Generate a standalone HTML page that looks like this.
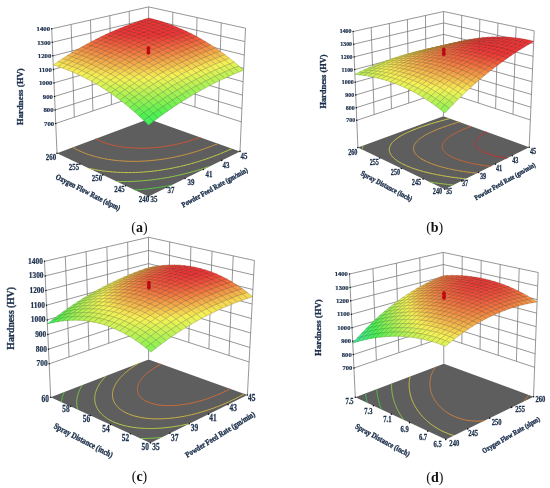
<!DOCTYPE html>
<html><head><meta charset="utf-8"><title>Hardness response surfaces</title><style>html,body{margin:0;padding:0;background:#fff;overflow:hidden;}svg{display:block;}</style></head>
<body><svg width="550" height="488" viewBox="0 0 550 488" font-family="'Liberation Serif', 'Times New Roman', serif" font-weight="bold" fill="#1b2f4b" stroke-width="0.45"><g><path d="M55.73,123.48L148.6,92.15L241.32,121.89M55.15,109.95L148.6,79.97L241.91,108.51M54.58,96.43L148.6,67.79L242.51,95.12M54,82.9L148.6,55.61L243.11,81.74M53.43,69.38L148.6,43.44L243.71,68.35M52.85,55.85L148.6,31.26L244.3,54.97M52.28,42.33L148.6,19.08L244.9,41.58M51.7,28.8L148.6,6.9L245.5,28.2M57,153.3L51.7,28.8M74.3,117.21L71.08,24.42M92.88,110.95L90.46,20.04M111.45,104.68L109.84,15.66M130.03,98.41L129.22,11.28M148.6,119L148.6,6.9M240,151.4L245.5,28.2M218.14,114.45L221.28,22.88M194.96,107.02L197.05,17.55M171.78,99.58L172.82,12.23" stroke="#747474" stroke-width="0.75" fill="none"/>
<polygon points="148.5,196.5 57,153.3 148.6,119 240,151.4" fill="#5e5e5e"/>
<g fill="none" stroke-width="1.0"><polyline points="134.71,189.99 135.91,189.92 137.14,189.83 138.73,189.72 140.2,189.6 141.29,189.51 142.66,189.39 144.2,189.24 145.74,189.09 146.94,188.96 148.1,188.84 149.51,188.67 150.99,188.49 152.47,188.31 153.93,188.12 155.33,187.92 156.58,187.75 157.85,187.56 159.13,187.36 160.43,187.16 161.78,186.94 163.17,186.71 164.56,186.47 165.93,186.23 167.3,185.98 168.65,185.73 170.01,185.47 171.46,185.18 171.46,185.18" stroke="#54cc45"/><polyline points="116.53,181.41 118.17,181.46 119.39,181.49 120.85,181.51 122.18,181.53 123.58,181.54 124.91,181.53 126.38,181.52 127.57,181.51 129.25,181.48 130.22,181.45 131.9,181.4 133.19,181.35 134.42,181.3 136.08,181.22 137.27,181.15 138.54,181.07 140.15,180.97 141.5,180.87 142.58,180.78 144.11,180.66 145.66,180.52 147.03,180.38 148.17,180.27 149.48,180.13 150.98,179.96 152.47,179.79 153.94,179.6 155.3,179.43 156.54,179.26 157.79,179.08 159.06,178.9 160.43,178.7 161.83,178.48 163.23,178.25 164.62,178.02 165.99,177.78 167.36,177.54 168.71,177.29 170.06,177.04 171.39,176.78 172.83,176.49 174.33,176.18 175.87,175.86 177.28,175.55 178.57,175.27 179.84,174.98 181.11,174.68 182.37,174.38 184.03,173.98 185.48,173.62 186.72,173.31 187.94,172.99 189.41,172.6 190.97,172.18 192.17,171.85 193.36,171.52 195.13,171.01 196.3,170.67 197.47,170.32 199.21,169.8 200.36,169.44 201.86,168.97 203.2,168.54 204.33,168.18 206.01,167.63 207.12,167.25 208.78,166.69 209.46,166.45" stroke="#8fcd47"/><polyline points="88.78,168.3 90.39,168.67 91.67,168.94 92.97,169.21 94.29,169.47 95.63,169.72 96.99,169.97 98.36,170.2 99.75,170.43 101.17,170.64 102.6,170.85 104.05,171.04 105.45,171.22 106.64,171.36 107.8,171.49 109.3,171.65 110.85,171.8 112.27,171.92 113.35,172.01 114.83,172.11 116.47,172.22 117.52,172.28 118.96,172.35 120.52,172.42 121.52,172.46 123.27,172.51 124.38,172.53 125.93,172.56 127.17,172.57 128.67,172.57 129.9,172.56 131.48,172.55 132.55,172.53 134.29,172.48 135.35,172.45 136.85,172.39 138.35,172.33 139.37,172.28 140.99,172.18 142.49,172.09 143.56,172.01 145.01,171.9 146.58,171.78 147.93,171.65 149.06,171.55 150.43,171.41 151.94,171.25 153.44,171.08 154.9,170.91 156.12,170.76 157.35,170.59 158.6,170.43 159.99,170.23 161.41,170.02 162.82,169.8 164.21,169.58 165.59,169.35 166.96,169.11 168.32,168.87 169.66,168.63 171,168.37 172.32,168.12 173.75,167.83 175.29,167.51 176.87,167.18 178.16,166.89 179.43,166.61 180.69,166.32 181.94,166.02 183.56,165.63 185.03,165.27 186.25,164.96 187.46,164.64 189.11,164.21 190.45,163.84 191.64,163.51 193.15,163.09 194.56,162.68 195.72,162.34 197.44,161.82 198.58,161.47 199.91,161.05 201.39,160.58 202.51,160.22 204.16,159.67 205.26,159.31 206.89,158.75 208.04,158.35 209.58,157.8 211.17,157.23 212.23,156.84 213.8,156.25 214.93,155.82 216.38,155.26 217.91,154.66 219.31,154.11 220.44,153.65 221.93,153.03 223.42,152.41 224.89,151.79 225.86,151.37 227.31,150.73 228.75,150.09 230.17,149.45 231.58,148.8 232.05,148.58" stroke="#c4ce49"/><polyline points="72.85,147.36 74.04,148.06 74.84,148.51 76.08,149.18 77.35,149.84 78.66,150.49 80,151.12 81.38,151.74 82.8,152.34 84.25,152.93 85.73,153.51 86.8,153.9 88.3,154.43 89.88,154.97 90.96,155.32 92.62,155.82 93.74,156.15 95.39,156.61 96.63,156.94 97.82,157.24 99.35,157.61 100.87,157.96 102.13,158.23 103.4,158.49 104.7,158.74 106.01,158.99 107.35,159.22 108.71,159.44 110.1,159.66 111.5,159.86 112.93,160.05 114.39,160.23 115.86,160.4 117.37,160.56 118.61,160.67 119.73,160.77 121.24,160.89 122.84,161 124.02,161.07 125.29,161.14 126.97,161.22 128.06,161.25 129.54,161.3 130.96,161.33 132.19,161.34 133.76,161.35 134.92,161.35 136.47,161.33 137.73,161.31 139.1,161.27 140.65,161.22 141.67,161.18 143.34,161.1 144.69,161.03 145.81,160.96 147.42,160.85 148.94,160.74 150.03,160.65 151.34,160.53 152.88,160.38 154.39,160.23 155.76,160.07 156.96,159.93 158.18,159.78 159.55,159.61 160.98,159.41 162.4,159.21 163.81,159 165.2,158.78 166.57,158.55 167.93,158.32 169.28,158.08 170.62,157.84 171.94,157.59 173.25,157.33 174.72,157.03 176.32,156.7 177.74,156.39 179,156.11 180.24,155.82 181.48,155.53 183.22,155.11 184.53,154.78 185.73,154.47 187.06,154.12 188.69,153.69 189.86,153.36 191.28,152.96 192.74,152.54 193.87,152.2 195.56,151.69 196.68,151.35 198.34,150.82 199.43,150.47 201.06,149.93 202.14,149.56 203.74,149.01 204.81,148.64 206.36,148.08 207.92,147.51 208.94,147.13 210.47,146.55 211.98,145.96 213.48,145.37 214.47,144.97 215.94,144.37 217.39,143.76 217.87,143.56" stroke="#cf9840"/><polyline points="95.73,138.8 96.95,139.43 98.16,140.03 99.08,140.46 100.42,141.05 101.8,141.63 103.23,142.19 104.21,142.55 105.72,143.07 107.28,143.58 108.35,143.91 109.99,144.38 111.12,144.68 112.85,145.12 114.03,145.4 115.24,145.66 116.6,145.95 118.25,146.26 119.68,146.51 121,146.73 122.36,146.93 123.75,147.13 125.16,147.3 126.52,147.46 127.73,147.58 128.9,147.69 130.36,147.81 131.93,147.92 133.32,148.01 134.36,148.06 136,148.13 137.39,148.17 138.57,148.19 140.26,148.21 141.24,148.21 143.02,148.2 144.01,148.18 145.66,148.14 146.91,148.09 148.22,148.04 149.88,147.95 150.98,147.88 152.31,147.79 153.89,147.66 155.34,147.54 156.47,147.43 157.72,147.3 159.21,147.13 160.67,146.96 162.12,146.77 163.54,146.58 164.94,146.37 166.33,146.16 167.69,145.94 169.04,145.71 170.37,145.47 171.68,145.23 172.98,144.98 174.27,144.72 175.54,144.46 177.22,144.09 178.65,143.77 179.87,143.49 181.07,143.2 182.82,142.76 184.04,142.45 185.2,142.14 186.92,141.66 188.06,141.34 189.59,140.9 190.85,140.52 192.3,140.08 193.57,139.67 195.18,139.15 196.23,138.8 197.8,138.26 199.14,137.79 200.37,137.35 200.37,137.35" stroke="#cc5634"/></g>
<g fill="#111"><circle cx="55.73" cy="123.48" r="0.75"/><circle cx="55.15" cy="109.95" r="0.75"/><circle cx="54.58" cy="96.43" r="0.75"/><circle cx="54" cy="82.9" r="0.75"/><circle cx="53.43" cy="69.38" r="0.75"/><circle cx="52.85" cy="55.85" r="0.75"/><circle cx="52.28" cy="42.33" r="0.75"/><circle cx="51.7" cy="28.8" r="0.75"/><circle cx="125.62" cy="185.7" r="0.8"/><circle cx="102.75" cy="174.9" r="0.8"/><circle cx="79.88" cy="164.1" r="0.8"/><circle cx="57" cy="153.3" r="0.8"/><circle cx="166.8" cy="187.48" r="0.8"/><circle cx="185.1" cy="178.46" r="0.8"/><circle cx="203.4" cy="169.44" r="0.8"/><circle cx="221.7" cy="160.42" r="0.8"/><circle cx="240" cy="151.4" r="0.8"/><circle cx="148.5" cy="196.5" r="0.8"/></g>
<g font-size="6.75" text-anchor="end" stroke="#1b2f4b" stroke-width="0.22"><text x="54.13" y="125.71">700</text><text x="53.55" y="112.18">800</text><text x="52.98" y="98.66">900</text><text x="52.4" y="85.13">1000</text><text x="51.83" y="71.6">1100</text><text x="51.25" y="58.08">1200</text><text x="50.68" y="44.55">1300</text><text x="50.1" y="31.03">1400</text></g>
<g font-size="6.9" text-anchor="middle" stroke="#1b2f4b" stroke-width="0.2"><text transform="translate(144,199) scale(1,1.28)" y="2.28">240</text><text transform="translate(119.5,189) scale(1,1.28)" y="2.28">245</text><text transform="translate(97,178) scale(1,1.28)" y="2.28">250</text><text transform="translate(74,167) scale(1,1.28)" y="2.28">255</text><text transform="translate(51,157) scale(1,1.28)" y="2.28">260</text><text transform="translate(154,199) scale(1,1.28)" y="2.28">35</text><text transform="translate(171,190.5) scale(1,1.28)" y="2.28">37</text><text transform="translate(191,182.3) scale(1,1.28)" y="2.28">39</text><text transform="translate(209,174) scale(1,1.28)" y="2.28">41</text><text transform="translate(226,165) scale(1,1.28)" y="2.28">43</text><text transform="translate(244,156) scale(1,1.28)" y="2.28">45</text></g>
<g stroke-width="0.38" stroke-linejoin="round"><path d="M148.6,20.8L143.78,19.56L148.6,18.02L153.42,19.24Z" fill="#ee3434" stroke="#942020"/><path d="M143.78,22.43L138.97,21.18L143.78,19.56L148.6,20.8Z" fill="#ee3434" stroke="#942020"/><path d="M153.42,22.17L148.6,20.8L153.42,19.24L158.23,20.6Z" fill="#ee3434" stroke="#942020"/><path d="M158.23,23.67L153.42,22.17L158.23,20.6L163.05,22.09Z" fill="#ee3434" stroke="#942020"/><path d="M148.6,23.82L143.78,22.43L148.6,20.8L153.42,22.17Z" fill="#ee3434" stroke="#942020"/><path d="M138.97,24.15L134.15,22.89L138.97,21.18L143.78,22.43Z" fill="#ee3434" stroke="#942020"/><path d="M153.41,25.34L148.6,23.82L153.42,22.17L158.23,23.67Z" fill="#ee3434" stroke="#942020"/><path d="M134.16,25.94L129.34,24.67L134.15,22.89L138.97,24.15Z" fill="#ee3434" stroke="#942020"/><path d="M163.04,25.32L158.23,23.67L163.05,22.09L167.86,23.72Z" fill="#ee3434" stroke="#942020"/><path d="M143.78,25.54L138.97,24.15L143.78,22.43L148.6,23.82Z" fill="#ee3434" stroke="#942020"/><path d="M167.85,27.1L163.04,25.32L167.86,23.72L172.67,25.49Z" fill="#ee3434" stroke="#942020"/><path d="M158.23,27L153.41,25.34L158.23,23.67L163.04,25.32Z" fill="#ee3434" stroke="#942020"/><path d="M148.6,27.08L143.78,25.54L148.6,23.82L153.41,25.34Z" fill="#ee3434" stroke="#942020"/><path d="M138.97,27.35L134.16,25.94L138.97,24.15L143.78,25.54Z" fill="#ee3434" stroke="#942020"/><path d="M129.35,27.81L124.54,26.53L129.34,24.67L134.16,25.94Z" fill="#ee3434" stroke="#942020"/><path d="M172.65,29.03L167.85,27.1L172.67,25.49L177.47,27.4Z" fill="#ee3434" stroke="#942020"/><path d="M153.41,28.75L148.6,27.08L153.41,25.34L158.23,27Z" fill="#ee3434" stroke="#942020"/><path d="M143.79,28.9L138.97,27.35L143.78,25.54L148.6,27.08Z" fill="#ee3434" stroke="#942020"/><path d="M124.55,29.77L119.74,28.47L124.54,26.53L129.35,27.81Z" fill="#ee3434" stroke="#942020"/><path d="M163.03,28.8L158.23,27L163.04,25.32L167.85,27.1Z" fill="#ee3434" stroke="#942020"/><path d="M134.16,29.24L129.35,27.81L134.16,25.94L138.97,27.35Z" fill="#ee3434" stroke="#942020"/><path d="M167.84,30.74L163.03,28.8L167.85,27.1L172.65,29.03Z" fill="#ee3434" stroke="#942020"/><path d="M148.6,30.59L143.79,28.9L148.6,27.08L153.41,28.75Z" fill="#ee3434" stroke="#942020"/><path d="M138.98,30.8L134.16,29.24L138.97,27.35L143.79,28.9Z" fill="#ee3434" stroke="#942020"/><path d="M119.75,31.81L114.94,30.5L119.74,28.47L124.55,29.77Z" fill="#ee3434" stroke="#942020"/><path d="M177.45,31.1L172.65,29.03L177.47,27.4L182.26,29.46Z" fill="#ee3434" stroke="#942020"/><path d="M158.22,30.57L153.41,28.75L158.23,27L163.03,28.8Z" fill="#ee3434" stroke="#942020"/><path d="M129.36,31.21L124.55,29.77L129.35,27.81L134.16,29.24Z" fill="#ee3434" stroke="#942020"/><path d="M182.24,33.32L177.45,31.1L182.26,29.46L187.05,31.66Z" fill="#ee3434" stroke="#942020"/><path d="M172.64,32.83L167.84,30.74L172.65,29.03L177.45,31.1Z" fill="#ee3434" stroke="#942020"/><path d="M163.03,32.53L158.22,30.57L163.03,28.8L167.84,30.74Z" fill="#ee3434" stroke="#942020"/><path d="M153.41,32.42L148.6,30.59L153.41,28.75L158.22,30.57Z" fill="#ee3434" stroke="#942020"/><path d="M143.79,32.51L138.98,30.8L143.79,28.9L148.6,30.59Z" fill="#ee3434" stroke="#942020"/><path d="M134.17,32.79L129.36,31.21L134.16,29.24L138.98,30.8Z" fill="#ee3434" stroke="#942020"/><path d="M124.56,33.27L119.75,31.81L124.55,29.77L129.36,31.21Z" fill="#ee3434" stroke="#942020"/><path d="M114.95,33.94L110.15,32.61L114.94,30.5L119.75,31.81Z" fill="#ee3534" stroke="#942120"/><path d="M177.43,35.06L172.64,32.83L177.45,31.1L182.24,33.32Z" fill="#ee3434" stroke="#942020"/><path d="M158.22,34.4L153.41,32.42L158.22,30.57L163.03,32.53Z" fill="#ee3434" stroke="#942020"/><path d="M129.37,34.86L124.56,33.27L129.36,31.21L134.17,32.79Z" fill="#ee3434" stroke="#942020"/><path d="M110.17,36.15L105.36,34.81L110.15,32.61L114.95,33.94Z" fill="#ee3f36" stroke="#942721"/><path d="M187.03,35.69L182.24,33.32L187.05,31.66L191.83,34.01Z" fill="#ee3b35" stroke="#942521"/><path d="M167.83,34.63L163.03,32.53L167.84,30.74L172.64,32.83Z" fill="#ee3434" stroke="#942020"/><path d="M148.6,34.36L143.79,32.51L148.6,30.59L153.41,32.42Z" fill="#ee3434" stroke="#942020"/><path d="M138.98,34.51L134.17,32.79L138.98,30.8L143.79,32.51Z" fill="#ee3434" stroke="#942020"/><path d="M119.76,35.41L114.95,33.94L119.75,31.81L124.56,33.27Z" fill="#ee3534" stroke="#942120"/><path d="M191.8,38.2L187.03,35.69L191.83,34.01L196.61,36.5Z" fill="#ef4938" stroke="#942d23"/><path d="M182.22,37.45L177.43,35.06L182.24,33.32L187.03,35.69Z" fill="#ee3e36" stroke="#942721"/><path d="M172.62,36.89L167.83,34.63L172.64,32.83L177.43,35.06Z" fill="#ee3634" stroke="#942220"/><path d="M163.02,36.52L158.22,34.4L163.03,32.53L167.83,34.63Z" fill="#ee3434" stroke="#942020"/><path d="M153.41,36.35L148.6,34.36L153.41,32.42L158.22,34.4Z" fill="#ee3434" stroke="#942020"/><path d="M143.79,36.38L138.98,34.51L143.79,32.51L148.6,34.36Z" fill="#ee3434" stroke="#942020"/><path d="M134.18,36.6L129.37,34.86L134.17,32.79L138.98,34.51Z" fill="#ee3434" stroke="#942020"/><path d="M124.57,37.02L119.76,35.41L124.56,33.27L129.37,34.86Z" fill="#ee3735" stroke="#942221"/><path d="M114.97,37.63L110.17,36.15L114.95,33.94L119.76,35.41Z" fill="#ee4036" stroke="#942722"/><path d="M105.38,38.45L100.58,37.09L105.36,34.81L110.17,36.15Z" fill="#ef4b38" stroke="#942e23"/><path d="M196.57,40.87L191.8,38.2L196.61,36.5L201.37,39.16Z" fill="#f0583b" stroke="#953724"/><path d="M177.41,39.29L172.62,36.89L177.43,35.06L182.22,37.45Z" fill="#ef4237" stroke="#942922"/><path d="M167.81,38.79L163.02,36.52L167.83,34.63L172.62,36.89Z" fill="#ee3b35" stroke="#942521"/><path d="M148.6,38.39L143.79,36.38L148.6,34.36L153.41,36.35Z" fill="#ee3634" stroke="#942120"/><path d="M129.38,38.77L124.57,37.02L129.37,34.86L134.18,36.6Z" fill="#ee3b35" stroke="#942421"/><path d="M119.78,39.26L114.97,37.63L119.76,35.41L124.57,37.02Z" fill="#ef4136" stroke="#942922"/><path d="M187,39.98L182.22,37.45L187.03,35.69L191.8,38.2Z" fill="#ef4c38" stroke="#942f23"/><path d="M158.21,38.49L153.41,36.35L158.22,34.4L163.02,36.52Z" fill="#ee3735" stroke="#942221"/><path d="M138.99,38.48L134.18,36.6L138.98,34.51L143.79,36.38Z" fill="#ee3735" stroke="#942221"/><path d="M110.19,39.95L105.38,38.45L110.17,36.15L114.97,37.63Z" fill="#ef4b38" stroke="#942e23"/><path d="M100.61,40.84L95.81,39.46L100.58,37.09L105.38,38.45Z" fill="#ef573a" stroke="#943624"/><path d="M191.77,42.67L187,39.98L191.8,38.2L196.57,40.87Z" fill="#f05b3b" stroke="#953925"/><path d="M172.6,41.21L167.81,38.79L172.62,36.89L177.41,39.29Z" fill="#ef4737" stroke="#942c22"/><path d="M163.01,40.78L158.21,38.49L163.02,36.52L167.81,38.79Z" fill="#ef4136" stroke="#942822"/><path d="M143.8,40.5L138.99,38.48L143.79,36.38L148.6,38.39Z" fill="#ee3e36" stroke="#942621"/><path d="M124.59,41.03L119.78,39.26L124.57,37.02L129.38,38.77Z" fill="#ef4537" stroke="#942b22"/><path d="M114.99,41.59L110.19,39.95L114.97,37.63L119.78,39.26Z" fill="#ef4c38" stroke="#942f23"/><path d="M95.84,43.31L91.04,41.92L95.81,39.46L100.61,40.84Z" fill="#f0643d" stroke="#953e26"/><path d="M201.32,43.7L196.57,40.87L201.37,39.16L206.12,41.96Z" fill="#f0693e" stroke="#954126"/><path d="M182.19,41.84L177.41,39.29L182.22,37.45L187,39.98Z" fill="#ef5039" stroke="#943223"/><path d="M153.4,40.54L148.6,38.39L153.41,36.35L158.21,38.49Z" fill="#ee3e36" stroke="#942721"/><path d="M134.19,40.67L129.38,38.77L134.18,36.6L138.99,38.48Z" fill="#ee4036" stroke="#942822"/><path d="M105.41,42.35L100.61,40.84L105.38,38.45L110.19,39.95Z" fill="#ef573a" stroke="#943624"/><path d="M206.07,46.68L201.32,43.7L206.12,41.96L210.86,44.92Z" fill="#f17c41" stroke="#954d28"/><path d="M196.53,45.51L191.77,42.67L196.57,40.87L201.32,43.7Z" fill="#f06c3e" stroke="#954326"/><path d="M186.96,44.55L182.19,41.84L187,39.98L191.77,42.67Z" fill="#f05f3c" stroke="#953b25"/><path d="M177.39,43.78L172.6,41.21L177.41,39.29L182.19,41.84Z" fill="#ef553a" stroke="#943424"/><path d="M167.8,43.22L163.01,40.78L167.81,38.79L172.6,41.21Z" fill="#ef4d38" stroke="#943023"/><path d="M158.2,42.85L153.4,40.54L158.21,38.49L163.01,40.78Z" fill="#ef4838" stroke="#942d22"/><path d="M148.6,42.68L143.8,40.5L148.6,38.39L153.4,40.54Z" fill="#ef4637" stroke="#942b22"/><path d="M139,42.71L134.19,40.67L138.99,38.48L143.8,40.5Z" fill="#ef4637" stroke="#942c22"/><path d="M129.4,42.94L124.59,41.03L129.38,38.77L134.19,40.67Z" fill="#ef4a38" stroke="#942e23"/><path d="M119.8,43.37L114.99,41.59L119.78,39.26L124.59,41.03Z" fill="#ef5039" stroke="#943123"/><path d="M110.21,44.01L105.41,42.35L110.19,39.95L114.99,41.59Z" fill="#f0583a" stroke="#953724"/><path d="M100.64,44.84L95.84,43.31L100.61,40.84L105.41,42.35Z" fill="#f0643d" stroke="#953e26"/><path d="M91.08,45.88L86.28,44.48L91.04,41.92L95.84,43.31Z" fill="#f1723f" stroke="#954727"/><path d="M210.8,49.81L206.07,46.68L210.86,44.92L215.59,48.04Z" fill="#f29044" stroke="#96592a"/><path d="M201.27,48.51L196.53,45.51L201.32,43.7L206.07,46.68Z" fill="#f17e41" stroke="#954e28"/><path d="M191.73,47.41L186.96,44.55L191.77,42.67L196.53,45.51Z" fill="#f16f3f" stroke="#954527"/><path d="M182.16,46.51L177.39,43.78L182.19,41.84L186.96,44.55Z" fill="#f0633c" stroke="#953e26"/><path d="M172.58,45.81L167.8,43.22L172.6,41.21L177.39,43.78Z" fill="#f05a3b" stroke="#953824"/><path d="M163,45.3L158.2,42.85L163.01,40.78L167.8,43.22Z" fill="#ef543a" stroke="#943424"/><path d="M153.4,45L148.6,42.68L153.4,40.54L158.2,42.85Z" fill="#ef5039" stroke="#943123"/><path d="M143.8,44.9L139,42.71L143.8,40.5L148.6,42.68Z" fill="#ef4e39" stroke="#943123"/><path d="M134.2,45L129.4,42.94L134.19,40.67L139,42.71Z" fill="#ef5039" stroke="#943223"/><path d="M124.61,45.3L119.8,43.37L124.59,41.03L129.4,42.94Z" fill="#ef543a" stroke="#943424"/><path d="M115.02,45.81L110.21,44.01L114.99,41.59L119.8,43.37Z" fill="#f05b3b" stroke="#953925"/><path d="M105.44,46.52L100.64,44.84L105.41,42.35L110.21,44.01Z" fill="#f0653d" stroke="#953f26"/><path d="M95.87,47.43L91.08,45.88L95.84,43.31L100.64,44.84Z" fill="#f1713f" stroke="#954627"/><path d="M86.32,48.54L81.53,47.12L86.28,44.48L91.08,45.88Z" fill="#f18142" stroke="#965029"/><path d="M215.52,53.11L210.8,49.81L215.59,48.04L220.3,51.31Z" fill="#f3a548" stroke="#97662d"/><path d="M206.01,51.67L201.27,48.51L206.07,46.68L210.8,49.81Z" fill="#f29245" stroke="#965b2b"/><path d="M196.48,50.43L191.73,47.41L196.53,45.51L201.27,48.51Z" fill="#f18242" stroke="#965029"/><path d="M186.93,49.39L182.16,46.51L186.96,44.55L191.73,47.41Z" fill="#f1743f" stroke="#954827"/><path d="M177.36,48.55L172.58,45.81L177.39,43.78L182.16,46.51Z" fill="#f0693d" stroke="#954126"/><path d="M167.78,47.91L163,45.3L167.8,43.22L172.58,45.81Z" fill="#f0613c" stroke="#953c25"/><path d="M158.2,47.48L153.4,45L158.2,42.85L163,45.3Z" fill="#f05b3b" stroke="#953825"/><path d="M148.6,47.24L143.8,44.9L148.6,42.68L153.4,45Z" fill="#f0583a" stroke="#953724"/><path d="M139.01,47.21L134.2,45L139,42.71L143.8,44.9Z" fill="#f0583a" stroke="#943724"/><path d="M129.41,47.38L124.61,45.3L129.4,42.94L134.2,45Z" fill="#f05a3b" stroke="#953825"/><path d="M119.82,47.76L115.02,45.81L119.8,43.37L124.61,45.3Z" fill="#f0603c" stroke="#953b25"/><path d="M110.24,48.33L105.44,46.52L110.21,44.01L115.02,45.81Z" fill="#f0683d" stroke="#954026"/><path d="M100.67,49.12L95.87,47.43L100.64,44.84L105.44,46.52Z" fill="#f1723f" stroke="#954727"/><path d="M91.11,50.1L86.32,48.54L91.08,45.88L95.87,47.43Z" fill="#f18042" stroke="#964f29"/><path d="M81.58,51.29L76.79,49.86L81.53,47.12L86.32,48.54Z" fill="#f29044" stroke="#96592a"/><path d="M220.22,56.57L215.52,53.11L220.3,51.31L225,54.75Z" fill="#f4bc4c" stroke="#97752f"/><path d="M210.73,54.99L206.01,51.67L210.8,49.81L215.52,53.11Z" fill="#f3a749" stroke="#97682d"/><path d="M201.22,53.61L196.48,50.43L201.27,48.51L206.01,51.67Z" fill="#f29545" stroke="#965c2b"/><path d="M191.68,52.43L186.93,49.39L191.73,47.41L196.48,50.43Z" fill="#f18643" stroke="#965329"/><path d="M172.56,50.68L167.78,47.91L172.58,45.81L177.36,48.55Z" fill="#f06f3f" stroke="#954527"/><path d="M162.98,50.11L158.2,47.48L163,45.3L167.78,47.91Z" fill="#f0683d" stroke="#954026"/><path d="M153.4,49.74L148.6,47.24L153.4,45L158.2,47.48Z" fill="#f0633c" stroke="#953d25"/><path d="M143.81,49.57L139.01,47.21L143.8,44.9L148.6,47.24Z" fill="#f0613c" stroke="#953c25"/><path d="M134.22,49.61L129.41,47.38L134.2,45L139.01,47.21Z" fill="#f0623c" stroke="#953d25"/><path d="M124.63,49.85L119.82,47.76L124.61,45.3L129.41,47.38Z" fill="#f0663d" stroke="#953f26"/><path d="M105.47,50.95L100.67,49.12L105.44,46.52L110.24,48.33Z" fill="#f17540" stroke="#954927"/><path d="M95.91,51.81L91.11,50.1L95.87,47.43L100.67,49.12Z" fill="#f18142" stroke="#965029"/><path d="M86.37,52.87L81.58,51.29L86.32,48.54L91.11,50.1Z" fill="#f28f44" stroke="#96592a"/><path d="M76.84,54.14L72.06,52.69L76.79,49.86L81.58,51.29Z" fill="#f3a047" stroke="#96632c"/><path d="M182.13,51.45L177.36,48.55L182.16,46.51L186.93,49.39Z" fill="#f17940" stroke="#954b28"/><path d="M115.04,50.3L110.24,48.33L115.02,45.81L119.82,47.76Z" fill="#f06c3e" stroke="#954326"/><path d="M215.44,58.47L210.73,54.99L215.52,53.11L220.22,56.57Z" fill="#f4be4d" stroke="#977630"/><path d="M196.43,55.63L191.68,52.43L196.48,50.43L201.22,53.61Z" fill="#f29946" stroke="#965f2b"/><path d="M186.89,54.52L182.13,51.45L186.93,49.39L191.68,52.43Z" fill="#f28b44" stroke="#96562a"/><path d="M167.77,52.89L162.98,50.11L167.78,47.91L172.56,50.68Z" fill="#f17640" stroke="#954928"/><path d="M148.6,52.08L143.81,49.57L148.6,47.24L153.4,49.74Z" fill="#f06c3e" stroke="#954326"/><path d="M139.02,51.99L134.22,49.61L139.01,47.21L143.81,49.57Z" fill="#f06b3e" stroke="#954326"/><path d="M119.85,52.41L115.04,50.3L119.82,47.76L124.63,49.85Z" fill="#f1723f" stroke="#954727"/><path d="M100.71,53.66L95.91,51.81L100.67,49.12L105.47,50.95Z" fill="#f18342" stroke="#965129"/><path d="M91.16,54.59L86.37,52.87L91.11,50.1L95.91,51.81Z" fill="#f29044" stroke="#96592a"/><path d="M72.12,57.08L67.34,55.62L72.06,52.69L76.84,54.14Z" fill="#f3b24a" stroke="#976e2e"/><path d="M224.91,60.2L220.22,56.57L225,54.75L229.68,58.35Z" fill="#f5d551" stroke="#988432"/><path d="M205.95,56.95L201.22,53.61L206.01,51.67L210.73,54.99Z" fill="#f3aa49" stroke="#976a2d"/><path d="M177.33,53.6L172.56,50.68L177.36,48.55L182.13,51.45Z" fill="#f17f41" stroke="#964f29"/><path d="M158.19,52.39L153.4,49.74L158.2,47.48L162.98,50.11Z" fill="#f1703f" stroke="#954527"/><path d="M129.43,52.1L124.63,49.85L129.41,47.38L134.22,49.61Z" fill="#f06d3e" stroke="#954427"/><path d="M110.27,52.93L105.47,50.95L110.24,48.33L115.04,50.3Z" fill="#f17940" stroke="#954b28"/><path d="M81.63,55.73L76.84,54.14L81.58,51.29L86.37,52.87Z" fill="#f39f47" stroke="#96632c"/><path d="M229.58,63.99L224.91,60.2L229.68,58.35L234.35,62.12Z" fill="#f6ef55" stroke="#989435"/><path d="M220.14,62.12L215.44,58.47L220.22,56.57L224.91,60.2Z" fill="#f5d651" stroke="#988532"/><path d="M210.66,60.45L205.95,56.95L210.73,54.99L215.44,58.47Z" fill="#f4c14d" stroke="#977830"/><path d="M201.16,58.99L196.43,55.63L201.22,53.61L205.95,56.95Z" fill="#f3ae4a" stroke="#976c2e"/><path d="M191.64,57.74L186.89,54.52L191.68,52.43L196.43,55.63Z" fill="#f29e47" stroke="#96622c"/><path d="M182.09,56.68L177.33,53.6L182.13,51.45L186.89,54.52Z" fill="#f29145" stroke="#965a2b"/><path d="M172.54,55.83L167.77,52.89L172.56,50.68L177.33,53.6Z" fill="#f18643" stroke="#965329"/><path d="M162.97,55.19L158.19,52.39L162.98,50.11L167.77,52.89Z" fill="#f17e41" stroke="#954e28"/><path d="M153.39,54.75L148.6,52.08L153.4,49.74L158.19,52.39Z" fill="#f17940" stroke="#954b28"/><path d="M143.81,54.52L139.02,51.99L143.81,49.57L148.6,52.08Z" fill="#f17640" stroke="#954928"/><path d="M134.23,54.49L129.43,52.1L134.22,49.61L139.02,51.99Z" fill="#f17640" stroke="#954928"/><path d="M124.65,54.68L119.85,52.41L124.63,49.85L129.43,52.1Z" fill="#f17940" stroke="#954b28"/><path d="M115.07,55.06L110.27,52.93L115.04,50.3L119.85,52.41Z" fill="#f17f41" stroke="#964f29"/><path d="M105.51,55.66L100.71,53.66L105.47,50.95L110.27,52.93Z" fill="#f28743" stroke="#965429"/><path d="M95.95,56.46L91.16,54.59L95.91,51.81L100.71,53.66Z" fill="#f29245" stroke="#965b2b"/><path d="M86.42,57.47L81.63,55.73L86.37,52.87L91.16,54.59Z" fill="#f3a047" stroke="#96632c"/><path d="M76.9,58.69L72.12,57.08L76.84,54.14L81.63,55.73Z" fill="#f3b04a" stroke="#976d2e"/><path d="M67.4,60.12L62.63,58.64L67.34,55.62L72.12,57.08Z" fill="#f4c44e" stroke="#977930"/><path d="M234.24,67.94L229.58,63.99L234.35,62.12L239,66.06Z" fill="#e0f255" stroke="#8b9635"/><path d="M224.81,65.93L220.14,62.12L224.91,60.2L229.58,63.99Z" fill="#f6f056" stroke="#989535"/><path d="M215.36,64.12L210.66,60.45L215.44,58.47L220.14,62.12Z" fill="#f5d952" stroke="#988733"/><path d="M205.88,62.52L201.16,58.99L205.95,56.95L210.66,60.45Z" fill="#f4c44e" stroke="#977a30"/><path d="M196.37,61.12L191.64,57.74L196.43,55.63L201.16,58.99Z" fill="#f3b34b" stroke="#976f2e"/><path d="M186.85,59.93L182.09,56.68L186.89,54.52L191.64,57.74Z" fill="#f3a448" stroke="#96652d"/><path d="M177.3,58.94L172.54,55.83L177.33,53.6L182.09,56.68Z" fill="#f29746" stroke="#965e2b"/><path d="M167.75,58.15L162.97,55.19L167.77,52.89L172.54,55.83Z" fill="#f28e44" stroke="#96582a"/><path d="M158.18,57.58L153.39,54.75L158.19,52.39L162.97,55.19Z" fill="#f18743" stroke="#965329"/><path d="M148.6,57.21L143.81,54.52L148.6,52.08L153.39,54.75Z" fill="#f18242" stroke="#965129"/><path d="M139.03,57.05L134.23,54.49L139.02,51.99L143.81,54.52Z" fill="#f18142" stroke="#965029"/><path d="M129.45,57.09L124.65,54.68L129.43,52.1L134.23,54.49Z" fill="#f18242" stroke="#965129"/><path d="M119.87,57.35L115.07,55.06L119.85,52.41L124.65,54.68Z" fill="#f18643" stroke="#965329"/><path d="M110.31,57.81L105.51,55.66L110.27,52.93L115.07,55.06Z" fill="#f28d44" stroke="#96572a"/><path d="M100.75,58.48L95.95,56.46L100.71,53.66L105.51,55.66Z" fill="#f29646" stroke="#965d2b"/><path d="M91.21,59.36L86.42,57.47L91.16,54.59L95.95,56.46Z" fill="#f3a248" stroke="#96642c"/><path d="M81.68,60.45L76.9,58.69L81.63,55.73L86.42,57.47Z" fill="#f3b14a" stroke="#976e2e"/><path d="M72.18,61.75L67.4,60.12L72.12,57.08L76.9,58.69Z" fill="#f4c24d" stroke="#977830"/><path d="M62.69,63.26L57.93,61.76L62.63,58.64L67.4,60.12Z" fill="#f5d651" stroke="#988532"/><path d="M238.87,72.07L234.24,67.94L239,66.06L243.63,70.16Z" fill="#c7f154" stroke="#7b9634"/><path d="M229.48,69.91L224.81,65.93L229.58,63.99L234.24,67.94Z" fill="#dff255" stroke="#8a9635"/><path d="M220.04,67.96L215.36,64.12L220.14,62.12L224.81,65.93Z" fill="#f5f256" stroke="#989635"/><path d="M210.58,66.21L205.88,62.52L210.66,60.45L215.36,64.12Z" fill="#f5dc52" stroke="#988933"/><path d="M201.09,64.67L196.37,61.12L201.16,58.99L205.88,62.52Z" fill="#f4c94f" stroke="#977d31"/><path d="M191.59,63.33L186.85,59.93L191.64,57.74L196.37,61.12Z" fill="#f4b84c" stroke="#97722f"/><path d="M182.06,62.2L177.3,58.94L182.09,56.68L186.85,59.93Z" fill="#f3aa49" stroke="#97692d"/><path d="M172.51,61.28L167.75,58.15L172.54,55.83L177.3,58.94Z" fill="#f29f47" stroke="#96622c"/><path d="M162.96,60.56L158.18,57.58L162.97,55.19L167.75,58.15Z" fill="#f29646" stroke="#965d2b"/><path d="M153.39,60.05L148.6,57.21L153.39,54.75L158.18,57.58Z" fill="#f29044" stroke="#96592a"/><path d="M143.82,59.75L139.03,57.05L143.81,54.52L148.6,57.21Z" fill="#f28d44" stroke="#96572a"/><path d="M134.25,59.66L129.45,57.09L134.23,54.49L139.03,57.05Z" fill="#f28c44" stroke="#96572a"/><path d="M124.67,59.78L119.87,57.35L124.65,54.68L129.45,57.09Z" fill="#f28f44" stroke="#96582a"/><path d="M115.11,60.11L110.31,57.81L115.07,55.06L119.87,57.35Z" fill="#f29445" stroke="#965b2b"/><path d="M105.55,60.65L100.75,58.48L105.51,55.66L110.31,57.81Z" fill="#f29b46" stroke="#96602c"/><path d="M96,61.39L91.21,59.36L95.95,56.46L100.75,58.48Z" fill="#f3a648" stroke="#97672d"/><path d="M86.47,62.35L81.68,60.45L86.42,57.47L91.21,59.36Z" fill="#f3b34b" stroke="#976f2e"/><path d="M76.96,63.52L72.18,61.75L76.9,58.69L81.68,60.45Z" fill="#f4c24d" stroke="#977930"/><path d="M67.47,64.9L62.69,63.26L67.4,60.12L72.18,61.75Z" fill="#f5d551" stroke="#988432"/><path d="M58,66.5L53.24,64.98L57.93,61.76L62.69,63.26Z" fill="#f6ea55" stroke="#989134"/><path d="M177.27,64.56L172.51,61.28L177.3,58.94L182.06,62.2Z" fill="#f3b14a" stroke="#976e2e"/><path d="M129.47,62.37L124.67,59.78L129.45,57.09L134.25,59.66Z" fill="#f29946" stroke="#965f2b"/><path d="M234.12,74.06L229.48,69.91L234.24,67.94L238.87,72.07Z" fill="#c6f154" stroke="#7b9634"/><path d="M224.71,71.96L220.04,67.96L224.81,65.93L229.48,69.91Z" fill="#ddf255" stroke="#899635"/><path d="M215.27,70.07L210.58,66.21L215.36,64.12L220.04,67.96Z" fill="#f3f256" stroke="#969635"/><path d="M205.8,68.38L201.09,64.67L205.88,62.52L210.58,66.21Z" fill="#f5e153" stroke="#988b33"/><path d="M186.8,65.63L182.06,62.2L186.85,59.93L191.59,63.33Z" fill="#f4be4d" stroke="#977630"/><path d="M167.72,63.71L162.96,60.56L167.75,58.15L172.51,61.28Z" fill="#f3a749" stroke="#97682d"/><path d="M158.17,63.06L153.39,60.05L158.18,57.58L162.96,60.56Z" fill="#f39f47" stroke="#96632c"/><path d="M119.91,62.56L115.11,60.11L119.87,57.35L124.67,59.78Z" fill="#f29c47" stroke="#96612c"/><path d="M110.35,62.97L105.55,60.65L110.31,57.81L115.11,60.11Z" fill="#f3a248" stroke="#96642c"/><path d="M100.8,63.58L96,61.39L100.75,58.48L105.55,60.65Z" fill="#f3ab49" stroke="#976a2d"/><path d="M81.74,65.44L76.96,63.52L81.68,60.45L86.47,62.35Z" fill="#f4c44e" stroke="#977a30"/><path d="M72.24,66.69L67.47,64.9L72.18,61.75L76.96,63.52Z" fill="#f5d551" stroke="#988432"/><path d="M62.77,68.16L58,66.5L62.69,63.26L67.47,64.9Z" fill="#f6e854" stroke="#989034"/><path d="M196.31,66.9L191.59,63.33L196.37,61.12L201.09,64.67Z" fill="#f4ce50" stroke="#988031"/><path d="M148.61,62.62L143.82,59.75L148.6,57.21L153.39,60.05Z" fill="#f29a46" stroke="#96602c"/><path d="M139.04,62.39L134.25,59.66L139.03,57.05L143.82,59.75Z" fill="#f29846" stroke="#965e2b"/><path d="M91.26,64.41L86.47,62.35L91.21,59.36L96,61.39Z" fill="#f3b64b" stroke="#97712f"/><path d="M219.94,74.1L215.27,70.07L220.04,67.96L224.71,71.96Z" fill="#dbf255" stroke="#889635"/><path d="M191.53,69.22L186.8,65.63L191.59,63.33L196.31,66.9Z" fill="#f5d451" stroke="#988432"/><path d="M172.48,67.01L167.72,63.71L172.51,61.28L177.27,64.56Z" fill="#f4b94c" stroke="#97732f"/><path d="M162.94,66.22L158.17,63.06L162.96,60.56L167.72,63.71Z" fill="#f3b04a" stroke="#976d2e"/><path d="M124.7,65.17L119.91,62.56L124.67,59.78L129.47,62.37Z" fill="#f3a648" stroke="#97672d"/><path d="M115.14,65.44L110.35,62.97L115.11,60.11L119.91,62.56Z" fill="#f3aa49" stroke="#976a2d"/><path d="M96.05,66.61L91.26,64.41L96,61.39L100.8,63.58Z" fill="#f4bb4c" stroke="#97742f"/><path d="M67.54,69.96L62.77,68.16L67.47,64.9L72.24,66.69Z" fill="#f6e854" stroke="#989034"/><path d="M229.36,76.14L224.71,71.96L229.48,69.91L234.12,74.06Z" fill="#c4f154" stroke="#799634"/><path d="M210.5,72.26L205.8,68.38L210.58,66.21L215.27,70.07Z" fill="#eff256" stroke="#949635"/><path d="M201.03,70.64L196.31,66.9L201.09,64.67L205.8,68.38Z" fill="#f5e654" stroke="#988e34"/><path d="M182.02,68.01L177.27,64.56L182.06,62.2L186.8,65.63Z" fill="#f4c54e" stroke="#977a30"/><path d="M153.38,65.64L148.61,62.62L153.39,60.05L158.17,63.06Z" fill="#f3a949" stroke="#97692d"/><path d="M143.82,65.28L139.04,62.39L143.82,59.75L148.61,62.62Z" fill="#f3a648" stroke="#97672d"/><path d="M134.26,65.12L129.47,62.37L134.25,59.66L139.04,62.39Z" fill="#f3a448" stroke="#96662d"/><path d="M105.59,65.92L100.8,63.58L105.55,60.65L110.35,62.97Z" fill="#f3b14a" stroke="#976e2e"/><path d="M86.53,67.51L81.74,65.44L86.47,62.35L91.26,64.41Z" fill="#f4c74e" stroke="#977c31"/><path d="M77.02,68.63L72.24,66.69L76.96,63.52L81.74,65.44Z" fill="#f5d651" stroke="#988532"/><path d="M224.6,78.3L219.94,74.1L224.71,71.96L229.36,76.14Z" fill="#c1f154" stroke="#789634"/><path d="M205.73,74.54L201.03,70.64L205.8,68.38L210.5,72.26Z" fill="#ebf256" stroke="#919635"/><path d="M196.25,72.98L191.53,69.22L196.31,66.9L201.03,70.64Z" fill="#f6ec55" stroke="#989235"/><path d="M186.75,71.63L182.02,68.01L186.8,65.63L191.53,69.22Z" fill="#f5db52" stroke="#988833"/><path d="M177.23,70.48L172.48,67.01L177.27,64.56L182.02,68.01Z" fill="#f4cd4f" stroke="#987f31"/><path d="M167.7,69.55L162.94,66.22L167.72,63.71L172.48,67.01Z" fill="#f4c24d" stroke="#977930"/><path d="M158.16,68.83L153.38,65.64L158.17,63.06L162.94,66.22Z" fill="#f4ba4c" stroke="#97732f"/><path d="M148.61,68.32L143.82,65.28L148.61,62.62L153.38,65.64Z" fill="#f3b44b" stroke="#97702e"/><path d="M139.05,68.03L134.26,65.12L139.04,62.39L143.82,65.28Z" fill="#f3b24a" stroke="#976e2e"/><path d="M129.49,67.94L124.7,65.17L129.47,62.37L134.26,65.12Z" fill="#f3b14a" stroke="#976e2e"/><path d="M119.94,68.07L115.14,65.44L119.91,62.56L124.7,65.17Z" fill="#f3b44b" stroke="#97702e"/><path d="M110.39,68.41L105.59,65.92L110.35,62.97L115.14,65.44Z" fill="#f4b94c" stroke="#97732f"/><path d="M100.85,68.97L96.05,66.61L100.8,63.58L105.59,65.92Z" fill="#f4c14d" stroke="#977830"/><path d="M81.81,70.72L77.02,68.63L81.74,65.44L86.53,67.51Z" fill="#f5d952" stroke="#988733"/><path d="M72.32,71.92L67.54,69.96L72.24,66.69L77.02,68.63Z" fill="#f6e954" stroke="#989134"/><path d="M215.18,76.32L210.5,72.26L215.27,70.07L219.94,74.1Z" fill="#d7f255" stroke="#859635"/><path d="M91.32,69.74L86.53,67.51L91.26,64.41L96.05,66.61Z" fill="#f4cc4f" stroke="#987e31"/><path d="M219.84,80.54L215.18,76.32L219.94,74.1L224.6,78.3Z" fill="#bef154" stroke="#769634"/><path d="M210.41,78.62L205.73,74.54L210.5,72.26L215.18,76.32Z" fill="#d3f255" stroke="#839635"/><path d="M200.95,76.91L196.25,72.98L201.03,70.64L205.73,74.54Z" fill="#e6f255" stroke="#8e9635"/><path d="M191.47,75.41L186.75,71.63L191.53,69.22L196.25,72.98Z" fill="#f6f256" stroke="#989635"/><path d="M181.97,74.12L177.23,70.48L182.02,68.01L186.75,71.63Z" fill="#f5e353" stroke="#988d34"/><path d="M172.45,73.05L167.7,69.55L172.48,67.01L177.23,70.48Z" fill="#f5d651" stroke="#988532"/><path d="M162.92,72.18L158.16,68.83L162.94,66.22L167.7,69.55Z" fill="#f4cc4f" stroke="#987f31"/><path d="M153.38,71.53L148.61,68.32L153.38,65.64L158.16,68.83Z" fill="#f4c54e" stroke="#977a30"/><path d="M143.83,71.09L139.05,68.03L143.82,65.28L148.61,68.32Z" fill="#f4c04d" stroke="#977730"/><path d="M134.28,70.87L129.49,67.94L134.26,65.12L139.05,68.03Z" fill="#f4be4d" stroke="#977630"/><path d="M124.73,70.86L119.94,68.07L124.7,65.17L129.49,67.94Z" fill="#f4bf4d" stroke="#977730"/><path d="M115.18,71.06L110.39,68.41L115.14,65.44L119.94,68.07Z" fill="#f4c34e" stroke="#977930"/><path d="M105.64,71.48L100.85,68.97L105.59,65.92L110.39,68.41Z" fill="#f4c94f" stroke="#977d31"/><path d="M96.11,72.12L91.32,69.74L96.05,66.61L100.85,68.97Z" fill="#f5d250" stroke="#988232"/><path d="M86.6,72.96L81.81,70.72L86.53,67.51L91.32,69.74Z" fill="#f5de52" stroke="#988a33"/><path d="M77.1,74.03L72.32,71.92L77.02,68.63L81.81,70.72Z" fill="#f6ec55" stroke="#989235"/><path d="M215.08,82.87L210.41,78.62L215.18,76.32L219.84,80.54Z" fill="#baf154" stroke="#739634"/><path d="M205.64,81.01L200.95,76.91L205.73,74.54L210.41,78.62Z" fill="#cef255" stroke="#809634"/><path d="M196.18,79.36L191.47,75.41L196.25,72.98L200.95,76.91Z" fill="#e0f255" stroke="#8b9635"/><path d="M186.7,77.93L181.97,74.12L186.75,71.63L191.47,75.41Z" fill="#eff256" stroke="#949635"/><path d="M177.19,76.71L172.45,73.05L177.23,70.48L181.97,74.12Z" fill="#f6eb55" stroke="#989235"/><path d="M167.68,75.7L162.92,72.18L167.7,69.55L172.45,73.05Z" fill="#f5e053" stroke="#988b33"/><path d="M158.15,74.91L153.38,71.53L158.16,68.83L162.92,72.18Z" fill="#f5d751" stroke="#988532"/><path d="M148.61,74.33L143.83,71.09L148.61,68.32L153.38,71.53Z" fill="#f5d050" stroke="#988132"/><path d="M139.06,73.96L134.28,70.87L139.05,68.03L143.83,71.09Z" fill="#f4cd4f" stroke="#987f31"/><path d="M129.52,73.81L124.73,70.86L129.49,67.94L134.28,70.87Z" fill="#f4cc4f" stroke="#987f31"/><path d="M119.97,73.87L115.18,71.06L119.94,68.07L124.73,70.86Z" fill="#f4ce50" stroke="#988031"/><path d="M110.43,74.15L105.64,71.48L110.39,68.41L115.18,71.06Z" fill="#f5d350" stroke="#988332"/><path d="M100.9,74.65L96.11,72.12L100.85,68.97L105.64,71.48Z" fill="#f5da52" stroke="#988733"/><path d="M91.38,75.36L86.6,72.96L91.32,69.74L96.11,72.12Z" fill="#f5e453" stroke="#988d34"/><path d="M81.88,76.29L77.1,74.03L81.81,70.72L86.6,72.96Z" fill="#f6f156" stroke="#989535"/><path d="M210.32,85.28L205.64,81.01L210.41,78.62L215.08,82.87Z" fill="#b5f154" stroke="#709634"/><path d="M200.87,83.49L196.18,79.36L200.95,76.91L205.64,81.01Z" fill="#c8f154" stroke="#7c9634"/><path d="M191.41,81.91L186.7,77.93L191.47,75.41L196.18,79.36Z" fill="#d9f255" stroke="#879635"/><path d="M181.92,80.54L177.19,76.71L181.97,74.12L186.7,77.93Z" fill="#e8f256" stroke="#909635"/><path d="M153.37,77.72L148.61,74.33L153.38,71.53L158.15,74.91Z" fill="#f5e253" stroke="#988c34"/><path d="M143.84,77.21L139.06,73.96L143.83,71.09L148.61,74.33Z" fill="#f5dd52" stroke="#988933"/><path d="M134.3,76.92L129.52,73.81L134.28,70.87L139.06,73.96Z" fill="#f5da52" stroke="#988733"/><path d="M105.69,77.34L100.9,74.65L105.64,71.48L110.43,74.15Z" fill="#f5e353" stroke="#988d34"/><path d="M96.17,77.92L91.38,75.36L96.11,72.12L100.9,74.65Z" fill="#f6eb55" stroke="#989235"/><path d="M86.67,78.71L81.88,76.29L86.6,72.96L91.38,75.36Z" fill="#f2f256" stroke="#969635"/><path d="M172.42,79.38L167.68,75.7L172.45,73.05L177.19,76.71Z" fill="#f3f256" stroke="#979635"/><path d="M162.9,78.45L158.15,74.91L162.92,72.18L167.68,75.7Z" fill="#f6ea55" stroke="#989134"/><path d="M124.76,76.84L119.97,73.87L124.73,70.86L129.52,73.81Z" fill="#f5db52" stroke="#988833"/><path d="M115.22,76.98L110.43,74.15L115.18,71.06L119.97,73.87Z" fill="#f5dd52" stroke="#988933"/><path d="M196.11,86.06L191.41,81.91L196.18,79.36L200.87,83.49Z" fill="#c2f154" stroke="#789634"/><path d="M148.61,80.63L143.84,77.21L148.61,74.33L153.37,77.72Z" fill="#f6ee55" stroke="#989435"/><path d="M139.08,80.2L134.3,76.92L139.06,73.96L143.84,77.21Z" fill="#f6ea55" stroke="#989134"/><path d="M91.45,81.28L86.67,78.71L91.38,75.36L96.17,77.92Z" fill="#ecf256" stroke="#929635"/><path d="M205.55,87.79L200.87,83.49L205.64,81.01L210.32,85.28Z" fill="#b0f154" stroke="#6d9634"/><path d="M186.64,84.54L181.92,80.54L186.7,77.93L191.41,81.91Z" fill="#d2f255" stroke="#829635"/><path d="M177.15,83.24L172.42,79.38L177.19,76.71L181.92,80.54Z" fill="#dff255" stroke="#8a9635"/><path d="M167.65,82.15L162.9,78.45L167.68,75.7L172.42,79.38Z" fill="#eaf256" stroke="#919635"/><path d="M158.13,81.28L153.37,77.72L158.15,74.91L162.9,78.45Z" fill="#f3f256" stroke="#979635"/><path d="M129.54,79.98L124.76,76.84L129.52,73.81L134.3,76.92Z" fill="#f6e954" stroke="#989034"/><path d="M120.01,79.98L115.22,76.98L119.97,73.87L124.76,76.84Z" fill="#f6ea55" stroke="#989134"/><path d="M110.48,80.19L105.69,77.34L110.43,74.15L115.22,76.98Z" fill="#f6ee55" stroke="#989335"/><path d="M100.96,80.63L96.17,77.92L100.9,74.65L105.69,77.34Z" fill="#f4f256" stroke="#979635"/><path d="M200.79,90.38L196.11,86.06L200.87,83.49L205.55,87.79Z" fill="#aaf153" stroke="#699534"/><path d="M181.87,87.26L177.15,83.24L181.92,80.54L186.64,84.54Z" fill="#caf154" stroke="#7d9634"/><path d="M172.38,86.03L167.65,82.15L172.42,79.38L177.15,83.24Z" fill="#d6f255" stroke="#859635"/><path d="M162.88,85.02L158.13,81.28L162.9,78.45L167.65,82.15Z" fill="#e1f255" stroke="#8b9635"/><path d="M153.37,84.22L148.61,80.63L153.37,77.72L158.13,81.28Z" fill="#e8f256" stroke="#909635"/><path d="M143.85,83.64L139.08,80.2L143.84,77.21L148.61,80.63Z" fill="#edf256" stroke="#939635"/><path d="M134.32,83.27L129.54,79.98L134.3,76.92L139.08,80.2Z" fill="#f0f256" stroke="#959635"/><path d="M124.79,83.13L120.01,79.98L124.76,76.84L129.54,79.98Z" fill="#f1f256" stroke="#959635"/><path d="M105.75,83.5L100.96,80.63L105.69,77.34L110.48,80.19Z" fill="#eaf256" stroke="#919635"/><path d="M96.24,84.02L91.45,81.28L96.17,77.92L100.96,80.63Z" fill="#e4f255" stroke="#8d9635"/><path d="M191.34,88.71L186.64,84.54L191.41,81.91L196.11,86.06Z" fill="#bbf154" stroke="#749634"/><path d="M115.27,83.21L110.48,80.19L115.22,76.98L120.01,79.98Z" fill="#eff256" stroke="#949635"/><path d="M196.03,93.06L191.34,88.71L196.11,86.06L200.79,90.38Z" fill="#a3f153" stroke="#659534"/><path d="M186.58,91.46L181.87,87.26L186.64,84.54L191.34,88.71Z" fill="#b3f154" stroke="#6f9634"/><path d="M177.11,90.08L172.38,86.03L177.15,83.24L181.87,87.26Z" fill="#c1f154" stroke="#789634"/><path d="M167.62,88.92L162.88,85.02L167.65,82.15L172.38,86.03Z" fill="#cdf255" stroke="#7f9634"/><path d="M158.12,87.97L153.37,84.22L158.13,81.28L162.88,85.02Z" fill="#d6f255" stroke="#859635"/><path d="M148.61,87.25L143.85,83.64L148.61,80.63L153.37,84.22Z" fill="#ddf255" stroke="#899635"/><path d="M139.09,86.74L134.32,83.27L139.08,80.2L143.85,83.64Z" fill="#e1f255" stroke="#8c9635"/><path d="M129.57,86.45L124.79,83.13L129.54,79.98L134.32,83.27Z" fill="#e3f255" stroke="#8d9635"/><path d="M120.05,86.38L115.27,83.21L120.01,79.98L124.79,83.13Z" fill="#e3f255" stroke="#8c9635"/><path d="M110.53,86.54L105.75,83.5L110.48,80.19L115.27,83.21Z" fill="#e0f255" stroke="#8b9635"/><path d="M101.02,86.91L96.24,84.02L100.96,80.63L105.75,83.5Z" fill="#daf255" stroke="#879635"/><path d="M191.27,95.84L186.58,91.46L191.34,88.71L196.03,93.06Z" fill="#9bf153" stroke="#609533"/><path d="M181.82,94.31L177.11,90.08L181.87,87.26L186.58,91.46Z" fill="#aaf153" stroke="#6a9634"/><path d="M172.35,92.99L167.62,88.92L172.38,86.03L177.11,90.08Z" fill="#b8f154" stroke="#729634"/><path d="M162.86,91.9L158.12,87.97L162.88,85.02L167.62,88.92Z" fill="#c2f154" stroke="#789634"/><path d="M153.36,91.03L148.61,87.25L153.37,84.22L158.12,87.97Z" fill="#cbf255" stroke="#7e9634"/><path d="M143.85,90.37L139.09,86.74L143.85,83.64L148.61,87.25Z" fill="#d0f255" stroke="#819635"/><path d="M134.34,89.94L129.57,86.45L134.32,83.27L139.09,86.74Z" fill="#d4f255" stroke="#839635"/><path d="M124.83,89.73L120.05,86.38L124.79,83.13L129.57,86.45Z" fill="#d5f255" stroke="#849635"/><path d="M115.31,89.74L110.53,86.54L115.27,83.21L120.05,86.38Z" fill="#d4f255" stroke="#839635"/><path d="M105.81,89.97L101.02,86.91L105.75,83.5L110.53,86.54Z" fill="#d0f255" stroke="#819635"/><path d="M167.59,96L162.86,91.9L167.62,88.92L172.35,92.99Z" fill="#adf153" stroke="#6b9634"/><path d="M158.1,94.98L153.36,91.03L158.12,87.97L162.86,91.9Z" fill="#b7f154" stroke="#729634"/><path d="M129.6,93.24L124.83,89.73L129.57,86.45L134.34,89.94Z" fill="#c6f154" stroke="#7b9634"/><path d="M120.09,93.1L115.31,89.74L120.05,86.38L124.83,89.73Z" fill="#c6f154" stroke="#7b9634"/><path d="M186.52,98.71L181.82,94.31L186.58,91.46L191.27,95.84Z" fill="#92f153" stroke="#5b9533"/><path d="M177.06,97.24L172.35,92.99L177.11,90.08L181.82,94.31Z" fill="#a1f153" stroke="#649534"/><path d="M148.61,94.17L143.85,90.37L148.61,87.25L153.36,91.03Z" fill="#bff154" stroke="#769634"/><path d="M139.1,93.6L134.34,89.94L139.09,86.74L143.85,90.37Z" fill="#c4f154" stroke="#799634"/><path d="M110.59,93.19L105.81,89.97L110.53,86.54L115.31,89.74Z" fill="#c4f154" stroke="#7a9634"/><path d="M181.76,101.67L177.06,97.24L181.82,94.31L186.52,98.71Z" fill="#89f152" stroke="#559533"/><path d="M172.31,100.27L167.59,96L172.35,92.99L177.06,97.24Z" fill="#97f153" stroke="#5e9533"/><path d="M162.84,99.1L158.1,94.98L162.86,91.9L167.59,96Z" fill="#a2f153" stroke="#659534"/><path d="M153.35,98.15L148.61,94.17L153.36,91.03L158.1,94.98Z" fill="#abf153" stroke="#6a9634"/><path d="M143.86,97.42L139.1,93.6L143.85,90.37L148.61,94.17Z" fill="#b2f154" stroke="#6e9634"/><path d="M134.36,96.92L129.6,93.24L134.34,89.94L139.1,93.6Z" fill="#b6f154" stroke="#719634"/><path d="M124.86,96.64L120.09,93.1L124.83,89.73L129.6,93.24Z" fill="#b7f154" stroke="#729634"/><path d="M115.36,96.58L110.59,93.19L115.31,89.74L120.09,93.1Z" fill="#b7f154" stroke="#719634"/><path d="M177.01,104.73L172.31,100.27L177.06,97.24L181.76,101.67Z" fill="#7ff152" stroke="#4f9533"/><path d="M158.09,102.3L153.35,98.15L158.1,94.98L162.84,99.1Z" fill="#97f153" stroke="#5d9533"/><path d="M148.61,101.42L143.86,97.42L148.61,94.17L153.35,98.15Z" fill="#9ff153" stroke="#629533"/><path d="M120.14,100.14L115.36,96.58L120.09,93.1L124.86,96.64Z" fill="#a8f153" stroke="#689534"/><path d="M139.12,100.77L134.36,96.92L139.1,93.6L143.86,97.42Z" fill="#a4f153" stroke="#669534"/><path d="M167.56,103.4L162.84,99.1L167.59,96L172.31,100.27Z" fill="#8cf152" stroke="#579533"/><path d="M129.63,100.34L124.86,96.64L129.6,93.24L134.36,96.92Z" fill="#a7f153" stroke="#689534"/><path d="M172.27,107.88L167.56,103.4L172.31,100.27L177.01,104.73Z" fill="#75f152" stroke="#489533"/><path d="M153.34,105.6L148.61,101.42L153.35,98.15L158.09,102.3Z" fill="#8af152" stroke="#569533"/><path d="M143.87,104.8L139.12,100.77L143.86,97.42L148.61,101.42Z" fill="#91f153" stroke="#5a9533"/><path d="M134.39,104.22L129.63,100.34L134.36,96.92L139.12,100.77Z" fill="#96f153" stroke="#5d9533"/><path d="M124.9,103.87L120.14,100.14L124.86,96.64L129.63,100.34Z" fill="#98f153" stroke="#5e9533"/><path d="M162.81,106.63L158.09,102.3L162.84,99.1L167.56,103.4Z" fill="#81f152" stroke="#509533"/><path d="M167.52,111.13L162.81,106.63L167.56,103.4L172.27,107.88Z" fill="#69f051" stroke="#419532"/><path d="M158.07,109.95L153.34,105.6L158.09,102.3L162.81,106.63Z" fill="#74f152" stroke="#489533"/><path d="M148.61,109L143.87,104.8L148.61,101.42L153.34,105.6Z" fill="#7df152" stroke="#4d9533"/><path d="M139.14,108.27L134.39,104.22L139.12,100.77L143.87,104.8Z" fill="#83f152" stroke="#519533"/><path d="M129.66,107.77L124.9,103.87L129.63,100.34L134.39,104.22Z" fill="#87f152" stroke="#549533"/><path d="M162.78,114.48L158.07,109.95L162.81,106.63L167.52,111.13Z" fill="#5df051" stroke="#3a9532"/><path d="M153.34,113.38L148.61,109L153.34,105.6L158.07,109.95Z" fill="#67f051" stroke="#409532"/><path d="M143.88,112.5L139.14,108.27L143.87,104.8L148.61,109Z" fill="#6ff051" stroke="#459532"/><path d="M134.41,111.85L129.66,107.77L134.39,104.22L139.14,108.27Z" fill="#74f152" stroke="#489533"/><path d="M158.05,117.94L153.34,113.38L158.07,109.95L162.78,114.48Z" fill="#50f050" stroke="#329532"/><path d="M148.61,116.9L143.88,112.5L148.61,109L153.34,113.38Z" fill="#5af051" stroke="#379532"/><path d="M139.15,116.1L134.41,111.85L139.14,108.27L143.88,112.5Z" fill="#60f051" stroke="#3c9532"/><path d="M153.33,121.49L148.61,116.9L153.34,113.38L158.05,117.94Z" fill="#48f053" stroke="#2c9534"/><path d="M143.88,120.53L139.15,116.1L143.88,112.5L148.61,116.9Z" fill="#4bf050" stroke="#2e9532"/><path d="M148.61,125.14L143.88,120.53L148.61,116.9L153.33,121.49Z" fill="#47ef5c" stroke="#2c9439"/></g>
<g fill="#bb0a12"><ellipse cx="148.4" cy="48.4" rx="1.9" ry="2.2"/><ellipse cx="148.4" cy="52.6" rx="1.9" ry="2.2"/><rect x="146.9" y="49.0" width="3" height="3"/></g>
<g text-anchor="middle" stroke="#1b2f4b" stroke-width="0.3"><text font-size="8.8" transform="translate(20.1,96.7) rotate(-90)" y="2.64">Hardness (HV)</text><text font-size="6.6" transform="translate(88.0,192.5) rotate(27.0) scale(1,1.2)" y="1.98">Oxygen Flow Rate (slpm)</text><text font-size="6.2" transform="translate(214.7,187.5) rotate(-29.0) scale(1,1.2)" y="1.86">Powder Feed Rate (gm/min)</text><text x="139.4" y="232.4" font-size="14" fill="#111" stroke="none"><tspan font-weight="normal">(</tspan>a<tspan font-weight="normal">)</tspan></text></g></g>
<g><path d="M356.77,120.34L443.45,91.62L530.37,119.95M356.25,107.65L443.47,80.17L530.92,107.21M355.72,94.96L443.49,68.73L531.47,94.48M355.2,82.27L443.51,57.28L532.01,81.74M354.67,69.58L443.53,45.84L532.56,69.01M354.15,56.88L443.56,34.39L533.11,56.27M353.62,44.19L443.58,22.95L533.65,43.54M353.1,31.5L443.6,11.5L534.2,30.8M357.9,147.6L353.1,31.5M374.11,114.6L371.2,27.5M391.44,108.85L389.3,23.5M408.78,103.11L407.4,19.5M426.11,97.37L425.5,15.5M443.4,116.2L443.6,11.5M529.2,147.3L534.2,30.8M512.99,114.28L516.08,26.94M495.6,108.62L497.96,23.08M478.22,102.95L479.84,19.22M460.83,97.29L461.72,15.36" stroke="#747474" stroke-width="0.75" fill="none"/>
<polygon points="444.8,189.3 357.9,147.6 443.4,116.2 529.2,147.3" fill="#5e5e5e"/>
<g fill="none" stroke-width="1.0"><polyline points="429.55,181.98 430.82,182.19 432.07,182.38 433.31,182.57 434.54,182.76 435.76,182.93 436.97,183.1 438.22,183.28 439.56,183.46 440.92,183.63 442.28,183.81 443.64,183.97 445.02,184.14 446.32,184.29 447.45,184.42 448.58,184.54 449.87,184.68 451.27,184.82 452.67,184.96 453.38,185.03" stroke="#99cd47"/><polyline points="363.52,145.54 363.28,145.99 363.07,146.45 362.83,147.06 362.62,147.68 362.5,148.11 362.38,148.66 362.29,149.3 362.25,149.69 362.25,149.69" stroke="#99cd47"/><polyline points="449.77,118.51 448.25,118.9 447.24,119.17 445.73,119.57 444.53,119.89 443.24,120.24 441.76,120.65 440.78,120.92 439.31,121.33 437.97,121.71 436.89,122.02 435.44,122.44 434.08,122.84 433.06,123.14 431.65,123.57 430.24,124 429.31,124.29 427.93,124.73 426.55,125.17 425.19,125.62 423.84,126.07 422.5,126.52 421.61,126.83 420.29,127.29 418.99,127.76 417.7,128.23 416.42,128.71 415.15,129.2 413.91,129.69 413.08,130.02 411.86,130.52 410.66,131.03 409.47,131.54 408.3,132.07 407.51,132.43 406.39,132.96 405.27,133.51 404.47,133.91 403.45,134.44 402.38,135.01 401.69,135.4 400.67,135.99 400,136.39 399.08,136.97 398.38,137.42 397.76,137.84 396.85,138.48 396.26,138.92 395.69,139.36 395.04,139.89 394.32,140.51 393.81,140.99 393.31,141.47 392.84,141.96 392.39,142.46 391.95,142.98 391.55,143.5 391.16,144.04 390.81,144.59 390.48,145.16 390.23,145.67 390.03,146.11 389.82,146.65 389.62,147.28 389.5,147.78 389.4,148.26 389.32,148.94 389.3,149.32 389.31,150.03 389.34,150.41 389.45,151.11 389.55,151.6 389.7,152.13 389.94,152.78 390.18,153.36 390.42,153.84 390.71,154.35 391.09,154.95 391.5,155.54 391.95,156.11 392.43,156.67 392.97,157.25 393.7,157.97 394.35,158.56 394.96,159.07 395.69,159.65 396.59,160.32 397.28,160.8 398.35,161.51 399.4,162.15 400.24,162.65 401.43,163.31 402.67,163.96 403.93,164.59 405.24,165.2 406.58,165.8 407.95,166.38 409.36,166.95 410.57,167.43 411.76,167.87 413.25,168.41 414.25,168.76 415.78,169.27 416.87,169.62 418.39,170.09 419.45,170.42 421.07,170.89 422.16,171.19 423.48,171.56 424.93,171.94 426.06,172.23 427.2,172.51 428.91,172.93 430.07,173.2 431.24,173.47 432.42,173.73 433.81,174.03 435.35,174.35 436.61,174.6 437.82,174.84 439.05,175.07 440.28,175.3 441.52,175.53 442.77,175.75 444.03,175.96 445.29,176.17 446.59,176.38 447.9,176.59 449.19,176.78 450.47,176.97 451.73,177.15 453.05,177.33 454.36,177.51 455.69,177.68 457.02,177.85 458.36,178.01 459.71,178.17 461.06,178.33 462.42,178.47 463.71,178.61 464.85,178.73 465.85,178.83" stroke="#d1cb49"/><polyline points="459.26,121.95 457.8,122.38 456.35,122.82 455.4,123.12 453.97,123.56 452.55,124.01 451.35,124.4 450.22,124.77 448.83,125.23 447.46,125.69 446.1,126.16 445.04,126.53 443.86,126.95 442.53,127.43 441.22,127.91 439.93,128.4 438.65,128.9 437.38,129.4 436.13,129.91 434.9,130.43 433.9,130.86 432.88,131.31 431.7,131.84 430.54,132.39 429.39,132.94 428.64,133.32 427.54,133.89 426.57,134.4 425.74,134.86 424.7,135.45 424.02,135.86 423.02,136.48 422.38,136.89 421.71,137.34 420.82,137.97 420.22,138.41 419.64,138.86 418.83,139.53 418.26,140.02 417.75,140.5 417.25,140.99 416.78,141.49 416.32,142 415.9,142.52 415.5,143.05 415.13,143.6 414.79,144.16 414.48,144.74 414.23,145.28 414.07,145.71 413.89,146.26 413.73,146.91 413.65,147.33 413.59,147.92 413.57,148.46 413.6,149.01 413.66,149.52 413.79,150.18 413.9,150.59 414.1,151.19 414.37,151.82 414.67,152.39 414.96,152.89 415.31,153.41 415.72,153.96 416.21,154.55 416.79,155.18 417.41,155.79 417.98,156.3 418.58,156.81 419.48,157.5 420.2,158.01 421.02,158.57 421.96,159.16 423.09,159.82 423.87,160.25 425.07,160.88 426.32,161.49 427.6,162.08 428.93,162.66 430.29,163.22 431.69,163.76 432.64,164.11 434.09,164.63 435.58,165.14 436.58,165.46 438.12,165.94 439.16,166.25 440.74,166.71 441.81,167 443.03,167.33 444.53,167.72 445.64,167.99 446.9,168.3 448.46,168.66 449.61,168.91 450.77,169.16 452.03,169.43 453.62,169.75 454.9,169.99 456.1,170.22 457.31,170.44 458.53,170.65 459.76,170.86 461,171.07 462.36,171.29 463.71,171.49 465.05,171.69 466.36,171.88 467.66,172.06 468.94,172.23 470.2,172.39 471.45,172.54 472.68,172.69 473.9,172.83 475.18,172.97 476.51,173.12 477.18,173.18" stroke="#cf9940"/><polyline points="471.18,126.27 469.84,126.77 468.51,127.27 467.19,127.78 465.9,128.29 464.61,128.82 463.35,129.34 462.11,129.88 460.88,130.42 459.67,130.97 458.49,131.52 457.71,131.9 456.56,132.47 455.44,133.05 454.7,133.45 453.62,134.05 452.58,134.65 451.88,135.07 450.92,135.68 450.23,136.13 449.59,136.57 448.67,137.24 448.08,137.69 447.5,138.15 446.76,138.79 446.15,139.34 445.65,139.84 445.18,140.34 444.73,140.86 444.3,141.39 443.91,141.93 443.55,142.49 443.23,143.06 442.99,143.55 442.81,143.98 442.61,144.57 442.45,145.21 442.39,145.6 442.33,146.23 442.33,146.72 442.38,147.33 442.44,147.76 442.61,148.42 442.79,148.94 442.98,149.38 443.28,149.97 443.64,150.55 444.04,151.11 444.49,151.66 444.97,152.19 445.5,152.71 446.11,153.25 446.95,153.94 447.59,154.4 448.45,154.99 449.3,155.52 450.41,156.16 451.18,156.57 452.37,157.17 453.61,157.75 454.9,158.31 456.23,158.84 457.6,159.36 459,159.86 459.97,160.19 461.44,160.66 462.54,160.99 463.97,161.41 465.19,161.74 466.59,162.11 467.66,162.38 469.29,162.77 470.4,163.03 471.51,163.27 473.21,163.63 474.36,163.86 475.52,164.08 476.69,164.3 478.11,164.55 479.64,164.81 480.86,165.01 482.08,165.2 483.31,165.39 484.55,165.56 485.8,165.74 487.05,165.9 488.32,166.06 489.6,166.22 490.88,166.37 490.88,166.37" stroke="#cd6436"/><polyline points="486.65,131.88 485.91,132.28 484.83,132.91 483.9,133.47 483.11,133.97 482.31,134.51 481.49,135.08 480.88,135.54 480.07,136.17 479.43,136.72 478.89,137.2 478.38,137.7 477.89,138.21 477.44,138.73 477.01,139.26 476.63,139.81 476.28,140.38 475.98,140.96 475.73,141.57 475.58,142.02 475.46,142.52 475.36,143.19 475.35,143.55 475.39,144.26 475.45,144.64 475.6,145.24 475.84,145.86 476.05,146.31 476.33,146.77 476.69,147.3 477.13,147.83 477.63,148.37 478.33,149 479,149.55 479.62,150 480.58,150.62 481.32,151.06 482.43,151.66 483.2,152.05 484.42,152.6 485.68,153.13 487,153.63 488.37,154.11 489.3,154.42 490.75,154.86 492.23,155.28 493.24,155.55 494.79,155.94 495.84,156.19 497.23,156.5 498.54,156.78 499.65,157 501.04,157.27 502.48,157.52 503.63,157.72 504.8,157.91 505.98,158.09 507.18,158.26" stroke="#ca2e2d"/></g>
<g fill="#111"><circle cx="356.77" cy="120.34" r="0.75"/><circle cx="356.25" cy="107.65" r="0.75"/><circle cx="355.72" cy="94.96" r="0.75"/><circle cx="355.2" cy="82.27" r="0.75"/><circle cx="354.67" cy="69.58" r="0.75"/><circle cx="354.15" cy="56.88" r="0.75"/><circle cx="353.62" cy="44.19" r="0.75"/><circle cx="353.1" cy="31.5" r="0.75"/><circle cx="423.08" cy="178.88" r="0.8"/><circle cx="401.35" cy="168.45" r="0.8"/><circle cx="379.62" cy="158.02" r="0.8"/><circle cx="357.9" cy="147.6" r="0.8"/><circle cx="461.68" cy="180.9" r="0.8"/><circle cx="478.56" cy="172.5" r="0.8"/><circle cx="495.44" cy="164.1" r="0.8"/><circle cx="512.32" cy="155.7" r="0.8"/><circle cx="529.2" cy="147.3" r="0.8"/><circle cx="444.8" cy="189.3" r="0.8"/></g>
<g font-size="5.9" text-anchor="end" stroke="#1b2f4b" stroke-width="0.22"><text x="355.17" y="122.29">700</text><text x="354.65" y="109.6">800</text><text x="354.12" y="96.91">900</text><text x="353.6" y="84.22">1000</text><text x="353.07" y="71.52">1100</text><text x="352.55" y="58.83">1200</text><text x="352.02" y="46.14">1300</text><text x="351.5" y="33.45">1400</text></g>
<g font-size="6.2" text-anchor="middle" stroke="#1b2f4b" stroke-width="0.2"><text transform="translate(437.5,191.5) scale(1,1.28)" y="2.05">240</text><text transform="translate(416.5,182.5) scale(1,1.28)" y="2.05">245</text><text transform="translate(395.5,172.5) scale(1,1.28)" y="2.05">250</text><text transform="translate(374.3,162.5) scale(1,1.28)" y="2.05">255</text><text transform="translate(352.8,152.5) scale(1,1.28)" y="2.05">260</text><text transform="translate(449,191.5) scale(1,1.28)" y="2.05">35</text><text transform="translate(465,183.5) scale(1,1.28)" y="2.05">37</text><text transform="translate(483,176.5) scale(1,1.28)" y="2.05">39</text><text transform="translate(499,168.5) scale(1,1.28)" y="2.05">41</text><text transform="translate(515.3,160.5) scale(1,1.28)" y="2.05">43</text><text transform="translate(533,151.5) scale(1,1.28)" y="2.05">45</text></g>
<g stroke-width="0.38" stroke-linejoin="round"><path d="M443.55,45.85L439.09,47.24L443.53,46.59L447.99,45.12Z" fill="#e0f255" stroke="#8b9635"/><path d="M439.1,46.65L434.65,47.96L439.09,47.24L443.55,45.85Z" fill="#e5f255" stroke="#8e9635"/><path d="M448.02,44.57L443.55,45.85L447.99,45.12L452.47,43.75Z" fill="#f6ed55" stroke="#989335"/><path d="M452.5,43.41L448.02,44.57L452.47,43.75L456.95,42.51Z" fill="#f5d150" stroke="#988232"/><path d="M443.57,45.46L439.1,46.65L443.55,45.85L448.02,44.57Z" fill="#f6e854" stroke="#989034"/><path d="M434.66,47.53L430.2,48.75L434.65,47.96L439.1,46.65Z" fill="#e9f256" stroke="#909635"/><path d="M448.05,44.38L443.57,45.46L448.02,44.57L452.5,43.41Z" fill="#f4ce50" stroke="#988031"/><path d="M430.21,48.48L425.76,49.62L430.2,48.75L434.66,47.53Z" fill="#ecf256" stroke="#939635"/><path d="M456.99,42.37L452.5,43.41L456.95,42.51L461.44,41.38Z" fill="#f4b84c" stroke="#97722f"/><path d="M439.12,46.42L434.66,47.53L439.1,46.65L443.57,45.46Z" fill="#f5e554" stroke="#988e34"/><path d="M461.48,41.45L456.99,42.37L461.44,41.38L465.94,40.37Z" fill="#f3a047" stroke="#96632c"/><path d="M452.53,43.43L448.05,44.38L452.5,43.41L456.99,42.37Z" fill="#f3b54b" stroke="#97702f"/><path d="M443.6,45.44L439.12,46.42L443.57,45.46L448.05,44.38Z" fill="#f4cb4f" stroke="#987e31"/><path d="M434.67,47.46L430.21,48.48L434.66,47.53L439.12,46.42Z" fill="#f5e253" stroke="#988c34"/><path d="M425.76,49.51L421.31,50.56L425.76,49.62L430.21,48.48Z" fill="#eff256" stroke="#949635"/><path d="M465.99,40.65L461.48,41.45L465.94,40.37L470.44,39.48Z" fill="#f28a43" stroke="#96552a"/><path d="M448.08,44.57L443.6,45.44L448.05,44.38L452.53,43.43Z" fill="#f3b34b" stroke="#976f2e"/><path d="M439.14,46.57L434.67,47.46L439.12,46.42L443.6,45.44Z" fill="#f4c94f" stroke="#977d31"/><path d="M421.31,50.61L416.86,51.57L421.31,50.56L425.76,49.51Z" fill="#f1f256" stroke="#959635"/><path d="M457.03,42.6L452.53,43.43L456.99,42.37L461.48,41.45Z" fill="#f29e47" stroke="#96622c"/><path d="M430.22,48.58L425.76,49.51L430.21,48.48L434.67,47.46Z" fill="#f5e053" stroke="#988b33"/><path d="M461.53,41.9L457.03,42.6L461.48,41.45L465.99,40.65Z" fill="#f28843" stroke="#96552a"/><path d="M443.63,45.8L439.14,46.57L443.6,45.44L448.08,44.57Z" fill="#f3b24b" stroke="#976e2e"/><path d="M434.69,47.77L430.22,48.58L434.67,47.46L439.14,46.57Z" fill="#f4c84e" stroke="#977c31"/><path d="M416.86,51.79L412.41,52.67L416.86,51.57L421.31,50.61Z" fill="#f2f256" stroke="#969635"/><path d="M470.5,39.98L465.99,40.65L470.44,39.48L474.96,38.72Z" fill="#f17540" stroke="#954827"/><path d="M452.57,43.84L448.08,44.57L452.53,43.43L457.03,42.6Z" fill="#f29d47" stroke="#96612c"/><path d="M425.77,49.77L421.31,50.61L425.76,49.51L430.22,48.58Z" fill="#f5df53" stroke="#988a33"/><path d="M475.01,39.45L470.5,39.98L474.96,38.72L479.47,38.09Z" fill="#f0623c" stroke="#953d25"/><path d="M466.04,41.33L461.53,41.9L465.99,40.65L470.5,39.98Z" fill="#f17540" stroke="#954827"/><path d="M457.07,43.23L452.57,43.84L457.03,42.6L461.53,41.9Z" fill="#f28843" stroke="#96542a"/><path d="M448.12,45.15L443.63,45.8L448.08,44.57L452.57,43.84Z" fill="#f29d47" stroke="#96612c"/><path d="M439.17,47.1L434.69,47.77L439.14,46.57L443.63,45.8Z" fill="#f3b24b" stroke="#976e2e"/><path d="M430.24,49.06L425.77,49.77L430.22,48.58L434.69,47.77Z" fill="#f4c84e" stroke="#977c31"/><path d="M421.32,51.05L416.86,51.79L421.31,50.61L425.77,49.77Z" fill="#f5df53" stroke="#988a33"/><path d="M412.41,53.06L407.97,53.84L412.41,52.67L416.86,51.79Z" fill="#f2f256" stroke="#969635"/><path d="M470.55,40.88L466.04,41.33L470.5,39.98L475.01,39.45Z" fill="#f0623c" stroke="#953d25"/><path d="M452.61,44.64L448.12,45.15L452.57,43.84L457.07,43.23Z" fill="#f28943" stroke="#96552a"/><path d="M425.79,50.43L421.32,51.05L425.77,49.77L430.24,49.06Z" fill="#f4c94f" stroke="#977c31"/><path d="M407.97,54.4L403.52,55.09L407.97,53.84L412.41,53.06Z" fill="#f1f256" stroke="#959635"/><path d="M479.53,39.04L475.01,39.45L479.47,38.09L484,37.59Z" fill="#ef5039" stroke="#943223"/><path d="M461.58,42.75L457.07,43.23L461.53,41.9L466.04,41.33Z" fill="#f17540" stroke="#954927"/><path d="M443.66,46.55L439.17,47.1L443.63,45.8L448.12,45.15Z" fill="#f29d47" stroke="#96612c"/><path d="M434.72,48.48L430.24,49.06L434.69,47.77L439.17,47.1Z" fill="#f3b24b" stroke="#976f2e"/><path d="M416.87,52.4L412.41,53.06L416.86,51.79L421.32,51.05Z" fill="#f5e053" stroke="#988b33"/><path d="M484.06,38.77L479.53,39.04L484,37.59L488.52,37.22Z" fill="#ef4036" stroke="#942822"/><path d="M475.07,40.57L470.55,40.88L475.01,39.45L479.53,39.04Z" fill="#ef5239" stroke="#943324"/><path d="M466.09,42.4L461.58,42.75L466.04,41.33L470.55,40.88Z" fill="#f0643d" stroke="#953e26"/><path d="M457.12,44.25L452.61,44.64L457.07,43.23L461.58,42.75Z" fill="#f17740" stroke="#954928"/><path d="M448.16,46.13L443.66,46.55L448.12,45.15L452.61,44.64Z" fill="#f28a43" stroke="#96562a"/><path d="M439.2,48.02L434.72,48.48L439.17,47.1L443.66,46.55Z" fill="#f29f47" stroke="#96622c"/><path d="M430.26,49.94L425.79,50.43L430.24,49.06L434.72,48.48Z" fill="#f3b44b" stroke="#97702e"/><path d="M421.34,51.88L416.87,52.4L421.32,51.05L425.79,50.43Z" fill="#f4ca4f" stroke="#977d31"/><path d="M412.42,53.84L407.97,54.4L412.41,53.06L416.87,52.4Z" fill="#f5e153" stroke="#988c33"/><path d="M403.52,55.82L399.08,56.42L403.52,55.09L407.97,54.4Z" fill="#eff256" stroke="#949635"/><path d="M488.58,38.63L484.06,38.77L488.52,37.22L493.05,36.98Z" fill="#ee3434" stroke="#942020"/><path d="M470.61,42.19L466.09,42.4L470.55,40.88L475.07,40.57Z" fill="#ef543a" stroke="#943424"/><path d="M461.63,44.01L457.12,44.25L461.58,42.75L466.09,42.4Z" fill="#f0663d" stroke="#953f26"/><path d="M443.7,47.7L439.2,48.02L443.66,46.55L448.16,46.13Z" fill="#f28d44" stroke="#96572a"/><path d="M425.81,51.48L421.34,51.88L425.79,50.43L430.26,49.94Z" fill="#f3b64b" stroke="#97712f"/><path d="M416.89,53.41L412.42,53.84L416.87,52.4L421.34,51.88Z" fill="#f4cd4f" stroke="#987f31"/><path d="M479.59,40.4L475.07,40.57L479.53,39.04L484.06,38.77Z" fill="#ef4337" stroke="#942922"/><path d="M452.66,45.84L448.16,46.13L452.61,44.64L457.12,44.25Z" fill="#f17940" stroke="#954b28"/><path d="M434.75,49.58L430.26,49.94L434.72,48.48L439.2,48.02Z" fill="#f3a148" stroke="#96642c"/><path d="M407.98,55.36L403.52,55.82L407.97,54.4L412.42,53.84Z" fill="#f5e453" stroke="#988d34"/><path d="M399.08,57.33L394.64,57.83L399.08,56.42L403.52,55.82Z" fill="#edf256" stroke="#939635"/><path d="M484.11,40.37L479.59,40.4L484.06,38.77L488.58,38.63Z" fill="#ee3534" stroke="#942120"/><path d="M466.14,43.89L461.63,44.01L466.09,42.4L470.61,42.19Z" fill="#ef573a" stroke="#943624"/><path d="M457.17,45.69L452.66,45.84L457.12,44.25L461.63,44.01Z" fill="#f0693d" stroke="#954126"/><path d="M439.24,49.36L434.75,49.58L439.2,48.02L443.7,47.7Z" fill="#f29044" stroke="#96592a"/><path d="M421.36,53.11L416.89,53.41L421.34,51.88L425.81,51.48Z" fill="#f4ba4c" stroke="#97732f"/><path d="M412.44,55.03L407.98,55.36L412.42,53.84L416.89,53.41Z" fill="#f5d050" stroke="#988132"/><path d="M394.64,58.92L390.2,59.32L394.64,57.83L399.08,57.33Z" fill="#eaf256" stroke="#919635"/><path d="M493.11,38.64L488.58,38.63L493.05,36.98L497.58,36.89Z" fill="#ee3434" stroke="#942020"/><path d="M475.12,42.12L470.61,42.19L475.07,40.57L479.59,40.4Z" fill="#ef4637" stroke="#942b22"/><path d="M448.2,47.51L443.7,47.7L448.16,46.13L452.66,45.84Z" fill="#f17c41" stroke="#954d28"/><path d="M430.3,51.22L425.81,51.48L430.26,49.94L434.75,49.58Z" fill="#f3a448" stroke="#96662d"/><path d="M403.54,56.96L399.08,57.33L403.52,55.82L407.98,55.36Z" fill="#f6e754" stroke="#988f34"/><path d="M497.64,38.78L493.11,38.64L497.58,36.89L502.11,36.93Z" fill="#ee3434" stroke="#942020"/><path d="M488.64,40.47L484.11,40.37L488.58,38.63L493.11,38.64Z" fill="#ee3434" stroke="#942020"/><path d="M479.65,42.18L475.12,42.12L479.59,40.4L484.11,40.37Z" fill="#ee3935" stroke="#942321"/><path d="M470.66,43.92L466.14,43.89L470.61,42.19L475.12,42.12Z" fill="#ef4a38" stroke="#942e23"/><path d="M461.68,45.68L457.17,45.69L461.63,44.01L466.14,43.89Z" fill="#f05b3b" stroke="#953825"/><path d="M452.71,47.46L448.2,47.51L452.66,45.84L457.17,45.69Z" fill="#f06d3e" stroke="#954427"/><path d="M443.74,49.27L439.24,49.36L443.7,47.7L448.2,47.51Z" fill="#f18042" stroke="#964f29"/><path d="M434.79,51.1L430.3,51.22L434.75,49.58L439.24,49.36Z" fill="#f29445" stroke="#965c2b"/><path d="M425.85,52.95L421.36,53.11L425.81,51.48L430.3,51.22Z" fill="#f3a849" stroke="#97682d"/><path d="M416.92,54.83L412.44,55.03L416.89,53.41L421.36,53.11Z" fill="#f4be4d" stroke="#977630"/><path d="M408,56.73L403.54,56.96L407.98,55.36L412.44,55.03Z" fill="#f5d451" stroke="#988332"/><path d="M399.1,58.65L394.64,58.92L399.08,57.33L403.54,56.96Z" fill="#f6eb55" stroke="#989235"/><path d="M390.21,60.6L385.77,60.9L390.2,59.32L394.64,58.92Z" fill="#e6f255" stroke="#8f9635"/><path d="M502.16,39.07L497.64,38.78L502.11,36.93L506.64,37.12Z" fill="#ee3434" stroke="#942020"/><path d="M493.16,40.72L488.64,40.47L493.11,38.64L497.64,38.78Z" fill="#ee3434" stroke="#942020"/><path d="M484.17,42.39L479.65,42.18L484.11,40.37L488.64,40.47Z" fill="#ee3434" stroke="#942020"/><path d="M475.18,44.09L470.66,43.92L475.12,42.12L479.65,42.18Z" fill="#ee3e36" stroke="#942621"/><path d="M466.19,45.81L461.68,45.68L466.14,43.89L470.66,43.92Z" fill="#ef4e39" stroke="#943123"/><path d="M457.22,47.55L452.71,47.46L457.17,45.69L461.68,45.68Z" fill="#f0603c" stroke="#953b25"/><path d="M448.25,49.32L443.74,49.27L448.2,47.51L452.71,47.46Z" fill="#f1723f" stroke="#954727"/><path d="M439.29,51.11L434.79,51.1L439.24,49.36L443.74,49.27Z" fill="#f18542" stroke="#965229"/><path d="M430.34,52.93L425.85,52.95L430.3,51.22L434.79,51.1Z" fill="#f29946" stroke="#965f2b"/><path d="M421.4,54.77L416.92,54.83L421.36,53.11L425.85,52.95Z" fill="#f3ad4a" stroke="#976b2e"/><path d="M412.47,56.63L408,56.73L412.44,55.03L416.92,54.83Z" fill="#f4c34e" stroke="#977930"/><path d="M403.56,58.52L399.1,58.65L403.54,56.96L408,56.73Z" fill="#f5d952" stroke="#988733"/><path d="M394.66,60.43L390.21,60.6L394.64,58.92L399.1,58.65Z" fill="#f6f056" stroke="#989535"/><path d="M385.78,62.36L381.34,62.57L385.77,60.9L390.21,60.6Z" fill="#e1f255" stroke="#8c9635"/><path d="M506.69,39.5L502.16,39.07L506.64,37.12L511.17,37.44Z" fill="#ee3434" stroke="#942020"/><path d="M497.69,41.11L493.16,40.72L497.64,38.78L502.16,39.07Z" fill="#ee3434" stroke="#942020"/><path d="M488.69,42.74L484.17,42.39L488.64,40.47L493.16,40.72Z" fill="#ee3434" stroke="#942020"/><path d="M479.7,44.4L475.18,44.09L479.65,42.18L484.17,42.39Z" fill="#ee3434" stroke="#942020"/><path d="M470.71,46.08L466.19,45.81L470.66,43.92L475.18,44.09Z" fill="#ef4337" stroke="#942a22"/><path d="M461.73,47.79L457.22,47.55L461.68,45.68L466.19,45.81Z" fill="#ef543a" stroke="#943424"/><path d="M452.76,49.51L448.25,49.32L452.71,47.46L457.22,47.55Z" fill="#f0653d" stroke="#953f26"/><path d="M443.79,51.27L439.29,51.11L443.74,49.27L448.25,49.32Z" fill="#f17840" stroke="#954a28"/><path d="M434.84,53.05L430.34,52.93L434.79,51.1L439.29,51.11Z" fill="#f28b44" stroke="#96562a"/><path d="M425.89,54.85L421.4,54.77L425.85,52.95L430.34,52.93Z" fill="#f29f47" stroke="#96622c"/><path d="M416.96,56.67L412.47,56.63L416.92,54.83L421.4,54.77Z" fill="#f3b34b" stroke="#976f2e"/><path d="M408.03,58.52L403.56,58.52L408,56.73L412.47,56.63Z" fill="#f4c94f" stroke="#977c31"/><path d="M399.13,60.4L394.66,60.43L399.1,58.65L403.56,58.52Z" fill="#f5df53" stroke="#988a33"/><path d="M390.23,62.29L385.78,62.36L390.21,60.6L394.66,60.43Z" fill="#f2f256" stroke="#969635"/><path d="M381.35,64.21L376.91,64.32L381.34,62.57L385.78,62.36Z" fill="#dbf255" stroke="#889635"/><path d="M511.21,40.09L506.69,39.5L511.17,37.44L515.69,37.92Z" fill="#ee3434" stroke="#942020"/><path d="M502.21,41.65L497.69,41.11L502.16,39.07L506.69,39.5Z" fill="#ee3434" stroke="#942020"/><path d="M493.21,43.24L488.69,42.74L493.16,40.72L497.69,41.11Z" fill="#ee3434" stroke="#942020"/><path d="M484.22,44.86L479.7,44.4L484.17,42.39L488.69,42.74Z" fill="#ee3434" stroke="#942020"/><path d="M466.25,48.16L461.73,47.79L466.19,45.81L470.71,46.08Z" fill="#ef4a38" stroke="#942e23"/><path d="M457.27,49.85L452.76,49.51L457.22,47.55L461.73,47.79Z" fill="#f05b3b" stroke="#953825"/><path d="M448.3,51.56L443.79,51.27L448.25,49.32L452.76,49.51Z" fill="#f06c3e" stroke="#954326"/><path d="M439.34,53.3L434.84,53.05L439.29,51.11L443.79,51.27Z" fill="#f17e41" stroke="#954e28"/><path d="M430.39,55.07L425.89,54.85L430.34,52.93L434.84,53.05Z" fill="#f29145" stroke="#965a2b"/><path d="M421.45,56.85L416.96,56.67L421.4,54.77L425.89,54.85Z" fill="#f3a548" stroke="#97662d"/><path d="M403.6,60.5L399.13,60.4L403.56,58.52L408.03,58.52Z" fill="#f5cf50" stroke="#988131"/><path d="M394.7,62.36L390.23,62.29L394.66,60.43L399.13,60.4Z" fill="#f5e654" stroke="#988e34"/><path d="M385.81,64.25L381.35,64.21L385.78,62.36L390.23,62.29Z" fill="#ecf256" stroke="#929635"/><path d="M376.93,66.16L372.49,66.16L376.91,64.32L381.35,64.21Z" fill="#d5f255" stroke="#849635"/><path d="M475.23,46.5L470.71,46.08L475.18,44.09L479.7,44.4Z" fill="#ee3a35" stroke="#942421"/><path d="M412.52,58.66L408.03,58.52L412.47,56.63L416.96,56.67Z" fill="#f4ba4c" stroke="#97732f"/><path d="M506.73,42.34L502.21,41.65L506.69,39.5L511.21,40.09Z" fill="#ee3434" stroke="#942020"/><path d="M488.74,45.46L484.22,44.86L488.69,42.74L493.21,43.24Z" fill="#ee3434" stroke="#942020"/><path d="M479.75,47.06L475.23,46.5L479.7,44.4L484.22,44.86Z" fill="#ee3434" stroke="#942020"/><path d="M461.79,50.33L457.27,49.85L461.73,47.79L466.25,48.16Z" fill="#ef5139" stroke="#943223"/><path d="M443.85,53.71L439.34,53.3L443.79,51.27L448.3,51.56Z" fill="#f1733f" stroke="#954827"/><path d="M434.89,55.43L430.39,55.07L434.84,53.05L439.34,53.3Z" fill="#f18643" stroke="#965329"/><path d="M417.01,58.95L412.52,58.66L416.96,56.67L421.45,56.85Z" fill="#f3ad4a" stroke="#976b2e"/><path d="M399.17,62.57L394.7,62.36L399.13,60.4L403.6,60.5Z" fill="#f5d751" stroke="#988532"/><path d="M390.27,64.42L385.81,64.25L390.23,62.29L394.7,62.36Z" fill="#f6ed55" stroke="#989335"/><path d="M372.52,68.19L368.08,68.09L372.49,66.16L376.93,66.16Z" fill="#cef255" stroke="#809634"/><path d="M515.73,40.82L511.21,40.09L515.69,37.92L520.21,38.55Z" fill="#ee3434" stroke="#942020"/><path d="M497.74,43.89L493.21,43.24L497.69,41.11L502.21,41.65Z" fill="#ee3434" stroke="#942020"/><path d="M470.77,48.69L466.25,48.16L470.71,46.08L475.23,46.5Z" fill="#ef4236" stroke="#942922"/><path d="M452.81,52.01L448.3,51.56L452.76,49.51L457.27,49.85Z" fill="#f0623c" stroke="#953d25"/><path d="M425.94,57.18L421.45,56.85L425.89,54.85L430.39,55.07Z" fill="#f29946" stroke="#965f2b"/><path d="M408.08,60.75L403.6,60.5L408.03,58.52L412.52,58.66Z" fill="#f4c14d" stroke="#977830"/><path d="M381.39,66.29L376.93,66.16L381.35,64.21L385.81,64.25Z" fill="#e4f255" stroke="#8e9635"/><path d="M520.25,41.71L515.73,40.82L520.21,38.55L524.73,39.33Z" fill="#ee3434" stroke="#942020"/><path d="M511.25,43.19L506.73,42.34L511.21,40.09L515.73,40.82Z" fill="#ee3434" stroke="#942020"/><path d="M502.25,44.69L497.74,43.89L502.21,41.65L506.73,42.34Z" fill="#ee3434" stroke="#942020"/><path d="M493.26,46.22L488.74,45.46L493.21,43.24L497.74,43.89Z" fill="#ee3434" stroke="#942020"/><path d="M484.27,47.78L479.75,47.06L484.22,44.86L488.74,45.46Z" fill="#ee3434" stroke="#942020"/><path d="M475.28,49.36L470.77,48.69L475.23,46.5L479.75,47.06Z" fill="#ee3b35" stroke="#942421"/><path d="M466.3,50.97L461.79,50.33L466.25,48.16L470.77,48.69Z" fill="#ef4a38" stroke="#942e23"/><path d="M457.33,52.6L452.81,52.01L457.27,49.85L461.79,50.33Z" fill="#f05a3b" stroke="#953824"/><path d="M448.36,54.26L443.85,53.71L448.3,51.56L452.81,52.01Z" fill="#f06a3e" stroke="#954226"/><path d="M439.4,55.94L434.89,55.43L439.34,53.3L443.85,53.71Z" fill="#f17c41" stroke="#954d28"/><path d="M430.44,57.65L425.94,57.18L430.39,55.07L434.89,55.43Z" fill="#f28e44" stroke="#96582a"/><path d="M421.5,59.38L417.01,58.95L421.45,56.85L425.94,57.18Z" fill="#f3a148" stroke="#96642c"/><path d="M412.57,61.14L408.08,60.75L412.52,58.66L417.01,58.95Z" fill="#f3b54b" stroke="#97702f"/><path d="M403.65,62.92L399.17,62.57L403.6,60.5L408.08,60.75Z" fill="#f4ca4f" stroke="#977d31"/><path d="M394.74,64.73L390.27,64.42L394.7,62.36L399.17,62.57Z" fill="#f5df53" stroke="#988b33"/><path d="M385.85,66.57L381.39,66.29L385.81,64.25L390.27,64.42Z" fill="#f2f256" stroke="#969635"/><path d="M376.97,68.43L372.52,68.19L376.93,66.16L381.39,66.29Z" fill="#dcf255" stroke="#899635"/><path d="M368.11,70.31L363.67,70.11L368.08,68.09L372.52,68.19Z" fill="#c6f154" stroke="#7a9634"/><path d="M524.76,42.75L520.25,41.71L524.73,39.33L529.24,40.26Z" fill="#ee3434" stroke="#942020"/><path d="M515.76,44.19L511.25,43.19L515.73,40.82L520.25,41.71Z" fill="#ee3434" stroke="#942020"/><path d="M506.77,45.65L502.25,44.69L506.73,42.34L511.25,43.19Z" fill="#ee3434" stroke="#942020"/><path d="M497.78,47.13L493.26,46.22L497.74,43.89L502.25,44.69Z" fill="#ee3434" stroke="#942020"/><path d="M488.79,48.65L484.27,47.78L488.74,45.46L493.26,46.22Z" fill="#ee3434" stroke="#942020"/><path d="M479.8,50.18L475.28,49.36L479.75,47.06L484.27,47.78Z" fill="#ee3534" stroke="#942120"/><path d="M470.82,51.75L466.3,50.97L470.77,48.69L475.28,49.36Z" fill="#ef4437" stroke="#942a22"/><path d="M461.84,53.34L457.33,52.6L461.79,50.33L466.3,50.97Z" fill="#ef533a" stroke="#943324"/><path d="M452.87,54.95L448.36,54.26L452.81,52.01L457.33,52.6Z" fill="#f0633c" stroke="#953d25"/><path d="M443.91,56.6L439.4,55.94L443.85,53.71L448.36,54.26Z" fill="#f1733f" stroke="#954827"/><path d="M434.95,58.26L430.44,57.65L434.89,55.43L439.4,55.94Z" fill="#f18542" stroke="#965229"/><path d="M426,59.96L421.5,59.38L425.94,57.18L430.44,57.65Z" fill="#f29746" stroke="#965e2b"/><path d="M417.07,61.68L412.57,61.14L417.01,58.95L421.5,59.38Z" fill="#f3aa49" stroke="#976a2d"/><path d="M408.14,63.42L403.65,62.92L408.08,60.75L412.57,61.14Z" fill="#f4be4d" stroke="#977630"/><path d="M399.23,65.19L394.74,64.73L399.17,62.57L403.65,62.92Z" fill="#f5d350" stroke="#988332"/><path d="M390.33,66.99L385.85,66.57L390.27,64.42L394.74,64.73Z" fill="#f6e954" stroke="#989034"/><path d="M381.44,68.81L376.97,68.43L381.39,66.29L385.85,66.57Z" fill="#eaf256" stroke="#919635"/><path d="M372.57,70.65L368.11,70.31L372.52,68.19L376.97,68.43Z" fill="#d3f255" stroke="#839635"/><path d="M363.71,72.53L359.27,72.22L363.67,70.11L368.11,70.31Z" fill="#bdf154" stroke="#759634"/><path d="M529.26,43.95L524.76,42.75L529.24,40.26L533.75,41.35Z" fill="#ee3434" stroke="#942020"/><path d="M520.27,45.34L515.76,44.19L520.25,41.71L524.76,42.75Z" fill="#ee3434" stroke="#942020"/><path d="M511.28,46.76L506.77,45.65L511.25,43.19L515.76,44.19Z" fill="#ee3434" stroke="#942020"/><path d="M502.29,48.2L497.78,47.13L502.25,44.69L506.77,45.65Z" fill="#ee3434" stroke="#942020"/><path d="M493.3,49.67L488.79,48.65L493.26,46.22L497.78,47.13Z" fill="#ee3434" stroke="#942020"/><path d="M484.32,51.16L479.8,50.18L484.27,47.78L488.79,48.65Z" fill="#ee3434" stroke="#942020"/><path d="M475.33,52.68L470.82,51.75L475.28,49.36L479.8,50.18Z" fill="#ee3f36" stroke="#942721"/><path d="M466.36,54.23L461.84,53.34L466.3,50.97L470.82,51.75Z" fill="#ef4e39" stroke="#943023"/><path d="M457.38,55.8L452.87,54.95L457.33,52.6L461.84,53.34Z" fill="#f05d3b" stroke="#953925"/><path d="M448.42,57.4L443.91,56.6L448.36,54.26L452.87,54.95Z" fill="#f06d3e" stroke="#954327"/><path d="M439.46,59.03L434.95,58.26L439.4,55.94L443.91,56.6Z" fill="#f17d41" stroke="#954e28"/><path d="M430.51,60.68L426,59.96L430.44,57.65L434.95,58.26Z" fill="#f28f44" stroke="#96592a"/><path d="M421.57,62.36L417.07,61.68L421.5,59.38L426,59.96Z" fill="#f3a148" stroke="#96642c"/><path d="M412.63,64.07L408.14,63.42L412.57,61.14L417.07,61.68Z" fill="#f3b44b" stroke="#97702e"/><path d="M403.71,65.8L399.23,65.19L403.65,62.92L408.14,63.42Z" fill="#f4c84f" stroke="#977c31"/><path d="M394.81,67.55L390.33,66.99L394.74,64.73L399.23,65.19Z" fill="#f5dd52" stroke="#988933"/><path d="M385.91,69.33L381.44,68.81L385.85,66.57L390.33,66.99Z" fill="#f5f256" stroke="#989635"/><path d="M377.03,71.14L372.57,70.65L376.97,68.43L381.44,68.81Z" fill="#e0f255" stroke="#8b9635"/><path d="M368.17,72.98L363.71,72.53L368.11,70.31L372.57,70.65Z" fill="#caf154" stroke="#7d9634"/><path d="M359.32,74.84L354.87,74.42L359.27,72.22L363.71,72.53Z" fill="#b3f154" stroke="#6f9634"/><path d="M470.87,55.28L466.36,54.23L470.82,51.75L475.33,52.68Z" fill="#ef4a38" stroke="#942e23"/><path d="M426.07,63.2L421.57,62.36L426,59.96L430.51,60.68Z" fill="#f29a46" stroke="#965f2c"/><path d="M524.77,46.66L520.27,45.34L524.76,42.75L529.26,43.95Z" fill="#ee3434" stroke="#942020"/><path d="M515.79,48.03L511.28,46.76L515.76,44.19L520.27,45.34Z" fill="#ee3434" stroke="#942020"/><path d="M506.8,49.43L502.29,48.2L506.77,45.65L511.28,46.76Z" fill="#ee3434" stroke="#942020"/><path d="M497.81,50.85L493.3,49.67L497.78,47.13L502.29,48.2Z" fill="#ee3434" stroke="#942020"/><path d="M479.85,53.78L475.33,52.68L479.8,50.18L484.32,51.16Z" fill="#ee3d36" stroke="#942621"/><path d="M461.9,56.81L457.38,55.8L461.84,53.34L466.36,54.23Z" fill="#f0583b" stroke="#953724"/><path d="M452.93,58.37L448.42,57.4L452.87,54.95L457.38,55.8Z" fill="#f0683d" stroke="#954026"/><path d="M417.14,64.86L412.63,64.07L417.07,61.68L421.57,62.36Z" fill="#f3ac4a" stroke="#976b2e"/><path d="M408.21,66.55L403.71,65.8L408.14,63.42L412.63,64.07Z" fill="#f4bf4d" stroke="#977730"/><path d="M399.3,68.27L394.81,67.55L399.23,65.19L403.71,65.8Z" fill="#f5d351" stroke="#988332"/><path d="M381.51,71.78L377.03,71.14L381.44,68.81L385.91,69.33Z" fill="#ebf256" stroke="#919635"/><path d="M372.63,73.57L368.17,72.98L372.57,70.65L377.03,71.14Z" fill="#d5f255" stroke="#849635"/><path d="M363.78,75.4L359.32,74.84L363.71,72.53L368.17,72.98Z" fill="#bff154" stroke="#779634"/><path d="M488.83,52.3L484.32,51.16L488.79,48.65L493.3,49.67Z" fill="#ee3434" stroke="#942020"/><path d="M443.97,59.95L439.46,59.03L443.91,56.6L448.42,57.4Z" fill="#f17740" stroke="#954a28"/><path d="M435.02,61.56L430.51,60.68L434.95,58.26L439.46,59.03Z" fill="#f28843" stroke="#96542a"/><path d="M390.4,70.01L385.91,69.33L390.33,66.99L394.81,67.55Z" fill="#f6e854" stroke="#989034"/><path d="M511.3,50.81L506.8,49.43L511.28,46.76L515.79,48.03Z" fill="#ee3434" stroke="#942020"/><path d="M484.36,55.03L479.85,53.78L484.32,51.16L488.83,52.3Z" fill="#ee3b35" stroke="#942521"/><path d="M466.41,57.97L461.9,56.81L466.36,54.23L470.87,55.28Z" fill="#ef563a" stroke="#943524"/><path d="M457.44,59.48L452.93,58.37L457.38,55.8L461.9,56.81Z" fill="#f0643d" stroke="#953e26"/><path d="M421.64,65.81L417.14,64.86L421.57,62.36L426.07,63.2Z" fill="#f3a648" stroke="#97672d"/><path d="M412.71,67.46L408.21,66.55L412.63,64.07L417.14,64.86Z" fill="#f4b84c" stroke="#97722f"/><path d="M394.88,70.83L390.4,70.01L394.81,67.55L399.3,68.27Z" fill="#f5df53" stroke="#988a33"/><path d="M368.24,76.1L363.78,75.4L368.17,72.98L372.63,73.57Z" fill="#caf154" stroke="#7d9634"/><path d="M520.28,49.46L515.79,48.03L520.27,45.34L524.77,46.66Z" fill="#ee3434" stroke="#942020"/><path d="M502.32,52.19L497.81,50.85L502.29,48.2L506.8,49.43Z" fill="#ee3434" stroke="#942020"/><path d="M493.34,53.59L488.83,52.3L493.3,49.67L497.81,50.85Z" fill="#ee3434" stroke="#942020"/><path d="M475.39,56.48L470.87,55.28L475.33,52.68L479.85,53.78Z" fill="#ef4838" stroke="#942d22"/><path d="M448.48,61.03L443.97,59.95L448.42,57.4L452.93,58.37Z" fill="#f1733f" stroke="#954727"/><path d="M439.53,62.59L435.02,61.56L439.46,59.03L443.97,59.95Z" fill="#f18342" stroke="#965129"/><path d="M430.58,64.19L426.07,63.2L430.51,60.68L435.02,61.56Z" fill="#f29445" stroke="#965c2b"/><path d="M403.79,69.13L399.3,68.27L403.71,65.8L408.21,66.55Z" fill="#f4cb4f" stroke="#987e31"/><path d="M385.99,72.56L381.51,71.78L385.91,69.33L390.4,70.01Z" fill="#f4f256" stroke="#979635"/><path d="M377.11,74.32L372.63,73.57L377.03,71.14L381.51,71.78Z" fill="#dff255" stroke="#8a9635"/><path d="M515.8,52.36L511.3,50.81L515.79,48.03L520.28,49.46Z" fill="#ee3434" stroke="#942020"/><path d="M497.85,55.05L493.34,53.59L497.81,50.85L502.32,52.19Z" fill="#ee3434" stroke="#942020"/><path d="M488.87,56.44L484.36,55.03L488.83,52.3L493.34,53.59Z" fill="#ee3c35" stroke="#942521"/><path d="M479.9,57.85L475.39,56.48L479.85,53.78L484.36,55.03Z" fill="#ef4838" stroke="#942d22"/><path d="M470.93,59.29L466.41,57.97L470.87,55.28L475.39,56.48Z" fill="#ef553a" stroke="#943424"/><path d="M461.96,60.76L457.44,59.48L461.9,56.81L466.41,57.97Z" fill="#f0623c" stroke="#953d25"/><path d="M453,62.26L448.48,61.03L452.93,58.37L457.44,59.48Z" fill="#f1713f" stroke="#954627"/><path d="M444.04,63.78L439.53,62.59L443.97,59.95L448.48,61.03Z" fill="#f18042" stroke="#964f29"/><path d="M435.09,65.33L430.58,64.19L435.02,61.56L439.53,62.59Z" fill="#f29044" stroke="#96592a"/><path d="M426.15,66.91L421.64,65.81L426.07,63.2L430.58,64.19Z" fill="#f3a147" stroke="#96642c"/><path d="M417.22,68.52L412.71,67.46L417.14,64.86L421.64,65.81Z" fill="#f3b24b" stroke="#976f2e"/><path d="M408.29,70.15L403.79,69.13L408.21,66.55L412.71,67.46Z" fill="#f4c54e" stroke="#977a30"/><path d="M399.38,71.81L394.88,70.83L399.3,68.27L403.79,69.13Z" fill="#f5d851" stroke="#988632"/><path d="M381.59,75.22L377.11,74.32L381.51,71.78L385.99,72.56Z" fill="#e8f256" stroke="#909635"/><path d="M372.72,76.96L368.24,76.1L372.63,73.57L377.11,74.32Z" fill="#d3f255" stroke="#839635"/><path d="M506.82,53.69L502.32,52.19L506.8,49.43L511.3,50.81Z" fill="#ee3434" stroke="#942020"/><path d="M390.48,73.5L385.99,72.56L390.4,70.01L394.88,70.83Z" fill="#f6ec55" stroke="#989235"/><path d="M511.32,55.36L506.82,53.69L511.3,50.81L515.8,52.36Z" fill="#ee3434" stroke="#942020"/><path d="M502.35,56.67L497.85,55.05L502.32,52.19L506.82,53.69Z" fill="#ee3434" stroke="#942020"/><path d="M493.38,58.01L488.87,56.44L493.34,53.59L497.85,55.05Z" fill="#ee3e36" stroke="#942621"/><path d="M484.4,59.38L479.9,57.85L484.36,55.03L488.87,56.44Z" fill="#ef4938" stroke="#942d23"/><path d="M475.44,60.77L470.93,59.29L475.39,56.48L479.9,57.85Z" fill="#ef553a" stroke="#943524"/><path d="M466.47,62.2L461.96,60.76L466.41,57.97L470.93,59.29Z" fill="#f0623c" stroke="#953d25"/><path d="M457.51,63.65L453,62.26L457.44,59.48L461.96,60.76Z" fill="#f1703f" stroke="#954527"/><path d="M448.55,65.13L444.04,63.78L448.48,61.03L453,62.26Z" fill="#f17e41" stroke="#954e28"/><path d="M439.6,66.64L435.09,65.33L439.53,62.59L444.04,63.78Z" fill="#f28d44" stroke="#96582a"/><path d="M430.66,68.17L426.15,66.91L430.58,64.19L435.09,65.33Z" fill="#f29d47" stroke="#96612c"/><path d="M421.72,69.74L417.22,68.52L421.64,65.81L426.15,66.91Z" fill="#f3ae4a" stroke="#976c2e"/><path d="M412.8,71.33L408.29,70.15L412.71,67.46L417.22,68.52Z" fill="#f4c04d" stroke="#977730"/><path d="M403.88,72.94L399.38,71.81L403.79,69.13L408.29,70.15Z" fill="#f5d250" stroke="#988232"/><path d="M394.98,74.59L390.48,73.5L394.88,70.83L399.38,71.81Z" fill="#f5e654" stroke="#988e34"/><path d="M386.08,76.27L381.59,75.22L385.99,72.56L390.48,73.5Z" fill="#eff256" stroke="#949635"/><path d="M377.2,77.97L372.72,76.96L377.11,74.32L381.59,75.22Z" fill="#dbf255" stroke="#889635"/><path d="M506.84,58.45L502.35,56.67L506.82,53.69L511.32,55.36Z" fill="#ee3835" stroke="#942321"/><path d="M497.87,59.75L493.38,58.01L497.85,55.05L502.35,56.67Z" fill="#ef4236" stroke="#942922"/><path d="M488.91,61.07L484.4,59.38L488.87,56.44L493.38,58.01Z" fill="#ef4c38" stroke="#942f23"/><path d="M479.94,62.42L475.44,60.77L479.9,57.85L484.4,59.38Z" fill="#ef573a" stroke="#943624"/><path d="M470.98,63.8L466.47,62.2L470.93,59.29L475.44,60.77Z" fill="#f0633c" stroke="#953e25"/><path d="M462.02,65.2L457.51,63.65L461.96,60.76L466.47,62.2Z" fill="#f1703f" stroke="#954527"/><path d="M453.06,66.64L448.55,65.13L453,62.26L457.51,63.65Z" fill="#f17e41" stroke="#954e28"/><path d="M444.11,68.1L439.6,66.64L444.04,63.78L448.55,65.13Z" fill="#f28c44" stroke="#96572a"/><path d="M435.17,69.59L430.66,68.17L435.09,65.33L439.6,66.64Z" fill="#f29b47" stroke="#96602c"/><path d="M426.23,71.11L421.72,69.74L426.15,66.91L430.66,68.17Z" fill="#f3ab49" stroke="#976a2d"/><path d="M417.31,72.66L412.8,71.33L417.22,68.52L421.72,69.74Z" fill="#f4bc4c" stroke="#97752f"/><path d="M408.39,74.23L403.88,72.94L408.29,70.15L412.8,71.33Z" fill="#f4ce50" stroke="#988031"/><path d="M399.48,75.84L394.98,74.59L399.38,71.81L403.88,72.94Z" fill="#f5e153" stroke="#988b33"/><path d="M390.58,77.47L386.08,76.27L390.48,73.5L394.98,74.59Z" fill="#f4f256" stroke="#979635"/><path d="M381.7,79.13L377.2,77.97L381.59,75.22L386.08,76.27Z" fill="#e1f255" stroke="#8b9635"/><path d="M502.37,61.65L497.87,59.75L502.35,56.67L506.84,58.45Z" fill="#ef4737" stroke="#942c22"/><path d="M493.41,62.93L488.91,61.07L493.38,58.01L497.87,59.75Z" fill="#ef5139" stroke="#943223"/><path d="M484.44,64.23L479.94,62.42L484.4,59.38L488.91,61.07Z" fill="#f05b3b" stroke="#953825"/><path d="M475.49,65.56L470.98,63.8L475.44,60.77L479.94,62.42Z" fill="#f0663d" stroke="#953f26"/><path d="M448.63,69.73L444.11,68.1L448.55,65.13L453.06,66.64Z" fill="#f28d44" stroke="#96572a"/><path d="M439.68,71.17L435.17,69.59L439.6,66.64L444.11,68.1Z" fill="#f29b46" stroke="#96602c"/><path d="M430.75,72.65L426.23,71.11L430.66,68.17L435.17,69.59Z" fill="#f3ab49" stroke="#976a2d"/><path d="M403.98,77.24L399.48,75.84L403.88,72.94L408.39,74.23Z" fill="#f5dd52" stroke="#988933"/><path d="M395.08,78.83L390.58,77.47L394.98,74.59L399.48,75.84Z" fill="#f6f056" stroke="#989535"/><path d="M386.19,80.45L381.7,79.13L386.08,76.27L390.58,77.47Z" fill="#e6f255" stroke="#8e9635"/><path d="M466.53,66.92L462.02,65.2L466.47,62.2L470.98,63.8Z" fill="#f1723f" stroke="#954727"/><path d="M457.58,68.31L453.06,66.64L457.51,63.65L462.02,65.2Z" fill="#f17f41" stroke="#964f29"/><path d="M421.82,74.15L417.31,72.66L421.72,69.74L426.23,71.11Z" fill="#f4bb4c" stroke="#97742f"/><path d="M412.9,75.68L408.39,74.23L412.8,71.33L417.31,72.66Z" fill="#f4cc4f" stroke="#987e31"/><path d="M488.94,66.21L484.44,64.23L488.91,61.07L493.41,62.93Z" fill="#f0603c" stroke="#953c25"/><path d="M444.19,72.92L439.68,71.17L444.11,68.1L448.63,69.73Z" fill="#f29d47" stroke="#96612c"/><path d="M435.26,74.35L430.75,72.65L435.17,69.59L439.68,71.17Z" fill="#f3ab49" stroke="#976a2d"/><path d="M390.7,81.93L386.19,80.45L390.58,77.47L395.08,78.83Z" fill="#e9f256" stroke="#909635"/><path d="M497.9,64.95L493.41,62.93L497.87,59.75L502.37,61.65Z" fill="#ef573a" stroke="#943624"/><path d="M479.99,67.49L475.49,65.56L479.94,62.42L484.44,64.23Z" fill="#f06b3e" stroke="#954226"/><path d="M471.03,68.81L466.53,66.92L470.98,63.8L475.49,65.56Z" fill="#f17640" stroke="#954928"/><path d="M462.08,70.15L457.58,68.31L462.02,65.2L466.53,66.92Z" fill="#f18242" stroke="#965129"/><path d="M453.14,71.52L448.63,69.73L453.06,66.64L457.58,68.31Z" fill="#f28f44" stroke="#96592a"/><path d="M426.33,75.81L421.82,74.15L426.23,71.11L430.75,72.65Z" fill="#f4bb4c" stroke="#97742f"/><path d="M417.41,77.3L412.9,75.68L417.31,72.66L421.82,74.15Z" fill="#f4cb4f" stroke="#977e31"/><path d="M408.49,78.81L403.98,77.24L408.39,74.23L412.9,75.68Z" fill="#f5dc52" stroke="#988833"/><path d="M399.59,80.36L395.08,78.83L399.48,75.84L403.98,77.24Z" fill="#f6ed55" stroke="#989335"/><path d="M493.43,68.36L488.94,66.21L493.41,62.93L497.9,64.95Z" fill="#f0673d" stroke="#954026"/><path d="M475.53,70.86L471.03,68.81L475.49,65.56L479.99,67.49Z" fill="#f17c41" stroke="#954d28"/><path d="M466.59,72.15L462.08,70.15L466.53,66.92L471.03,68.81Z" fill="#f18743" stroke="#965429"/><path d="M457.64,73.48L453.14,71.52L457.58,68.31L462.08,70.15Z" fill="#f29345" stroke="#965b2b"/><path d="M448.71,74.83L444.19,72.92L448.63,69.73L453.14,71.52Z" fill="#f3a047" stroke="#96632c"/><path d="M439.77,76.22L435.26,74.35L439.68,71.17L444.19,72.92Z" fill="#f3ae4a" stroke="#976c2e"/><path d="M430.84,77.63L426.33,75.81L430.75,72.65L435.26,74.35Z" fill="#f4bc4c" stroke="#97752f"/><path d="M421.92,79.07L417.41,77.3L421.82,74.15L426.33,75.81Z" fill="#f4cb4f" stroke="#987e31"/><path d="M404.1,82.04L399.59,80.36L403.98,77.24L408.49,78.81Z" fill="#f6ed55" stroke="#989335"/><path d="M395.2,83.57L390.7,81.93L395.08,78.83L399.59,80.36Z" fill="#eaf256" stroke="#919635"/><path d="M484.48,69.59L479.99,67.49L484.44,64.23L488.94,66.21Z" fill="#f1713f" stroke="#954627"/><path d="M413.01,80.54L408.49,78.81L412.9,75.68L417.41,77.3Z" fill="#f5dc52" stroke="#988833"/><path d="M488.97,71.87L484.48,69.59L488.94,66.21L493.43,68.36Z" fill="#f17940" stroke="#954b28"/><path d="M480.03,73.09L475.53,70.86L479.99,67.49L484.48,69.59Z" fill="#f18342" stroke="#965129"/><path d="M471.09,74.33L466.59,72.15L471.03,68.81L475.53,70.86Z" fill="#f28d44" stroke="#96572a"/><path d="M462.15,75.61L457.64,73.48L462.08,70.15L466.59,72.15Z" fill="#f29846" stroke="#965e2b"/><path d="M453.21,76.92L448.71,74.83L453.14,71.52L457.64,73.48Z" fill="#f3a548" stroke="#96662d"/><path d="M444.28,78.25L439.77,76.22L444.19,72.92L448.71,74.83Z" fill="#f3b14a" stroke="#976e2e"/><path d="M435.35,79.62L430.84,77.63L435.26,74.35L439.77,76.22Z" fill="#f4bf4d" stroke="#977730"/><path d="M426.43,81.01L421.92,79.07L426.33,75.81L430.84,77.63Z" fill="#f4ce50" stroke="#988031"/><path d="M417.52,82.44L413.01,80.54L417.41,77.3L421.92,79.07Z" fill="#f5dd52" stroke="#988933"/><path d="M408.61,83.9L404.1,82.04L408.49,78.81L413.01,80.54Z" fill="#f6ed55" stroke="#989335"/><path d="M399.72,85.38L395.2,83.57L399.59,80.36L404.1,82.04Z" fill="#eaf256" stroke="#919635"/><path d="M484.52,75.49L480.03,73.09L484.48,69.59L488.97,71.87Z" fill="#f28b44" stroke="#96562a"/><path d="M475.58,76.68L471.09,74.33L475.53,70.86L480.03,73.09Z" fill="#f29545" stroke="#965c2b"/><path d="M466.65,77.91L462.15,75.61L466.59,72.15L471.09,74.33Z" fill="#f39f47" stroke="#96632c"/><path d="M457.72,79.17L453.21,76.92L457.64,73.48L462.15,75.61Z" fill="#f3ab49" stroke="#976a2d"/><path d="M448.79,80.46L444.28,78.25L448.71,74.83L453.21,76.92Z" fill="#f4b74b" stroke="#97712f"/><path d="M439.86,81.78L435.35,79.62L439.77,76.22L444.28,78.25Z" fill="#f4c44e" stroke="#977930"/><path d="M430.95,83.13L426.43,81.01L430.84,77.63L435.35,79.62Z" fill="#f5d250" stroke="#988232"/><path d="M422.03,84.51L417.52,82.44L421.92,79.07L426.43,81.01Z" fill="#f5e053" stroke="#988b33"/><path d="M413.13,85.91L408.61,83.9L413.01,80.54L417.52,82.44Z" fill="#f6f056" stroke="#989535"/><path d="M404.23,87.35L399.72,85.38L404.1,82.04L408.61,83.9Z" fill="#e9f256" stroke="#909635"/><path d="M462.22,81.6L457.72,79.17L462.15,75.61L466.65,77.91Z" fill="#f3b34b" stroke="#976f2e"/><path d="M453.29,82.84L448.79,80.46L453.21,76.92L457.72,79.17Z" fill="#f4be4d" stroke="#977630"/><path d="M426.55,86.74L422.03,84.51L426.43,81.01L430.95,83.13Z" fill="#f5e554" stroke="#988e34"/><path d="M417.64,88.1L413.13,85.91L417.52,82.44L422.03,84.51Z" fill="#f4f256" stroke="#979635"/><path d="M480.07,79.21L475.58,76.68L480.03,73.09L484.52,75.49Z" fill="#f29e47" stroke="#96622c"/><path d="M471.14,80.39L466.65,77.91L471.09,74.33L475.58,76.68Z" fill="#f3a849" stroke="#97682d"/><path d="M444.37,84.11L439.86,81.78L444.28,78.25L448.79,80.46Z" fill="#f4ca4f" stroke="#977d31"/><path d="M435.46,85.41L430.95,83.13L435.35,79.62L439.86,81.78Z" fill="#f5d751" stroke="#988632"/><path d="M408.74,89.5L404.23,87.35L408.61,83.9L413.13,85.91Z" fill="#e6f255" stroke="#8e9635"/><path d="M475.63,83.04L471.14,80.39L475.58,76.68L480.07,79.21Z" fill="#f3b34b" stroke="#976f2e"/><path d="M466.71,84.2L462.22,81.6L466.65,77.91L471.14,80.39Z" fill="#f4bc4c" stroke="#97752f"/><path d="M457.79,85.39L453.29,82.84L457.72,79.17L462.22,81.6Z" fill="#f4c74e" stroke="#977b31"/><path d="M448.88,86.61L444.37,84.11L448.79,80.46L453.29,82.84Z" fill="#f5d250" stroke="#988232"/><path d="M439.97,87.87L435.46,85.41L439.86,81.78L444.37,84.11Z" fill="#f5df53" stroke="#988a33"/><path d="M431.06,89.15L426.55,86.74L430.95,83.13L435.46,85.41Z" fill="#f6ec55" stroke="#989235"/><path d="M422.16,90.47L417.64,88.1L422.03,84.51L426.55,86.74Z" fill="#eff256" stroke="#949635"/><path d="M413.26,91.81L408.74,89.5L413.13,85.91L417.64,88.1Z" fill="#e1f255" stroke="#8c9635"/><path d="M471.2,86.99L466.71,84.2L471.14,80.39L475.63,83.04Z" fill="#f4c84e" stroke="#977c31"/><path d="M453.38,89.3L448.88,86.61L453.29,82.84L457.79,85.39Z" fill="#f5dc52" stroke="#988833"/><path d="M444.47,90.5L439.97,87.87L444.37,84.11L448.88,86.61Z" fill="#f6e754" stroke="#988f34"/><path d="M417.77,94.3L413.26,91.81L417.64,88.1L422.16,90.47Z" fill="#dbf255" stroke="#889635"/><path d="M435.57,91.74L431.06,89.15L435.46,85.41L439.97,87.87Z" fill="#f4f256" stroke="#989635"/><path d="M462.29,88.13L457.79,85.39L462.22,81.6L466.71,84.2Z" fill="#f5d150" stroke="#988232"/><path d="M426.67,93L422.16,90.47L426.55,86.74L431.06,89.15Z" fill="#e8f256" stroke="#909635"/><path d="M466.78,91.04L462.29,88.13L466.71,84.2L471.2,86.99Z" fill="#f5dd52" stroke="#988933"/><path d="M448.97,93.31L444.47,90.5L448.88,86.61L453.38,89.3Z" fill="#f6f256" stroke="#999635"/><path d="M440.07,94.5L435.57,91.74L439.97,87.87L444.47,90.5Z" fill="#ebf256" stroke="#929635"/><path d="M431.18,95.72L426.67,93L431.06,89.15L435.57,91.74Z" fill="#e0f255" stroke="#8b9635"/><path d="M422.29,96.97L417.77,94.3L422.16,90.47L426.67,93Z" fill="#d3f255" stroke="#839635"/><path d="M457.87,92.16L453.38,89.3L457.79,85.39L462.29,88.13Z" fill="#f6e754" stroke="#988f34"/><path d="M462.36,95.21L457.87,92.16L462.29,88.13L466.78,91.04Z" fill="#f4f256" stroke="#979635"/><path d="M453.47,96.31L448.97,93.31L453.38,89.3L457.87,92.16Z" fill="#ebf256" stroke="#929635"/><path d="M444.57,97.44L440.07,94.5L444.47,90.5L448.97,93.31Z" fill="#e1f255" stroke="#8b9635"/><path d="M435.68,98.61L431.18,95.72L435.57,91.74L440.07,94.5Z" fill="#d6f255" stroke="#849635"/><path d="M426.8,99.81L422.29,96.97L426.67,93L431.18,95.72Z" fill="#caf154" stroke="#7d9634"/><path d="M457.96,99.49L453.47,96.31L457.87,92.16L462.36,95.21Z" fill="#def255" stroke="#899635"/><path d="M449.07,100.57L444.57,97.44L448.97,93.31L453.47,96.31Z" fill="#d4f255" stroke="#849635"/><path d="M440.19,101.69L435.68,98.61L440.07,94.5L444.57,97.44Z" fill="#caf154" stroke="#7d9634"/><path d="M431.31,102.84L426.8,99.81L431.18,95.72L435.68,98.61Z" fill="#bff154" stroke="#779634"/><path d="M453.56,103.88L449.07,100.57L453.47,96.31L457.96,99.49Z" fill="#c7f154" stroke="#7b9634"/><path d="M444.68,104.95L440.19,101.69L444.57,97.44L449.07,100.57Z" fill="#bdf154" stroke="#759634"/><path d="M435.81,106.04L431.31,102.84L435.68,98.61L440.19,101.69Z" fill="#b3f154" stroke="#6f9634"/><path d="M449.17,108.39L444.68,104.95L449.07,100.57L453.56,103.88Z" fill="#aff154" stroke="#6c9634"/><path d="M440.31,109.44L435.81,106.04L440.19,101.69L444.68,104.95Z" fill="#a5f153" stroke="#669534"/><path d="M444.8,113.02L440.31,109.44L444.68,104.95L449.17,108.39Z" fill="#96f153" stroke="#5d9533"/></g>
<g fill="#bb0a12"><ellipse cx="443.8" cy="49.7" rx="1.9" ry="2.2"/><ellipse cx="443.8" cy="53.9" rx="1.9" ry="2.2"/><rect x="442.3" y="50.3" width="3" height="3"/></g>
<g text-anchor="middle" stroke="#1b2f4b" stroke-width="0.3"><text font-size="8.4" transform="translate(323.9,81.5) rotate(-90)" y="2.52">Hardness (HV)</text><text font-size="6.2" transform="translate(386.5,186.2) rotate(28.0) scale(1,1.2)" y="1.86">Spray Distance (inch)</text><text font-size="5.75" transform="translate(505.0,181.5) rotate(-29.5) scale(1,1.2)" y="1.72">Powder Feed Rate (gm/min)</text><text x="434.7" y="232.4" font-size="14" fill="#111" stroke="none"><tspan font-weight="normal">(</tspan>b<tspan font-weight="normal">)</tspan></text></g></g>
<g><path d="M49.18,363.85L148.58,329.43L249.12,361.99M48.51,349.2L148.56,316.27L249.87,347.49M47.84,334.55L148.55,303.11L250.63,332.99M47.17,319.9L148.54,289.95L251.38,318.49M46.51,305.25L148.53,276.79L252.14,304M45.84,290.6L148.52,263.62L252.89,289.5M45.17,275.95L148.51,250.46L253.65,275M44.5,261.3L148.5,237.3L254.4,260.5M50.7,397.2L44.5,261.3M69.06,356.96L65.3,256.5M88.94,350.08L86.1,251.7M108.82,343.2L106.9,246.9M128.7,336.32L127.7,242.1M148.6,359.4L148.5,237.3M247.4,395L254.4,260.5M229.01,355.48L233.22,255.86M208.9,348.97L212.04,251.22M188.79,342.46L190.86,246.58M168.68,335.95L169.68,241.94" stroke="#747474" stroke-width="0.75" fill="none"/>
<polygon points="150.4,442.9 50.7,397.2 148.6,359.4 247.4,395" fill="#5e5e5e"/>
<g fill="none" stroke-width="1.0"><polyline points="64.29,391.95 64.03,392.55 63.74,393.24 63.47,393.93 63.29,394.42 63.09,394.99 62.85,395.71 62.65,396.34 62.51,396.81 62.31,397.53 62.14,398.22 62.03,398.69 61.88,399.4 61.75,400.07 61.67,400.56 61.55,401.34 61.48,401.87 61.45,402.13" stroke="#4fcc45"/><polyline points="140.74,438.47 142.06,438.48 143.75,438.48 145,438.46 146.64,438.43 148.06,438.39 149.45,438.33 151.22,438.25 152.31,438.19 153.94,438.08 155.64,437.96 156.79,437.86 158.25,437.74 159.92,437.57 161.53,437.41 161.53,437.41" stroke="#83cd46"/><polyline points="82.39,384.96 82.04,385.51 81.65,386.14 81.27,386.78 80.91,387.42 80.55,388.07 80.25,388.64 80,389.15 79.72,389.72 79.41,390.39 79.11,391.08 78.87,391.64 78.68,392.13 78.43,392.81 78.18,393.52 78,394.06 77.84,394.59 77.64,395.32 77.48,395.94 77.36,396.43 77.2,397.19 77.09,397.77 77,398.34 76.89,399.11 76.84,399.56 76.77,400.31 76.73,400.87 76.71,401.53 76.7,402.16 76.7,402.78 76.72,403.43 76.76,404.07 76.81,404.68 76.9,405.39 76.97,405.91 77.11,406.72 77.21,407.23 77.36,407.91 77.55,408.66 77.69,409.15 77.85,409.64" stroke="#83cd46"/><polyline points="106.3,375.73 105.68,376.36 105.08,376.99 104.54,377.57 104.02,378.14 103.52,378.71 103.03,379.29 102.54,379.88 102.07,380.46 101.6,381.06 101.15,381.66 100.71,382.26 100.32,382.81 99.95,383.36 99.59,383.9 99.25,384.44 98.87,385.06 98.5,385.7 98.14,386.35 97.79,387 97.51,387.56 97.26,388.06 96.99,388.67 96.69,389.35 96.42,390.04 96.24,390.52 96.04,391.09 95.8,391.8 95.62,392.42 95.49,392.89 95.31,393.62 95.18,394.26 95.08,394.75 94.96,395.52 94.89,396.04 94.82,396.69 94.77,397.34 94.75,397.89 94.74,398.62 94.74,399.13 94.78,399.87 94.82,400.41 94.89,401.1 94.98,401.73 95.08,402.29 95.24,403.08 95.36,403.57 95.55,404.24 95.78,404.99 95.97,405.53 96.2,406.11 96.51,406.84 96.85,407.56 97.17,408.17 97.48,408.74 97.82,409.32 98.26,410 98.73,410.67 99.22,411.34 99.73,411.99 100.28,412.63 100.85,413.27 101.54,413.99 102.38,414.8 103.05,415.4 103.74,415.98 104.58,416.66 105.57,417.4 106.35,417.95 107.56,418.75 108.41,419.27 109.72,420.02 111.1,420.76 112.53,421.46 114.03,422.14 115.58,422.79 117.2,423.41 118.83,423.99 120.04,424.38 121.83,424.93 123.06,425.27 124.36,425.61 126.28,426.06 127.62,426.36 129,426.63 130.4,426.89 131.84,427.13 133.32,427.36 134.84,427.56 136.39,427.75 137.98,427.92 139.6,428.07 140.94,428.17 142.13,428.25 143.86,428.35 145.49,428.41 146.56,428.45 148.4,428.48 149.68,428.49 151.27,428.49 152.66,428.47 154.26,428.43 155.51,428.39 157.36,428.31 158.46,428.25 160.05,428.15 161.78,428.02 162.92,427.93 164.36,427.8 166.03,427.63 167.67,427.45 168.93,427.3 170.2,427.14 171.66,426.94 173.21,426.72 174.75,426.49 176.26,426.25 177.75,426 179.23,425.74 180.69,425.47 182.13,425.19 183.55,424.91 184.96,424.62 186.36,424.32 187.74,424.01 189.44,423.62 189.44,423.62" stroke="#b8cd48"/><polyline points="139.29,362.99 138.14,363.67 137.38,364.13 136.26,364.83 135.52,365.3 134.42,366.01 133.7,366.48 132.99,366.96 131.93,367.69 131.24,368.18 130.56,368.67 129.55,369.42 128.89,369.92 128.23,370.43 127.56,370.97 126.65,371.71 126.01,372.24 125.4,372.76 124.8,373.29 124.21,373.83 123.48,374.5 122.79,375.16 122.21,375.74 121.66,376.3 121.13,376.86 120.6,377.43 120.09,378 119.59,378.58 119.1,379.16 118.62,379.75 118.16,380.35 117.7,380.95 117.27,381.56 116.84,382.17 116.43,382.8 116.07,383.38 115.75,383.91 115.45,384.43 115.12,385.03 114.79,385.69 114.47,386.36 114.2,386.96 113.99,387.45 113.75,388.06 113.5,388.76 113.31,389.36 113.17,389.83 112.98,390.56 112.84,391.2 112.74,391.68 112.62,392.44 112.56,392.96 112.5,393.61 112.47,394.25 112.46,394.81 112.47,395.49 112.5,396.06 112.56,396.71 112.65,397.36 112.74,397.89 112.91,398.66 113.04,399.18 113.23,399.79 113.49,400.53 113.73,401.14 113.96,401.65 114.28,402.32 114.66,403.01 115.07,403.69 115.52,404.36 115.99,405.01 116.5,405.65 117.04,406.28 117.61,406.89 118.22,407.49 118.85,408.08 119.6,408.73 120.58,409.5 121.32,410.04 122.5,410.84 123.32,411.35 124.61,412.09 125.97,412.79 126.93,413.25 128.42,413.91 129.69,414.42 131.06,414.93 132.75,415.49 133.99,415.87 135.74,416.35 137,416.66 138.66,417.04 140.31,417.37 141.71,417.62 143.15,417.85 144.62,418.06 146.15,418.24 147.72,418.41 149.12,418.53 150.34,418.63 151.85,418.72 153.59,418.8 154.88,418.84 156.31,418.87 158.02,418.87 159.17,418.87 160.97,418.83 162.17,418.79 163.79,418.72 165.33,418.64 166.49,418.56 168.24,418.43 169.83,418.29 171.01,418.17 172.43,418.02 174.05,417.82 175.64,417.62 177.21,417.4 178.66,417.18 180.05,416.96 181.47,416.72 182.93,416.47 184.44,416.19 185.99,415.88 187.49,415.58 188.88,415.28 190.25,414.97 191.6,414.66 192.94,414.34 194.61,413.93 196.23,413.51 197.52,413.17 198.79,412.82 200.68,412.29 201.92,411.92 203.16,411.55 204.98,410.99 206.18,410.61 207.97,410.03 209.14,409.63 210.88,409.04 212.03,408.63 213.74,408.02 214.86,407.6 216.53,406.97 218.18,406.33 219.27,405.9 220.88,405.25 222.47,404.59 224.05,403.92 225.09,403.47 226.63,402.79 228.16,402.11 229.67,401.41 231.16,400.71 232.63,400 234.08,399.29 235.52,398.57 236.94,397.84 238.34,397.1 239.73,396.37 241.1,395.62 242.01,395.12 243.35,394.37 244.23,393.86" stroke="#d0b344"/><polyline points="161.17,363.93 159.92,364.6 159.11,365.05 157.91,365.73 157.12,366.19 155.95,366.89 155.19,367.36 154.07,368.07 153.34,368.56 152.46,369.15 151.55,369.78 150.85,370.28 150.03,370.89 149.17,371.55 148.52,372.07 147.88,372.59 147.13,373.22 146.33,373.92 145.74,374.47 145.16,375.02 144.59,375.57 144.04,376.13 143.51,376.7 142.99,377.27 142.49,377.86 142,378.45 141.53,379.04 141.08,379.65 140.65,380.27 140.24,380.89 139.85,381.52 139.48,382.16 139.14,382.8 138.9,383.3 138.67,383.82 138.39,384.5 138.14,385.2 137.98,385.7 137.83,386.27 137.67,387 137.58,387.49 137.5,388.14 137.45,388.77 137.44,389.32 137.45,390 137.5,390.55 137.58,391.17 137.72,391.86 137.84,392.31 138.07,393.03 138.35,393.74 138.58,394.25 138.86,394.77 139.26,395.43 139.71,396.08 140.2,396.7 140.74,397.31 141.32,397.89 142.04,398.55 142.97,399.28 143.7,399.8 144.89,400.55 145.74,401.03 147.09,401.7 148.55,402.34 150.11,402.92 151.78,403.46 152.95,403.79 154.8,404.24 156.12,404.51 157.47,404.75 158.89,404.97 160.37,405.16 161.91,405.32 163.51,405.45 165.14,405.55 166.28,405.59 167.83,405.62 169.47,405.63 170.67,405.61 172.41,405.56 173.71,405.5 175.17,405.41 176.92,405.28 178.15,405.16 179.45,405.03 181.07,404.84 182.66,404.63 184.2,404.41 185.71,404.17 187.19,403.91 188.64,403.65 190.06,403.37 191.46,403.08 192.83,402.78 194.18,402.47 195.69,402.11 197.46,401.66 198.73,401.32 199.99,400.97 201.85,400.44 203.06,400.07 204.66,399.58 206.03,399.13 207.6,398.61 208.91,398.15 210.6,397.55 211.71,397.14 213.34,396.52 214.95,395.88 216.21,395.37 217.57,394.8 219.11,394.14 220.62,393.47 222.1,392.78 223.57,392.09 225,391.39 226.42,390.69 227.81,389.97 229.17,389.24 230.07,388.76 230.07,388.76" stroke="#cd6c38"/></g>
<g fill="#111"><circle cx="49.18" cy="363.85" r="0.75"/><circle cx="48.51" cy="349.2" r="0.75"/><circle cx="47.84" cy="334.55" r="0.75"/><circle cx="47.17" cy="319.9" r="0.75"/><circle cx="46.51" cy="305.25" r="0.75"/><circle cx="45.84" cy="290.6" r="0.75"/><circle cx="45.17" cy="275.95" r="0.75"/><circle cx="44.5" cy="261.3" r="0.75"/><circle cx="130.46" cy="433.76" r="0.8"/><circle cx="110.52" cy="424.62" r="0.8"/><circle cx="90.58" cy="415.48" r="0.8"/><circle cx="70.64" cy="406.34" r="0.8"/><circle cx="50.7" cy="397.2" r="0.8"/><circle cx="169.8" cy="433.32" r="0.8"/><circle cx="189.2" cy="423.74" r="0.8"/><circle cx="208.6" cy="414.16" r="0.8"/><circle cx="228" cy="404.58" r="0.8"/><circle cx="247.4" cy="395" r="0.8"/><circle cx="150.4" cy="442.9" r="0.8"/></g>
<g font-size="7.4" text-anchor="end" stroke="#1b2f4b" stroke-width="0.22"><text x="47.58" y="366.29">700</text><text x="46.91" y="351.64">800</text><text x="46.24" y="336.99">900</text><text x="45.57" y="322.34">1000</text><text x="44.91" y="307.69">1100</text><text x="44.24" y="293.04">1200</text><text x="43.57" y="278.39">1300</text><text x="42.9" y="263.74">1400</text></g>
<g font-size="7.4" text-anchor="middle" stroke="#1b2f4b" stroke-width="0.2"><text transform="translate(145.3,446.5) scale(1,1.28)" y="2.44">50</text><text transform="translate(125.5,438) scale(1,1.28)" y="2.44">52</text><text transform="translate(106,428.7) scale(1,1.28)" y="2.44">54</text><text transform="translate(86.5,418.6) scale(1,1.28)" y="2.44">56</text><text transform="translate(66,408.7) scale(1,1.28)" y="2.44">58</text><text transform="translate(45.2,399) scale(1,1.28)" y="2.44">60</text><text transform="translate(156,446.8) scale(1,1.28)" y="2.44">35</text><text transform="translate(174.7,437.7) scale(1,1.28)" y="2.44">37</text><text transform="translate(194.5,427.5) scale(1,1.28)" y="2.44">39</text><text transform="translate(213,418) scale(1,1.28)" y="2.44">41</text><text transform="translate(233.3,408) scale(1,1.28)" y="2.44">43</text><text transform="translate(251.8,397.8) scale(1,1.28)" y="2.44">45</text></g>
<g stroke-width="0.38" stroke-linejoin="round"><path d="M148.61,268.42L143.4,269.44L148.52,267.69L153.74,266.68Z" fill="#f4ba4c" stroke="#97732f"/><path d="M143.48,270.26L138.28,271.3L143.4,269.44L148.61,268.42Z" fill="#f4c04d" stroke="#977730"/><path d="M153.83,267.63L148.61,268.42L153.74,266.68L158.96,265.9Z" fill="#f29c47" stroke="#96612c"/><path d="M159.06,267.08L153.83,267.63L158.96,265.9L164.19,265.37Z" fill="#f18242" stroke="#965129"/><path d="M148.7,269.45L143.48,270.26L148.61,268.42L153.83,267.63Z" fill="#f3a248" stroke="#96642c"/><path d="M138.36,272.2L133.16,273.26L138.28,271.3L143.48,270.26Z" fill="#f4c64e" stroke="#977b30"/><path d="M153.93,268.89L148.7,269.45L153.83,267.63L159.06,267.08Z" fill="#f18743" stroke="#965429"/><path d="M133.24,274.25L128.05,275.32L133.16,273.26L138.36,272.2Z" fill="#f5cf50" stroke="#988031"/><path d="M164.3,266.77L159.06,267.08L164.19,265.37L169.43,265.07Z" fill="#f06b3e" stroke="#954326"/><path d="M143.57,271.38L138.36,272.2L143.48,270.26L148.7,269.45Z" fill="#f3a849" stroke="#97682d"/><path d="M169.54,266.72L164.3,266.77L169.43,265.07L174.68,265.03Z" fill="#f0583a" stroke="#953724"/><path d="M159.16,268.58L153.93,268.89L159.06,267.08L164.3,266.77Z" fill="#f1703f" stroke="#954527"/><path d="M148.79,270.81L143.57,271.38L148.7,269.45L153.93,268.89Z" fill="#f28d44" stroke="#96572a"/><path d="M138.45,273.42L133.24,274.25L138.36,272.2L143.57,271.38Z" fill="#f3b04a" stroke="#976d2e"/><path d="M128.13,276.41L122.94,277.49L128.05,275.32L133.24,274.25Z" fill="#f5d851" stroke="#988632"/><path d="M174.79,266.91L169.54,266.72L174.68,265.03L179.93,265.23Z" fill="#ef4838" stroke="#942d22"/><path d="M154.03,270.48L148.79,270.81L153.93,268.89L159.16,268.58Z" fill="#f17540" stroke="#954928"/><path d="M143.67,272.83L138.45,273.42L143.57,271.38L148.79,270.81Z" fill="#f29445" stroke="#965c2b"/><path d="M123.02,278.67L117.84,279.77L122.94,277.49L128.13,276.41Z" fill="#f5e353" stroke="#988d34"/><path d="M164.41,268.51L159.16,268.58L164.3,266.77L169.54,266.72Z" fill="#f05c3b" stroke="#953925"/><path d="M133.33,275.56L128.13,276.41L133.24,274.25L138.45,273.42Z" fill="#f4b94c" stroke="#97732f"/><path d="M169.65,268.7L164.41,268.51L169.54,266.72L174.79,266.91Z" fill="#ef4c38" stroke="#942f23"/><path d="M148.9,272.5L143.67,272.83L148.79,270.81L154.03,270.48Z" fill="#f17d41" stroke="#954d28"/><path d="M138.54,274.96L133.33,275.56L138.45,273.42L143.67,272.83Z" fill="#f29d47" stroke="#96612c"/><path d="M117.91,281.04L112.74,282.16L117.84,279.77L123.02,278.67Z" fill="#f6ef55" stroke="#989435"/><path d="M180.04,267.37L174.79,266.91L179.93,265.23L185.18,265.7Z" fill="#ee3c35" stroke="#942521"/><path d="M159.27,270.41L154.03,270.48L159.16,268.58L164.41,268.51Z" fill="#f0613c" stroke="#953c25"/><path d="M128.21,277.81L123.02,278.67L128.13,276.41L133.33,275.56Z" fill="#f4c34e" stroke="#977930"/><path d="M185.29,268.08L180.04,267.37L185.18,265.7L190.43,266.42Z" fill="#ee3434" stroke="#942020"/><path d="M174.91,269.14L169.65,268.7L174.79,266.91L180.04,267.37Z" fill="#ee3f36" stroke="#942721"/><path d="M164.52,270.59L159.27,270.41L164.41,268.51L169.65,268.7Z" fill="#ef5139" stroke="#943223"/><path d="M154.13,272.41L148.9,272.5L154.03,270.48L159.27,270.41Z" fill="#f0683d" stroke="#954126"/><path d="M143.77,274.62L138.54,274.96L143.67,272.83L148.9,272.5Z" fill="#f18542" stroke="#965229"/><path d="M133.42,277.2L128.21,277.81L133.33,275.56L138.54,274.96Z" fill="#f3a749" stroke="#97682d"/><path d="M123.1,280.18L117.91,281.04L123.02,278.67L128.21,277.81Z" fill="#f5cf50" stroke="#988031"/><path d="M112.81,283.53L107.65,284.66L112.74,282.16L117.91,281.04Z" fill="#eff256" stroke="#949635"/><path d="M180.16,269.85L174.91,269.14L180.04,267.37L185.29,268.08Z" fill="#ee3634" stroke="#942120"/><path d="M159.38,272.58L154.13,272.41L159.27,270.41L164.52,270.59Z" fill="#ef573a" stroke="#943624"/><path d="M128.3,279.55L123.1,280.18L128.21,277.81L133.42,277.2Z" fill="#f3b24b" stroke="#976f2e"/><path d="M107.72,286.13L102.57,287.27L107.65,284.66L112.81,283.53Z" fill="#e5f255" stroke="#8e9635"/><path d="M190.54,269.06L185.29,268.08L190.43,266.42L195.68,267.4Z" fill="#ee3434" stroke="#942020"/><path d="M169.77,271.02L164.52,270.59L169.65,268.7L174.91,269.14Z" fill="#ef4437" stroke="#942a22"/><path d="M149,274.52L143.77,274.62L148.9,272.5L154.13,272.41Z" fill="#f1703f" stroke="#954527"/><path d="M138.64,276.85L133.42,277.2L138.54,274.96L143.77,274.62Z" fill="#f28e44" stroke="#96582a"/><path d="M118,282.65L112.81,283.53L117.91,281.04L123.1,280.18Z" fill="#f5dc52" stroke="#988833"/><path d="M195.79,270.31L190.54,269.06L195.68,267.4L200.92,268.65Z" fill="#ee3434" stroke="#942020"/><path d="M185.41,270.82L180.16,269.85L185.29,268.08L190.54,269.06Z" fill="#ee3434" stroke="#942020"/><path d="M175.02,271.72L169.77,271.02L174.91,269.14L180.16,269.85Z" fill="#ee3a35" stroke="#942421"/><path d="M164.63,273.01L159.38,272.58L164.52,270.59L169.77,271.02Z" fill="#ef4a38" stroke="#942e23"/><path d="M154.25,274.68L149,274.52L154.13,272.41L159.38,272.58Z" fill="#f05f3c" stroke="#953b25"/><path d="M143.87,276.74L138.64,276.85L143.77,274.62L149,274.52Z" fill="#f17940" stroke="#954b28"/><path d="M133.52,279.19L128.3,279.55L133.42,277.2L138.64,276.85Z" fill="#f29946" stroke="#965f2b"/><path d="M123.19,282.02L118,282.65L123.1,280.18L128.3,279.55Z" fill="#f4bf4d" stroke="#977630"/><path d="M112.9,285.24L107.72,286.13L112.81,283.53L118,282.65Z" fill="#f6ea55" stroke="#989134"/><path d="M102.64,288.85L97.49,290L102.57,287.27L107.72,286.13Z" fill="#daf255" stroke="#879635"/><path d="M201.02,271.82L195.79,270.31L200.92,268.65L206.15,270.17Z" fill="#ee3434" stroke="#942020"/><path d="M180.27,272.69L175.02,271.72L180.16,269.85L185.41,270.82Z" fill="#ee3434" stroke="#942020"/><path d="M169.88,273.7L164.63,273.01L169.77,271.02L175.02,271.72Z" fill="#ee3f36" stroke="#942722"/><path d="M149.11,276.89L143.87,276.74L149,274.52L154.25,274.68Z" fill="#f0673d" stroke="#954026"/><path d="M128.4,281.64L123.19,282.02L128.3,279.55L133.52,279.19Z" fill="#f3a648" stroke="#97672d"/><path d="M118.09,284.59L112.9,285.24L118,282.65L123.19,282.02Z" fill="#f4cd4f" stroke="#987f31"/><path d="M190.65,272.06L185.41,270.82L190.54,269.06L195.79,270.31Z" fill="#ee3434" stroke="#942020"/><path d="M159.49,275.11L154.25,274.68L159.38,272.58L164.63,273.01Z" fill="#ef5139" stroke="#943223"/><path d="M138.75,279.07L133.52,279.19L138.64,276.85L143.87,276.74Z" fill="#f18442" stroke="#965229"/><path d="M107.81,287.94L102.64,288.85L107.72,286.13L112.9,285.24Z" fill="#f1f256" stroke="#959635"/><path d="M97.57,291.68L92.43,292.85L97.49,290L102.64,288.85Z" fill="#cff255" stroke="#809634"/><path d="M195.89,273.58L190.65,272.06L195.79,270.31L201.02,271.82Z" fill="#ee3434" stroke="#942020"/><path d="M175.13,274.67L169.88,273.7L175.02,271.72L180.27,272.69Z" fill="#ee3935" stroke="#942321"/><path d="M164.74,275.79L159.49,275.11L164.63,273.01L169.88,273.7Z" fill="#ef4637" stroke="#942c22"/><path d="M143.98,279.22L138.75,279.07L143.87,276.74L149.11,276.89Z" fill="#f1723f" stroke="#954627"/><path d="M123.29,284.21L118.09,284.59L123.19,282.02L128.4,281.64Z" fill="#f3b34b" stroke="#976f2e"/><path d="M112.99,287.29L107.81,287.94L112.9,285.24L118.09,284.59Z" fill="#f5dc52" stroke="#988933"/><path d="M92.5,294.63L87.37,295.81L92.43,292.85L97.57,291.68Z" fill="#c2f154" stroke="#789634"/><path d="M206.25,273.62L201.02,271.82L206.15,270.17L211.37,271.97Z" fill="#ee3434" stroke="#942020"/><path d="M185.52,273.93L180.27,272.69L185.41,270.82L190.65,272.06Z" fill="#ee3434" stroke="#942020"/><path d="M154.36,277.31L149.11,276.89L154.25,274.68L159.49,275.11Z" fill="#f0593b" stroke="#953724"/><path d="M133.63,281.52L128.4,281.64L133.52,279.19L138.75,279.07Z" fill="#f29044" stroke="#96592a"/><path d="M102.72,290.76L97.57,291.68L102.64,288.85L107.81,287.94Z" fill="#e5f255" stroke="#8e9635"/><path d="M211.46,275.69L206.25,273.62L211.37,271.97L216.58,274.04Z" fill="#ee3a35" stroke="#942421"/><path d="M201.12,275.37L195.89,273.58L201.02,271.82L206.25,273.62Z" fill="#ee3434" stroke="#942020"/><path d="M190.76,275.44L185.52,273.93L190.65,272.06L195.89,273.58Z" fill="#ee3434" stroke="#942020"/><path d="M180.38,275.9L175.13,274.67L180.27,272.69L185.52,273.93Z" fill="#ee3634" stroke="#942120"/><path d="M169.99,276.75L164.74,275.79L169.88,273.7L175.13,274.67Z" fill="#ee3f36" stroke="#942721"/><path d="M159.61,277.99L154.36,277.31L159.49,275.11L164.74,275.79Z" fill="#ef4e39" stroke="#943123"/><path d="M149.23,279.63L143.98,279.22L149.11,276.89L154.36,277.31Z" fill="#f0633c" stroke="#953d25"/><path d="M138.86,281.65L133.63,281.52L138.75,279.07L143.98,279.22Z" fill="#f17d41" stroke="#954e28"/><path d="M128.51,284.07L123.29,284.21L128.4,281.64L133.63,281.52Z" fill="#f29d47" stroke="#96612c"/><path d="M118.19,286.89L112.99,287.29L118.09,284.59L123.29,284.21Z" fill="#f4c24d" stroke="#977830"/><path d="M107.9,290.1L102.72,290.76L107.81,287.94L112.99,287.29Z" fill="#f6ed55" stroke="#989335"/><path d="M97.65,293.7L92.5,294.63L97.57,291.68L102.72,290.76Z" fill="#d9f255" stroke="#869635"/><path d="M87.44,297.7L82.33,298.9L87.37,295.81L92.5,294.63Z" fill="#b5f154" stroke="#709634"/><path d="M216.66,278.05L211.46,275.69L216.58,274.04L221.78,276.4Z" fill="#ef4637" stroke="#942c22"/><path d="M206.34,277.45L201.12,275.37L206.25,273.62L211.46,275.69Z" fill="#ee3b35" stroke="#942521"/><path d="M195.99,277.23L190.76,275.44L195.89,273.58L201.12,275.37Z" fill="#ee3634" stroke="#942120"/><path d="M185.62,277.41L180.38,275.9L185.52,273.93L190.76,275.44Z" fill="#ee3634" stroke="#942120"/><path d="M175.24,277.98L169.99,276.75L175.13,274.67L180.38,275.9Z" fill="#ee3c35" stroke="#942521"/><path d="M164.86,278.94L159.61,277.99L164.74,275.79L169.99,276.75Z" fill="#ef4737" stroke="#942c22"/><path d="M154.48,280.3L149.23,279.63L154.36,277.31L159.61,277.99Z" fill="#f0583a" stroke="#943624"/><path d="M144.1,282.06L138.86,281.65L143.98,279.22L149.23,279.63Z" fill="#f06e3e" stroke="#954427"/><path d="M133.74,284.2L128.51,284.07L133.63,281.52L138.86,281.65Z" fill="#f28a43" stroke="#96552a"/><path d="M123.4,286.75L118.19,286.89L123.29,284.21L128.51,284.07Z" fill="#f3ab49" stroke="#976a2d"/><path d="M113.09,289.69L107.9,290.1L112.99,287.29L118.19,286.89Z" fill="#f5d250" stroke="#988232"/><path d="M102.82,293.03L97.65,293.7L102.72,290.76L107.9,290.1Z" fill="#eef256" stroke="#939635"/><path d="M92.59,296.76L87.44,297.7L92.5,294.63L97.65,293.7Z" fill="#ccf255" stroke="#7e9634"/><path d="M82.4,300.9L77.29,302.1L82.33,298.9L87.44,297.7Z" fill="#a6f153" stroke="#679534"/><path d="M221.85,280.7L216.66,278.05L221.78,276.4L226.96,279.05Z" fill="#ef563a" stroke="#943524"/><path d="M211.55,279.8L206.34,277.45L211.46,275.69L216.66,278.05Z" fill="#ef4737" stroke="#942c22"/><path d="M201.21,279.3L195.99,277.23L201.12,275.37L206.34,277.45Z" fill="#ee3d36" stroke="#942621"/><path d="M190.86,279.2L185.62,277.41L190.76,275.44L195.99,277.23Z" fill="#ee3a35" stroke="#942421"/><path d="M180.49,279.49L175.24,277.98L180.38,275.9L185.62,277.41Z" fill="#ee3c35" stroke="#942521"/><path d="M170.11,280.17L164.86,278.94L169.99,276.75L175.24,277.98Z" fill="#ef4337" stroke="#942a22"/><path d="M159.73,281.25L154.48,280.3L159.61,277.99L164.86,278.94Z" fill="#ef5039" stroke="#943223"/><path d="M149.35,282.73L144.1,282.06L149.23,279.63L154.48,280.3Z" fill="#f0623c" stroke="#953d25"/><path d="M138.98,284.6L133.74,284.2L138.86,281.65L144.1,282.06Z" fill="#f17a41" stroke="#954c28"/><path d="M128.63,286.87L123.4,286.75L128.51,284.07L133.74,284.2Z" fill="#f29846" stroke="#965e2b"/><path d="M118.3,289.54L113.09,289.69L118.19,286.89L123.4,286.75Z" fill="#f4bb4c" stroke="#97742f"/><path d="M108.01,292.61L102.82,293.03L107.9,290.1L113.09,289.69Z" fill="#f5e453" stroke="#988d34"/><path d="M97.75,296.08L92.59,296.76L97.65,293.7L102.82,293.03Z" fill="#e1f255" stroke="#8b9635"/><path d="M87.53,299.94L82.4,300.9L87.44,297.7L92.59,296.76Z" fill="#bef154" stroke="#769634"/><path d="M77.37,304.21L72.27,305.43L77.29,302.1L82.4,300.9Z" fill="#97f153" stroke="#5e9533"/><path d="M227.02,283.63L221.85,280.7L226.96,279.05L232.12,281.98Z" fill="#f0683d" stroke="#954126"/><path d="M216.74,282.45L211.55,279.8L216.66,278.05L221.85,280.7Z" fill="#ef563a" stroke="#943524"/><path d="M206.43,281.66L201.21,279.3L206.34,277.45L211.55,279.8Z" fill="#ef4938" stroke="#942d23"/><path d="M196.09,281.27L190.86,279.2L195.99,277.23L201.21,279.3Z" fill="#ef4136" stroke="#942822"/><path d="M175.36,281.68L170.11,280.17L175.24,277.98L180.49,279.49Z" fill="#ef4337" stroke="#942922"/><path d="M164.98,282.47L159.73,281.25L164.86,278.94L170.11,280.17Z" fill="#ef4c38" stroke="#942f23"/><path d="M154.6,283.67L149.35,282.73L154.48,280.3L159.73,281.25Z" fill="#f05a3b" stroke="#953824"/><path d="M144.22,285.26L138.98,284.6L144.1,282.06L149.35,282.73Z" fill="#f06e3e" stroke="#954427"/><path d="M133.86,287.26L128.63,286.87L133.74,284.2L138.98,284.6Z" fill="#f28843" stroke="#96542a"/><path d="M123.52,289.65L118.3,289.54L123.4,286.75L128.63,286.87Z" fill="#f3a749" stroke="#97682d"/><path d="M102.93,295.65L97.75,296.08L102.82,293.03L108.01,292.61Z" fill="#f3f256" stroke="#979635"/><path d="M92.68,299.25L87.53,299.94L92.59,296.76L97.75,296.08Z" fill="#d3f255" stroke="#839635"/><path d="M82.49,303.25L77.37,304.21L82.4,300.9L87.53,299.94Z" fill="#aff154" stroke="#6c9634"/><path d="M72.35,307.66L67.26,308.89L72.27,305.43L77.37,304.21Z" fill="#87f152" stroke="#549533"/><path d="M185.73,281.27L180.49,279.49L185.62,277.41L190.86,279.2Z" fill="#ee3f36" stroke="#942721"/><path d="M113.21,292.45L108.01,292.61L113.09,289.69L118.3,289.54Z" fill="#f4cc4f" stroke="#987e31"/><path d="M221.91,285.39L216.74,282.45L221.85,280.7L227.02,283.63Z" fill="#f0683d" stroke="#954126"/><path d="M201.3,283.63L196.09,281.27L201.21,279.3L206.43,281.66Z" fill="#ef4c38" stroke="#942f23"/><path d="M190.96,283.35L185.73,281.27L190.86,279.2L196.09,281.27Z" fill="#ef4637" stroke="#942b22"/><path d="M170.22,283.97L164.98,282.47L170.11,280.17L175.36,281.68Z" fill="#ef4b38" stroke="#942e23"/><path d="M149.47,286.2L144.22,285.26L149.35,282.73L154.6,283.67Z" fill="#f0663d" stroke="#953f26"/><path d="M139.1,287.92L133.86,287.26L138.98,284.6L144.22,285.26Z" fill="#f17c41" stroke="#954d28"/><path d="M118.42,292.56L113.21,292.45L118.3,289.54L123.52,289.65Z" fill="#f4b84c" stroke="#97722f"/><path d="M97.86,298.81L92.68,299.25L97.75,296.08L102.93,295.65Z" fill="#e6f255" stroke="#8e9635"/><path d="M87.63,302.54L82.49,303.25L87.53,299.94L92.68,299.25Z" fill="#c4f154" stroke="#7a9634"/><path d="M67.34,311.22L62.26,312.47L67.26,308.89L72.35,307.66Z" fill="#76f152" stroke="#499533"/><path d="M232.16,286.87L227.02,283.63L232.12,281.98L237.25,285.21Z" fill="#f17f41" stroke="#964e29"/><path d="M211.62,284.31L206.43,281.66L211.55,279.8L216.74,282.45Z" fill="#ef573a" stroke="#943624"/><path d="M180.6,283.46L175.36,281.68L180.49,279.49L185.73,281.27Z" fill="#ef4637" stroke="#942b22"/><path d="M159.85,284.89L154.6,283.67L159.73,281.25L164.98,282.47Z" fill="#ef553a" stroke="#943524"/><path d="M128.75,290.04L123.52,289.65L128.63,286.87L133.86,287.26Z" fill="#f29746" stroke="#965e2b"/><path d="M108.12,295.48L102.93,295.65L108.01,292.61L113.21,292.45Z" fill="#f5de52" stroke="#988a33"/><path d="M77.46,306.68L72.35,307.66L77.37,304.21L82.49,303.25Z" fill="#9ff153" stroke="#639533"/><path d="M237.28,290.4L232.16,286.87L237.25,285.21L242.37,288.74Z" fill="#f29846" stroke="#965e2b"/><path d="M227.07,288.63L221.91,285.39L227.02,283.63L232.16,286.87Z" fill="#f17e41" stroke="#954e28"/><path d="M216.8,287.26L211.62,284.31L216.74,282.45L221.91,285.39Z" fill="#f0693e" stroke="#954126"/><path d="M206.51,286.28L201.3,283.63L206.43,281.66L211.62,284.31Z" fill="#f05a3b" stroke="#953824"/><path d="M196.18,285.71L190.96,283.35L196.09,281.27L201.3,283.63Z" fill="#ef5039" stroke="#943223"/><path d="M185.83,285.53L180.6,283.46L185.73,281.27L190.96,283.35Z" fill="#ef4c38" stroke="#942f23"/><path d="M175.47,285.76L170.22,283.97L175.36,281.68L180.6,283.46Z" fill="#ef4d39" stroke="#943023"/><path d="M165.09,286.39L159.85,284.89L164.98,282.47L170.22,283.97Z" fill="#ef543a" stroke="#943424"/><path d="M154.72,287.42L149.47,286.2L154.6,283.67L159.85,284.89Z" fill="#f0613c" stroke="#953c25"/><path d="M144.35,288.85L139.1,287.92L144.22,285.26L149.47,286.2Z" fill="#f1733f" stroke="#954727"/><path d="M133.99,290.69L128.75,290.04L133.86,287.26L139.1,287.92Z" fill="#f28a43" stroke="#96562a"/><path d="M123.65,292.93L118.42,292.56L123.52,289.65L128.75,290.04Z" fill="#f3a749" stroke="#97682d"/><path d="M113.33,295.58L108.12,295.48L113.21,292.45L118.42,292.56Z" fill="#f4ca4f" stroke="#977d31"/><path d="M103.04,298.63L97.86,298.81L102.93,295.65L108.12,295.48Z" fill="#f6f256" stroke="#999635"/><path d="M92.8,302.09L87.63,302.54L92.68,299.25L97.86,298.81Z" fill="#d7f255" stroke="#859635"/><path d="M82.59,305.96L77.46,306.68L82.49,303.25L87.63,302.54Z" fill="#b5f154" stroke="#709634"/><path d="M72.44,310.24L67.34,311.22L72.35,307.66L77.46,306.68Z" fill="#8ef152" stroke="#589533"/><path d="M62.34,314.92L57.28,316.18L62.26,312.47L67.34,311.22Z" fill="#64f051" stroke="#3e9532"/><path d="M242.38,294.23L237.28,290.4L242.37,288.74L247.46,292.57Z" fill="#f3b54b" stroke="#97702f"/><path d="M232.2,292.17L227.07,288.63L232.16,286.87L237.28,290.4Z" fill="#f29746" stroke="#965e2b"/><path d="M221.96,290.5L216.8,287.26L221.91,285.39L227.07,288.63Z" fill="#f17f41" stroke="#964e29"/><path d="M211.69,289.23L206.51,286.28L211.62,284.31L216.8,287.26Z" fill="#f06b3e" stroke="#954326"/><path d="M201.39,288.36L196.18,285.71L201.3,283.63L206.51,286.28Z" fill="#f05e3c" stroke="#953a25"/><path d="M191.05,287.89L185.83,285.53L190.96,283.35L196.18,285.71Z" fill="#ef563a" stroke="#943524"/><path d="M180.7,287.83L175.47,285.76L180.6,283.46L185.83,285.53Z" fill="#ef533a" stroke="#943424"/><path d="M170.34,288.17L165.09,286.39L170.22,283.97L175.47,285.76Z" fill="#ef563a" stroke="#943624"/><path d="M159.97,288.92L154.72,287.42L159.85,284.89L165.09,286.39Z" fill="#f05f3c" stroke="#953b25"/><path d="M149.6,290.07L144.35,288.85L149.47,286.2L154.72,287.42Z" fill="#f06d3e" stroke="#954427"/><path d="M139.23,291.62L133.99,290.69L139.1,287.92L144.35,288.85Z" fill="#f18142" stroke="#965029"/><path d="M128.88,293.58L123.65,292.93L128.75,290.04L133.99,290.69Z" fill="#f29a46" stroke="#96602c"/><path d="M118.55,295.95L113.33,295.58L118.42,292.56L123.65,292.93Z" fill="#f4b94c" stroke="#97732f"/><path d="M108.25,298.73L103.04,298.63L108.12,295.48L113.33,295.58Z" fill="#f5dd52" stroke="#988933"/><path d="M97.98,301.91L92.8,302.09L97.86,298.81L103.04,298.63Z" fill="#e8f256" stroke="#909635"/><path d="M87.75,305.51L82.59,305.96L87.63,302.54L92.8,302.09Z" fill="#c8f154" stroke="#7c9634"/><path d="M77.56,309.51L72.44,310.24L77.46,306.68L82.59,305.96Z" fill="#a4f153" stroke="#669534"/><path d="M67.43,313.92L62.34,314.92L67.34,311.22L72.44,310.24Z" fill="#7df152" stroke="#4d9533"/><path d="M57.36,318.75L52.31,320.02L57.28,316.18L62.34,314.92Z" fill="#51f050" stroke="#329532"/><path d="M247.45,298.38L242.38,294.23L247.46,292.57L252.52,296.7Z" fill="#f5d651" stroke="#988532"/><path d="M237.3,296.01L232.2,292.17L237.28,290.4L242.38,294.23Z" fill="#f3b44b" stroke="#97702e"/><path d="M227.1,294.04L221.96,290.5L227.07,288.63L232.2,292.17Z" fill="#f29846" stroke="#965e2b"/><path d="M216.86,292.47L211.69,289.23L216.8,287.26L221.96,290.5Z" fill="#f18142" stroke="#965029"/><path d="M206.58,291.31L201.39,288.36L206.51,286.28L211.69,289.23Z" fill="#f06f3f" stroke="#954527"/><path d="M196.27,290.55L191.05,287.89L196.18,285.71L201.39,288.36Z" fill="#f0633c" stroke="#953e25"/><path d="M185.93,290.19L180.7,287.83L185.83,285.53L191.05,287.89Z" fill="#f05d3b" stroke="#953a25"/><path d="M175.58,290.24L170.34,288.17L175.47,285.76L180.7,287.83Z" fill="#f05c3b" stroke="#953925"/><path d="M165.21,290.7L159.97,288.92L165.09,286.39L170.34,288.17Z" fill="#f0613c" stroke="#953c25"/><path d="M154.84,291.56L149.6,290.07L154.72,287.42L159.97,288.92Z" fill="#f06b3e" stroke="#954226"/><path d="M144.48,292.83L139.23,291.62L144.35,288.85L149.6,290.07Z" fill="#f17b41" stroke="#954c28"/><path d="M134.12,294.51L128.88,293.58L133.99,290.69L139.23,291.62Z" fill="#f29045" stroke="#965a2a"/><path d="M123.78,296.6L118.55,295.95L123.65,292.93L128.88,293.58Z" fill="#f3ab49" stroke="#976a2d"/><path d="M113.46,299.09L108.25,298.73L113.33,295.58L118.55,295.95Z" fill="#f4cc4f" stroke="#987e31"/><path d="M103.17,302L97.98,301.91L103.04,298.63L108.25,298.73Z" fill="#f6f256" stroke="#999635"/><path d="M92.92,305.32L87.75,305.51L92.8,302.09L97.98,301.91Z" fill="#d9f255" stroke="#869635"/><path d="M82.71,309.04L77.56,309.51L82.59,305.96L87.75,305.51Z" fill="#b8f154" stroke="#729634"/><path d="M72.55,313.19L67.43,313.92L72.44,310.24L77.56,309.51Z" fill="#93f153" stroke="#5b9533"/><path d="M62.44,317.74L57.36,318.75L62.34,314.92L67.43,313.92Z" fill="#6af051" stroke="#429532"/><path d="M52.4,322.71L47.36,323.99L52.31,320.02L57.36,318.75Z" fill="#47ef56" stroke="#2c9436"/><path d="M180.81,292.61L175.58,290.24L180.7,287.83L185.93,290.19Z" fill="#f0653d" stroke="#953f26"/><path d="M129.02,297.52L123.78,296.6L128.88,293.58L134.12,294.51Z" fill="#f3a148" stroke="#96642c"/><path d="M242.39,300.16L237.3,296.01L242.38,294.23L247.45,298.38Z" fill="#f5d451" stroke="#988432"/><path d="M232.22,297.89L227.1,294.04L232.2,292.17L237.3,296.01Z" fill="#f3b44b" stroke="#97702e"/><path d="M222.01,296.02L216.86,292.47L221.96,290.5L227.1,294.04Z" fill="#f29946" stroke="#965f2b"/><path d="M211.75,294.56L206.58,291.31L211.69,289.23L216.86,292.47Z" fill="#f18442" stroke="#965229"/><path d="M191.15,292.85L185.93,290.19L191.05,287.89L196.27,290.55Z" fill="#f06a3e" stroke="#954226"/><path d="M170.45,292.77L165.21,290.7L170.34,288.17L175.58,290.24Z" fill="#f0663d" stroke="#953f26"/><path d="M160.09,293.34L154.84,291.56L159.97,288.92L165.21,290.7Z" fill="#f06d3e" stroke="#954327"/><path d="M118.69,299.73L113.46,299.09L118.55,295.95L123.78,296.6Z" fill="#f4be4d" stroke="#977630"/><path d="M108.38,302.36L103.17,302L108.25,298.73L113.46,299.09Z" fill="#f5e053" stroke="#988b33"/><path d="M98.11,305.4L92.92,305.32L97.98,301.91L103.17,302Z" fill="#e7f255" stroke="#8f9635"/><path d="M77.68,312.71L72.55,313.19L77.56,309.51L82.71,309.04Z" fill="#a7f153" stroke="#679534"/><path d="M67.54,316.99L62.44,317.74L67.43,313.92L72.55,313.19Z" fill="#81f152" stroke="#509533"/><path d="M57.46,321.69L52.4,322.71L57.36,318.75L62.44,317.74Z" fill="#57f051" stroke="#369532"/><path d="M201.46,293.5L196.27,290.55L201.39,288.36L206.58,291.31Z" fill="#f1743f" stroke="#954827"/><path d="M149.72,294.33L144.48,292.83L149.6,290.07L154.84,291.56Z" fill="#f17940" stroke="#954b28"/><path d="M139.37,295.72L134.12,294.51L139.23,291.62L144.48,292.83Z" fill="#f28a43" stroke="#96562a"/><path d="M87.87,308.85L82.71,309.04L87.75,305.51L92.92,305.32Z" fill="#c9f154" stroke="#7d9634"/><path d="M227.13,299.87L222.01,296.02L227.1,294.04L232.22,297.89Z" fill="#f3b54b" stroke="#97702f"/><path d="M196.35,295.81L191.15,292.85L196.27,290.55L201.46,293.5Z" fill="#f17a41" stroke="#954c28"/><path d="M175.69,295.14L170.45,292.77L175.58,290.24L180.81,292.61Z" fill="#f06f3f" stroke="#954527"/><path d="M165.33,295.42L160.09,293.34L165.21,290.7L170.45,292.77Z" fill="#f1723f" stroke="#954627"/><path d="M123.92,300.65L118.69,299.73L123.78,296.6L129.02,297.52Z" fill="#f3b34b" stroke="#976f2e"/><path d="M113.6,302.99L108.38,302.36L113.46,299.09L118.69,299.73Z" fill="#f5d250" stroke="#988232"/><path d="M93.06,308.92L87.87,308.85L92.92,305.32L98.11,305.4Z" fill="#d8f255" stroke="#869635"/><path d="M62.56,320.93L57.46,321.69L62.44,317.74L67.54,316.99Z" fill="#6df051" stroke="#449532"/><path d="M237.31,302.04L232.22,297.89L237.3,296.01L242.39,300.16Z" fill="#f5d451" stroke="#988332"/><path d="M216.91,298.11L211.75,294.56L216.86,292.47L222.01,296.02Z" fill="#f29c47" stroke="#96612c"/><path d="M206.65,296.75L201.46,293.5L206.58,291.31L211.75,294.56Z" fill="#f28843" stroke="#96552a"/><path d="M186.03,295.27L180.81,292.61L185.93,290.19L191.15,292.85Z" fill="#f1723f" stroke="#954727"/><path d="M154.97,296.11L149.72,294.33L154.84,291.56L160.09,293.34Z" fill="#f17a40" stroke="#954b28"/><path d="M144.61,297.21L139.37,295.72L144.48,292.83L149.72,294.33Z" fill="#f28743" stroke="#965429"/><path d="M134.26,298.73L129.02,297.52L134.12,294.51L139.37,295.72Z" fill="#f29b46" stroke="#96602c"/><path d="M103.31,305.75L98.11,305.4L103.17,302L108.38,302.36Z" fill="#f4f256" stroke="#979635"/><path d="M82.84,312.51L77.68,312.71L82.71,309.04L87.87,308.85Z" fill="#b8f154" stroke="#729634"/><path d="M72.67,316.51L67.54,316.99L72.55,313.19L77.68,312.71Z" fill="#95f153" stroke="#5c9533"/><path d="M232.23,304.04L227.13,299.87L232.22,297.89L237.31,302.04Z" fill="#f5d551" stroke="#988432"/><path d="M211.81,300.31L206.65,296.75L211.75,294.56L216.91,298.11Z" fill="#f3a047" stroke="#96632c"/><path d="M201.54,299.07L196.35,295.81L201.46,293.5L206.65,296.75Z" fill="#f28e44" stroke="#96582a"/><path d="M191.23,298.23L186.03,295.27L191.15,292.85L196.35,295.81Z" fill="#f18242" stroke="#965129"/><path d="M180.91,297.8L175.69,295.14L180.81,292.61L186.03,295.27Z" fill="#f17b41" stroke="#954c28"/><path d="M170.57,297.78L165.33,295.42L170.45,292.77L175.69,295.14Z" fill="#f17a41" stroke="#954c28"/><path d="M160.21,298.18L154.97,296.11L160.09,293.34L165.33,295.42Z" fill="#f17e41" stroke="#954e28"/><path d="M149.86,298.99L144.61,297.21L149.72,294.33L154.97,296.11Z" fill="#f28843" stroke="#96542a"/><path d="M139.5,300.22L134.26,298.73L139.37,295.72L144.61,297.21Z" fill="#f29746" stroke="#965e2b"/><path d="M129.16,301.86L123.92,300.65L129.02,297.52L134.26,298.73Z" fill="#f3ac4a" stroke="#976b2e"/><path d="M118.83,303.91L113.6,302.99L118.69,299.73L123.92,300.65Z" fill="#f4c74e" stroke="#977b31"/><path d="M108.53,306.38L103.31,305.75L108.38,302.36L113.6,302.99Z" fill="#f6e754" stroke="#988f34"/><path d="M98.25,309.27L93.06,308.92L98.11,305.4L103.31,305.75Z" fill="#e4f255" stroke="#8e9635"/><path d="M77.82,316.3L72.67,316.51L77.68,312.71L82.84,312.51Z" fill="#a6f153" stroke="#679534"/><path d="M67.67,320.44L62.56,320.93L67.54,316.99L72.67,316.51Z" fill="#82f152" stroke="#509533"/><path d="M222.04,301.97L216.91,298.11L222.01,296.02L227.13,299.87Z" fill="#f4b84c" stroke="#97722f"/><path d="M88.01,312.57L82.84,312.51L87.87,308.85L93.06,308.92Z" fill="#c7f154" stroke="#7c9634"/><path d="M227.15,306.15L222.04,301.97L227.13,299.87L232.23,304.04Z" fill="#f5d751" stroke="#988532"/><path d="M216.95,304.18L211.81,300.31L216.91,298.11L222.04,301.97Z" fill="#f4bb4c" stroke="#97742f"/><path d="M206.7,302.63L201.54,299.07L206.65,296.75L211.81,300.31Z" fill="#f3a648" stroke="#97672d"/><path d="M196.43,301.49L191.23,298.23L196.35,295.81L201.54,299.07Z" fill="#f29645" stroke="#965d2b"/><path d="M186.12,300.76L180.91,297.8L186.03,295.27L191.23,298.23Z" fill="#f28b44" stroke="#96562a"/><path d="M175.79,300.45L170.57,297.78L175.69,295.14L180.91,297.8Z" fill="#f18643" stroke="#965329"/><path d="M165.45,300.55L160.21,298.18L165.33,295.42L170.57,297.78Z" fill="#f18643" stroke="#965329"/><path d="M155.1,301.07L149.86,298.99L154.97,296.11L160.21,298.18Z" fill="#f28c44" stroke="#96572a"/><path d="M144.75,302L139.5,300.22L144.61,297.21L149.86,298.99Z" fill="#f29846" stroke="#965e2b"/><path d="M134.4,303.35L129.16,301.86L134.26,298.73L139.5,300.22Z" fill="#f3a949" stroke="#97692d"/><path d="M124.07,305.11L118.83,303.91L123.92,300.65L129.16,301.86Z" fill="#f4bf4d" stroke="#977730"/><path d="M113.75,307.3L108.53,306.38L113.6,302.99L118.83,303.91Z" fill="#f5db52" stroke="#988833"/><path d="M103.46,309.9L98.25,309.27L103.31,305.75L108.53,306.38Z" fill="#eff256" stroke="#949635"/><path d="M93.2,312.92L88.01,312.57L93.06,308.92L98.25,309.27Z" fill="#d4f255" stroke="#839635"/><path d="M82.98,316.36L77.82,316.3L82.84,312.51L88.01,312.57Z" fill="#b6f154" stroke="#719634"/><path d="M72.81,320.22L67.67,320.44L72.67,316.51L77.82,316.3Z" fill="#94f153" stroke="#5c9533"/><path d="M222.07,308.36L216.95,304.18L222.04,301.97L227.15,306.15Z" fill="#f5da52" stroke="#988733"/><path d="M211.85,306.5L206.7,302.63L211.81,300.31L216.95,304.18Z" fill="#f4c14d" stroke="#977730"/><path d="M201.6,305.06L196.43,301.49L201.54,299.07L206.7,302.63Z" fill="#f3ad4a" stroke="#976b2e"/><path d="M191.32,304.03L186.12,300.76L191.23,298.23L196.43,301.49Z" fill="#f29e47" stroke="#96622c"/><path d="M181.01,303.42L175.79,300.45L180.91,297.8L186.12,300.76Z" fill="#f29545" stroke="#965c2b"/><path d="M170.68,303.22L165.45,300.55L170.57,297.78L175.79,300.45Z" fill="#f29245" stroke="#965a2b"/><path d="M160.34,303.44L155.1,301.07L160.21,298.18L165.45,300.55Z" fill="#f29445" stroke="#965c2b"/><path d="M149.99,304.07L144.75,302L149.86,298.99L155.1,301.07Z" fill="#f29b47" stroke="#96602c"/><path d="M139.64,305.13L134.4,303.35L139.5,300.22L144.75,302Z" fill="#f3a949" stroke="#97692d"/><path d="M129.31,306.6L124.07,305.11L129.16,301.86L134.4,303.35Z" fill="#f4bb4c" stroke="#97742f"/><path d="M118.98,308.49L113.75,307.3L118.83,303.91L124.07,305.11Z" fill="#f5d451" stroke="#988332"/><path d="M108.68,310.81L103.46,309.9L108.53,306.38L113.75,307.3Z" fill="#f6f156" stroke="#999635"/><path d="M98.41,313.54L93.2,312.92L98.25,309.27L103.46,309.9Z" fill="#def255" stroke="#8a9635"/><path d="M88.17,316.7L82.98,316.36L88.01,312.57L93.2,312.92Z" fill="#c3f154" stroke="#799634"/><path d="M77.97,320.28L72.81,320.22L77.82,316.3L82.98,316.36Z" fill="#a3f153" stroke="#659534"/><path d="M216.98,310.69L211.85,306.5L216.95,304.18L222.07,308.36Z" fill="#f5df53" stroke="#988a33"/><path d="M206.76,308.94L201.6,305.06L206.7,302.63L211.85,306.5Z" fill="#f4c74e" stroke="#977b31"/><path d="M196.5,307.61L191.32,304.03L196.43,301.49L201.6,305.06Z" fill="#f3b54b" stroke="#97702f"/><path d="M186.21,306.69L181.01,303.42L186.12,300.76L191.32,304.03Z" fill="#f3a849" stroke="#97682d"/><path d="M155.23,306.45L149.99,304.07L155.1,301.07L160.34,303.44Z" fill="#f3a348" stroke="#96652d"/><path d="M144.89,307.2L139.64,305.13L144.75,302L149.99,304.07Z" fill="#f3ac49" stroke="#976b2e"/><path d="M134.55,308.38L129.31,306.6L134.4,303.35L139.64,305.13Z" fill="#f4bb4c" stroke="#97742f"/><path d="M103.62,314.45L98.41,313.54L103.46,309.9L108.68,310.81Z" fill="#e7f255" stroke="#8f9635"/><path d="M93.36,317.32L88.17,316.7L93.2,312.92L98.41,313.54Z" fill="#cef255" stroke="#7f9634"/><path d="M83.14,320.61L77.97,320.28L82.98,316.36L88.17,316.7Z" fill="#b1f154" stroke="#6e9634"/><path d="M175.9,306.19L170.68,303.22L175.79,300.45L181.01,303.42Z" fill="#f3a147" stroke="#96642c"/><path d="M165.57,306.11L160.34,303.44L165.45,300.55L170.68,303.22Z" fill="#f29f47" stroke="#96622c"/><path d="M124.22,309.98L118.98,308.49L124.07,305.11L129.31,306.6Z" fill="#f5cf50" stroke="#988131"/><path d="M113.91,312L108.68,310.81L113.75,307.3L118.98,308.49Z" fill="#f6e954" stroke="#989134"/><path d="M201.66,311.5L196.5,307.61L201.6,305.06L206.76,308.94Z" fill="#f5cf50" stroke="#988031"/><path d="M150.12,309.58L144.89,307.2L149.99,304.07L155.23,306.45Z" fill="#f3b34b" stroke="#976f2e"/><path d="M139.79,310.46L134.55,308.38L139.64,305.13L144.89,307.2Z" fill="#f4be4d" stroke="#977630"/><path d="M88.33,321.23L83.14,320.61L88.17,316.7L93.36,317.32Z" fill="#bcf154" stroke="#749634"/><path d="M211.89,313.14L206.76,308.94L211.85,306.5L216.98,310.69Z" fill="#f5e554" stroke="#988e34"/><path d="M191.39,310.27L186.21,306.69L191.32,304.03L196.5,307.61Z" fill="#f4be4d" stroke="#977630"/><path d="M181.1,309.47L175.9,306.19L181.01,303.42L186.21,306.69Z" fill="#f3b34b" stroke="#976f2e"/><path d="M170.79,309.08L165.57,306.11L170.68,303.22L175.9,306.19Z" fill="#f3ad4a" stroke="#976b2e"/><path d="M160.46,309.12L155.23,306.45L160.34,303.44L165.57,306.11Z" fill="#f3ad4a" stroke="#976b2e"/><path d="M129.46,311.76L124.22,309.98L129.31,306.6L134.55,308.38Z" fill="#f5ce50" stroke="#988031"/><path d="M119.14,313.49L113.91,312L118.98,308.49L124.22,309.98Z" fill="#f5e554" stroke="#988e34"/><path d="M108.84,315.64L103.62,314.45L108.68,310.81L113.91,312Z" fill="#ecf256" stroke="#939635"/><path d="M98.57,318.22L93.36,317.32L98.41,313.54L103.62,314.45Z" fill="#d6f255" stroke="#859635"/><path d="M206.8,315.7L201.66,311.5L206.76,308.94L211.89,313.14Z" fill="#f6ec55" stroke="#989235"/><path d="M186.29,313.06L181.1,309.47L186.21,306.69L191.39,310.27Z" fill="#f4c94f" stroke="#977c31"/><path d="M176,312.37L170.79,309.08L175.9,306.19L181.1,309.47Z" fill="#f4bf4d" stroke="#977730"/><path d="M165.68,312.1L160.46,309.12L165.57,306.11L170.79,309.08Z" fill="#f4bb4c" stroke="#97742f"/><path d="M155.36,312.26L150.12,309.58L155.23,306.45L160.46,309.12Z" fill="#f4bd4d" stroke="#97752f"/><path d="M145.03,312.84L139.79,310.46L144.89,307.2L150.12,309.58Z" fill="#f4c44e" stroke="#977a30"/><path d="M134.7,313.84L129.46,311.76L134.55,308.38L139.79,310.46Z" fill="#f5d150" stroke="#988232"/><path d="M124.38,315.27L119.14,313.49L124.22,309.98L129.46,311.76Z" fill="#f5e353" stroke="#988d34"/><path d="M103.79,319.42L98.57,318.22L103.62,314.45L108.84,315.64Z" fill="#dcf255" stroke="#889635"/><path d="M93.53,322.13L88.33,321.23L93.36,317.32L98.57,318.22Z" fill="#c4f154" stroke="#7a9634"/><path d="M196.56,314.17L191.39,310.27L196.5,307.61L201.66,311.5Z" fill="#f5d851" stroke="#988632"/><path d="M114.07,317.13L108.84,315.64L113.91,312L119.14,313.49Z" fill="#f0f256" stroke="#959635"/><path d="M201.71,318.38L196.56,314.17L201.66,311.5L206.8,315.7Z" fill="#f4f256" stroke="#979635"/><path d="M191.46,316.96L186.29,313.06L191.39,310.27L196.56,314.17Z" fill="#f5e253" stroke="#988c34"/><path d="M181.19,315.96L176,312.37L181.1,309.47L186.29,313.06Z" fill="#f5d551" stroke="#988432"/><path d="M170.89,315.39L165.68,312.1L170.79,309.08L176,312.37Z" fill="#f4cd4f" stroke="#987f31"/><path d="M160.58,315.24L155.36,312.26L160.46,309.12L165.68,312.1Z" fill="#f4cb4f" stroke="#977e31"/><path d="M150.26,315.52L145.03,312.84L150.12,309.58L155.36,312.26Z" fill="#f4ce50" stroke="#988031"/><path d="M139.94,316.22L134.7,313.84L139.79,310.46L145.03,312.84Z" fill="#f5d751" stroke="#988532"/><path d="M129.62,317.36L124.38,315.27L129.46,311.76L134.7,313.84Z" fill="#f5e554" stroke="#988e34"/><path d="M119.31,318.92L114.07,317.13L119.14,313.49L124.38,315.27Z" fill="#f1f256" stroke="#959635"/><path d="M109.01,320.9L103.79,319.42L108.84,315.64L114.07,317.13Z" fill="#e0f255" stroke="#8b9635"/><path d="M98.75,323.32L93.53,322.13L98.57,318.22L103.79,319.42Z" fill="#cbf255" stroke="#7e9634"/><path d="M196.62,321.19L191.46,316.96L196.56,314.17L201.71,318.38Z" fill="#edf256" stroke="#939635"/><path d="M186.37,319.88L181.19,315.96L186.29,313.06L191.46,316.96Z" fill="#f6ee55" stroke="#989335"/><path d="M176.09,318.99L170.89,315.39L176,312.37L181.19,315.96Z" fill="#f5e253" stroke="#988c34"/><path d="M165.8,318.54L160.58,315.24L165.68,312.1L170.89,315.39Z" fill="#f5dc52" stroke="#988833"/><path d="M155.49,318.51L150.26,315.52L155.36,312.26L160.58,315.24Z" fill="#f5dc52" stroke="#988833"/><path d="M145.17,318.91L139.94,316.22L145.03,312.84L150.26,315.52Z" fill="#f5e153" stroke="#988b33"/><path d="M134.85,319.74L129.62,317.36L134.7,313.84L139.94,316.22Z" fill="#f6eb55" stroke="#989235"/><path d="M124.54,321L119.31,318.92L124.38,315.27L129.62,317.36Z" fill="#f0f256" stroke="#959635"/><path d="M114.24,322.69L109.01,320.9L114.07,317.13L119.31,318.92Z" fill="#e1f255" stroke="#8c9635"/><path d="M103.97,324.81L98.75,323.32L103.79,319.42L109.01,320.9Z" fill="#cff255" stroke="#809634"/><path d="M171,322.15L165.8,318.54L170.89,315.39L176.09,318.99Z" fill="#f6f156" stroke="#989535"/><path d="M160.7,321.81L155.49,318.51L160.58,315.24L165.8,318.54Z" fill="#f6ec55" stroke="#989335"/><path d="M129.78,323.38L124.54,321L129.62,317.36L134.85,319.74Z" fill="#ecf256" stroke="#929635"/><path d="M119.48,324.77L114.24,322.69L119.31,318.92L124.54,321Z" fill="#e0f255" stroke="#8b9635"/><path d="M191.53,324.11L186.37,319.88L191.46,316.96L196.62,321.19Z" fill="#e6f255" stroke="#8e9635"/><path d="M181.28,322.91L176.09,318.99L181.19,315.96L186.37,319.88Z" fill="#f0f256" stroke="#959635"/><path d="M150.4,321.9L145.17,318.91L150.26,315.52L155.49,318.51Z" fill="#f6ee55" stroke="#989335"/><path d="M140.09,322.43L134.85,319.74L139.94,316.22L145.17,318.91Z" fill="#f4f256" stroke="#989635"/><path d="M109.19,326.59L103.97,324.81L109.01,320.9L114.24,322.69Z" fill="#d0f255" stroke="#819635"/><path d="M186.44,327.16L181.28,322.91L186.37,319.88L191.53,324.11Z" fill="#ddf255" stroke="#899635"/><path d="M176.19,326.08L171,322.15L176.09,318.99L181.28,322.91Z" fill="#e7f255" stroke="#8f9635"/><path d="M165.91,325.43L160.7,321.81L165.8,318.54L171,322.15Z" fill="#ecf256" stroke="#929635"/><path d="M155.62,325.21L150.4,321.9L155.49,318.51L160.7,321.81Z" fill="#eef256" stroke="#939635"/><path d="M145.32,325.43L140.09,322.43L145.17,318.91L150.4,321.9Z" fill="#ecf256" stroke="#929635"/><path d="M135.01,326.08L129.78,323.38L134.85,319.74L140.09,322.43Z" fill="#e6f255" stroke="#8f9635"/><path d="M124.71,327.16L119.48,324.77L124.54,321L129.78,323.38Z" fill="#ddf255" stroke="#899635"/><path d="M114.42,328.68L109.19,326.59L114.24,322.69L119.48,324.77Z" fill="#d0f255" stroke="#819635"/><path d="M181.36,330.33L176.19,326.08L181.28,322.91L186.44,327.16Z" fill="#d4f255" stroke="#839635"/><path d="M160.83,328.84L155.62,325.21L160.7,321.81L165.91,325.43Z" fill="#e0f255" stroke="#8b9635"/><path d="M150.54,328.74L145.32,325.43L150.4,321.9L155.62,325.21Z" fill="#e1f255" stroke="#8c9635"/><path d="M119.66,331.07L114.42,328.68L119.48,324.77L124.71,327.16Z" fill="#cdf255" stroke="#7f9634"/><path d="M140.24,329.08L135.01,326.08L140.09,322.43L145.32,325.43Z" fill="#def255" stroke="#8a9635"/><path d="M171.1,329.36L165.91,325.43L171,322.15L176.19,326.08Z" fill="#dcf255" stroke="#889635"/><path d="M129.94,329.86L124.71,327.16L129.78,323.38L135.01,326.08Z" fill="#d7f255" stroke="#859635"/><path d="M176.28,333.62L171.1,329.36L176.19,326.08L181.36,330.33Z" fill="#caf154" stroke="#7d9634"/><path d="M155.75,332.37L150.54,328.74L155.62,325.21L160.83,328.84Z" fill="#d4f255" stroke="#839635"/><path d="M145.46,332.4L140.24,329.08L145.32,325.43L150.54,328.74Z" fill="#d3f255" stroke="#839635"/><path d="M135.17,332.87L129.94,329.86L135.01,326.08L140.24,329.08Z" fill="#cff255" stroke="#809634"/><path d="M124.89,333.78L119.66,331.07L124.71,327.16L129.94,329.86Z" fill="#c7f154" stroke="#7c9634"/><path d="M166.02,332.78L160.83,328.84L165.91,325.43L171.1,329.36Z" fill="#d1f255" stroke="#819635"/><path d="M171.2,337.05L166.02,332.78L171.1,329.36L176.28,333.62Z" fill="#bff154" stroke="#769634"/><path d="M160.95,336.33L155.75,332.37L160.83,328.84L166.02,332.78Z" fill="#c4f154" stroke="#7a9634"/><path d="M150.67,336.04L145.46,332.4L150.54,328.74L155.75,332.37Z" fill="#c6f154" stroke="#7b9634"/><path d="M140.4,336.2L135.17,332.87L140.24,329.08L145.46,332.4Z" fill="#c5f154" stroke="#7a9634"/><path d="M130.11,336.79L124.89,333.78L129.94,329.86L135.17,332.87Z" fill="#c0f154" stroke="#779634"/><path d="M166.13,340.61L160.95,336.33L166.02,332.78L171.2,337.05Z" fill="#b3f154" stroke="#6f9634"/><path d="M155.88,340L150.67,336.04L155.75,332.37L160.95,336.33Z" fill="#b7f154" stroke="#729634"/><path d="M145.61,339.84L140.4,336.2L145.46,332.4L150.67,336.04Z" fill="#b8f154" stroke="#729634"/><path d="M135.34,340.12L130.11,336.79L135.17,332.87L140.4,336.2Z" fill="#b5f154" stroke="#709634"/><path d="M161.06,344.29L155.88,340L160.95,336.33L166.13,340.61Z" fill="#a6f153" stroke="#679534"/><path d="M150.81,343.82L145.61,339.84L150.67,336.04L155.88,340Z" fill="#a9f153" stroke="#699534"/><path d="M140.55,343.78L135.34,340.12L140.4,336.2L145.61,339.84Z" fill="#a9f153" stroke="#699534"/><path d="M156,348.12L150.81,343.82L155.88,340L161.06,344.29Z" fill="#98f153" stroke="#5e9533"/><path d="M145.76,347.76L140.55,343.78L145.61,339.84L150.81,343.82Z" fill="#9af153" stroke="#609533"/><path d="M150.95,352.07L145.76,347.76L150.81,343.82L156,348.12Z" fill="#89f152" stroke="#559533"/></g>
<g fill="#bb0a12"><ellipse cx="148.9" cy="283.0" rx="1.9" ry="2.2"/><ellipse cx="148.9" cy="287.2" rx="1.9" ry="2.2"/><rect x="147.4" y="283.6" width="3" height="3"/></g>
<g text-anchor="middle" stroke="#1b2f4b" stroke-width="0.3"><text font-size="9.7" transform="translate(10.6,318.3) rotate(-90)" y="2.91">Hardness (HV)</text><text font-size="7.1" transform="translate(83.3,440.6) rotate(27.6) scale(1,1.2)" y="2.13">Spray Distance (inch)</text><text font-size="6.7" transform="translate(220.2,434.6) rotate(-31.7) scale(1,1.2)" y="2.01">Powder Feed Rate (gm/min)</text><text x="139.5" y="481.2" font-size="14" fill="#111" stroke="none"><tspan font-weight="normal">(</tspan>c<tspan font-weight="normal">)</tspan></text></g></g>
<g><path d="M353.93,368.03L443.66,337.35L534.61,367.3M353.29,354.6L443.59,325.21L535.13,353.75M352.66,341.17L443.53,313.08L535.64,340.21M352.03,327.73L443.46,300.94L536.15,326.67M351.4,314.3L443.4,288.81L536.66,313.13M350.76,300.87L443.33,276.67L537.18,299.58M350.13,287.43L443.27,264.54L537.69,286.04M349.5,274L443.2,252.4L538.2,272.5M355.3,397.2L349.5,274M376.36,360.36L372.93,268.6M398.79,352.69L396.35,263.2M421.23,345.02L419.77,257.8M443.8,363.7L443.2,252.4M533.5,396.7L538.2,272.5M516.42,361.31L519.2,268.48M498.23,355.32L500.2,264.46M480.04,349.33L481.2,260.44M461.85,343.34L462.2,256.42" stroke="#747474" stroke-width="0.75" fill="none"/>
<polygon points="445.8,439.6 355.3,397.2 443.8,363.7 533.5,396.7" fill="#5e5e5e"/>
<g fill="none" stroke-width="1.0"><polyline points="365.51,393.33 365.56,393.76 365.65,394.42 365.72,394.94 365.8,395.5 365.89,396.14 365.97,396.58 366.09,397.3 366.17,397.76 366.28,398.37 366.4,399 366.49,399.45 366.65,400.16 366.76,400.67 366.89,401.23 367.05,401.94 367.16,402.38 367.27,402.81" stroke="#3ac869"/><polyline points="376.77,389.07 376.8,389.64 376.84,390.16 376.89,390.78 376.93,391.25 377,391.93 377.05,392.33 377.13,393.05 377.19,393.49 377.28,394.13 377.36,394.67 377.44,395.2 377.56,395.88 377.63,396.28 377.76,396.98 377.86,397.51 377.97,398.04 378.12,398.75 378.22,399.17 378.37,399.81 378.52,400.44 378.63,400.87 378.82,401.57 378.98,402.16 379.11,402.62 379.31,403.31 379.5,403.93 379.64,404.37 379.85,405.05 380.08,405.73 380.23,406.18 380.44,406.78 380.69,407.47 380.9,408.04 381.08,408.51 381.35,409.18 381.46,409.46" stroke="#42cc44"/><polyline points="391.62,383.45 391.61,383.83 391.59,384.54 391.58,384.92 391.58,385.61 391.58,386.02 391.59,386.7 391.61,387.12 391.63,387.8 391.66,388.2 391.7,388.92 391.73,389.29 391.79,390.01 391.83,390.43 391.9,391.08 391.96,391.58 392.04,392.15 392.12,392.76 392.19,393.22 392.31,393.93 392.39,394.35 392.51,394.98 392.62,395.56 392.72,396.04 392.87,396.74 392.99,397.22 393.12,397.78 393.3,398.47 393.42,398.91 393.59,399.51 393.79,400.2 393.92,400.64 394.1,401.23 394.33,401.92 394.49,402.41 394.68,402.94 394.92,403.62 395.15,404.23 395.33,404.69 395.57,405.3 395.84,405.98 396.09,406.57 396.3,407.05 396.56,407.65 396.87,408.31 397.18,408.97 397.44,409.5 397.68,410 398,410.62 398.34,411.27 398.69,411.92 399.04,412.57 399.34,413.1 399.65,413.64 399.97,414.19 400.36,414.83 400.75,415.47 401.15,416.11 401.56,416.74 401.98,417.37 402.41,418 402.84,418.63 403.29,419.25 403.74,419.88 403.76,419.9" stroke="#8bcd47"/><polyline points="410.07,376.47 409.95,377.03 409.83,377.62 409.75,378.01 409.64,378.65 409.56,379.15 409.49,379.64 409.4,380.28 409.36,380.66 409.29,381.33 409.25,381.78 409.21,382.35 409.18,382.89 409.16,383.4 409.14,384 409.13,384.46 409.13,385.09 409.13,385.53 409.15,386.18 409.17,386.63 409.2,387.26 409.23,387.74 409.28,388.34 409.33,388.87 409.39,389.4 409.47,390.01 409.53,390.46 409.64,391.17 409.71,391.58 409.82,392.22 409.93,392.77 410.03,393.26 410.18,393.95 410.29,394.4 410.44,394.98 410.62,395.66 410.74,396.08 410.91,396.68 411.12,397.36 411.27,397.8 411.46,398.37 411.7,399.03 411.9,399.57 412.07,400.03 412.33,400.69 412.61,401.35 412.83,401.87 413.04,402.34 413.34,402.98 413.65,403.63 413.97,404.27 414.22,404.76 414.48,405.26 414.82,405.87 415.17,406.51 415.54,407.14 415.91,407.77 416.29,408.37 416.63,408.91 416.99,409.45 417.36,410.01 417.74,410.57 418.16,411.16 418.61,411.77 419.06,412.37 419.52,412.97 419.99,413.57 420.47,414.16 420.97,414.76 421.53,415.4 422.11,416.06 422.73,416.73 423.31,417.36 423.86,417.92 424.42,418.49 424.99,419.05 425.59,419.62 426.44,420.41 427.08,420.98 427.7,421.52 428.36,422.09 429.29,422.85 429.95,423.38 430.71,423.97 431.65,424.67 432.36,425.18 433.43,425.93 434.16,426.43 435.28,427.16 436.05,427.64 437.22,428.35 438.42,429.05 439.27,429.52 440.5,430.18 441.78,430.83 443.11,431.47 444.47,432.1 445.86,432.7 447.3,433.29 448.32,433.68 449.78,434.22 451.33,434.75 452.39,435.09 454.02,435.58 454.02,435.58" stroke="#d1cb49"/><polyline points="523.31,401.68 523.9,401.06 524.42,400.49 524.92,399.92 525.42,399.35 525.9,398.78 526.37,398.2 526.83,397.62 527.28,397.03 527.72,396.44 528.15,395.85 528.56,395.26 528.77,394.96" stroke="#ce813b"/><polyline points="435.7,366.77 435.37,367.23 435.01,367.74 434.66,368.28 434.31,368.82 433.98,369.37 433.66,369.93 433.41,370.37 433.18,370.81 432.91,371.33 432.63,371.91 432.36,372.49 432.16,372.93 431.98,373.37 431.74,373.96 431.52,374.56 431.37,374.98 431.21,375.48 431.02,376.09 430.88,376.58 430.76,377.03 430.6,377.67 430.49,378.15 430.39,378.63 430.27,379.29 430.21,379.69 430.12,380.28 430.05,380.83 430,381.29 429.95,381.95 429.92,382.32 429.89,383.02 429.88,383.42 429.88,384.08 429.88,384.51 429.91,385.17 429.93,385.59 429.98,386.27 430.01,386.65 430.09,387.35 430.15,387.78 430.24,388.4 430.34,388.95 430.43,389.43 430.57,390.12 430.67,390.54 430.82,391.13 431,391.77 431.12,392.19 431.31,392.8 431.54,393.46 431.69,393.9 431.9,394.44 432.16,395.08 432.41,395.68 432.62,396.14 432.87,396.68 433.18,397.31 433.5,397.94 433.81,398.51 434.09,399 434.39,399.5 434.75,400.09 435.13,400.69 435.54,401.29 435.95,401.89 436.38,402.48 436.82,403.06 437.28,403.64 437.75,404.21 438.24,404.78 438.74,405.35 439.25,405.9 439.78,406.46 440.32,407 440.99,407.65 441.75,408.35 442.34,408.87 442.95,409.39 443.63,409.95 444.55,410.67 445.21,411.16 446.1,411.8 446.95,412.38 447.78,412.92 448.79,413.54 449.95,414.22 450.75,414.66 451.98,415.31 453.26,415.93 454.59,416.53 455.97,417.11 457.4,417.66 458.89,418.19 459.91,418.52 461.51,419 462.61,419.29 464.32,419.71 465.51,419.97 466.74,420.2 468.01,420.42 469.33,420.61 470.69,420.78 472.11,420.92 473.59,421.03 474.94,421.1 475.95,421.13 477.61,421.14 478.75,421.13 480.3,421.07 481.31,421.02 482.9,420.89 484.34,420.75 484.34,420.75" stroke="#ce813b"/></g>
<g fill="#111"><circle cx="353.93" cy="368.03" r="0.75"/><circle cx="353.29" cy="354.6" r="0.75"/><circle cx="352.66" cy="341.17" r="0.75"/><circle cx="352.03" cy="327.73" r="0.75"/><circle cx="351.4" cy="314.3" r="0.75"/><circle cx="350.76" cy="300.87" r="0.75"/><circle cx="350.13" cy="287.43" r="0.75"/><circle cx="349.5" cy="274" r="0.75"/><circle cx="427.7" cy="431.12" r="0.8"/><circle cx="409.6" cy="422.64" r="0.8"/><circle cx="391.5" cy="414.16" r="0.8"/><circle cx="373.4" cy="405.68" r="0.8"/><circle cx="355.3" cy="397.2" r="0.8"/><circle cx="467.73" cy="428.88" r="0.8"/><circle cx="489.65" cy="418.15" r="0.8"/><circle cx="511.57" cy="407.42" r="0.8"/><circle cx="533.5" cy="396.7" r="0.8"/><circle cx="445.8" cy="439.6" r="0.8"/></g>
<g font-size="6.6" text-anchor="end" stroke="#1b2f4b" stroke-width="0.22"><text x="352.33" y="370.21">700</text><text x="351.69" y="356.78">800</text><text x="351.06" y="343.34">900</text><text x="350.43" y="329.91">1000</text><text x="349.8" y="316.48">1100</text><text x="349.16" y="303.04">1200</text><text x="348.53" y="289.61">1300</text><text x="347.9" y="276.18">1400</text></g>
<g font-size="6.6" text-anchor="middle" stroke="#1b2f4b" stroke-width="0.2"><text transform="translate(437.6,444.2) scale(1,1.28)" y="2.18">6.5</text><text transform="translate(423,436.8) scale(1,1.28)" y="2.18">6.7</text><text transform="translate(404.6,428.7) scale(1,1.28)" y="2.18">6.9</text><text transform="translate(387.3,419.3) scale(1,1.28)" y="2.18">7.1</text><text transform="translate(368.3,410.7) scale(1,1.28)" y="2.18">7.3</text><text transform="translate(349.5,400.8) scale(1,1.28)" y="2.18">7.5</text><text transform="translate(454.3,443.2) scale(1,1.28)" y="2.18">240</text><text transform="translate(473.2,433.4) scale(1,1.28)" y="2.18">245</text><text transform="translate(496.7,422.3) scale(1,1.28)" y="2.18">250</text><text transform="translate(520.2,408.8) scale(1,1.28)" y="2.18">255</text><text transform="translate(540.4,399.3) scale(1,1.28)" y="2.18">260</text></g>
<g stroke-width="0.38" stroke-linejoin="round"><path d="M443.39,277.3L438.7,277.57L443.33,275.66L448.02,275.46Z" fill="#f18342" stroke="#965129"/><path d="M438.76,279.29L434.08,279.61L438.7,277.57L443.39,277.3Z" fill="#f28b44" stroke="#96562a"/><path d="M448.08,277.18L443.39,277.3L448.02,275.46L452.71,275.39Z" fill="#f1733f" stroke="#954727"/><path d="M452.78,277.21L448.08,277.18L452.71,275.39L457.42,275.48Z" fill="#f0653d" stroke="#953f26"/><path d="M443.45,279.11L438.76,279.29L443.39,277.3L448.08,277.18Z" fill="#f17b41" stroke="#954c28"/><path d="M434.14,281.42L429.46,281.8L434.08,279.61L438.76,279.29Z" fill="#f29645" stroke="#965d2b"/><path d="M448.15,279.08L443.45,279.11L448.08,277.18L452.78,277.21Z" fill="#f06c3e" stroke="#954326"/><path d="M429.53,283.7L424.86,284.13L429.46,281.8L434.14,281.42Z" fill="#f3a248" stroke="#96642c"/><path d="M457.49,277.38L452.78,277.21L457.42,275.48L462.12,275.71Z" fill="#f05a3b" stroke="#953824"/><path d="M438.83,281.19L434.14,281.42L438.76,279.29L443.45,279.11Z" fill="#f18442" stroke="#965229"/><path d="M462.2,277.71L457.49,277.38L462.12,275.71L466.83,276.09Z" fill="#ef5039" stroke="#943123"/><path d="M452.86,279.2L448.15,279.08L452.78,277.21L457.49,277.38Z" fill="#f05f3c" stroke="#953b25"/><path d="M443.53,281.1L438.83,281.19L443.45,279.11L448.15,279.08Z" fill="#f17540" stroke="#954827"/><path d="M434.21,283.41L429.53,283.7L434.14,281.42L438.83,281.19Z" fill="#f28f44" stroke="#96592a"/><path d="M424.92,286.13L420.25,286.62L424.86,284.13L429.53,283.7Z" fill="#f3af4a" stroke="#976d2e"/><path d="M466.91,278.19L462.2,277.71L466.83,276.09L471.54,276.63Z" fill="#ef4837" stroke="#942c22"/><path d="M448.23,281.16L443.53,281.1L448.15,279.08L452.86,279.2Z" fill="#f0673d" stroke="#954026"/><path d="M438.9,283.26L434.21,283.41L438.83,281.19L443.53,281.1Z" fill="#f17f41" stroke="#964f29"/><path d="M420.32,288.7L415.66,289.25L420.25,286.62L424.92,286.13Z" fill="#f4be4d" stroke="#977630"/><path d="M457.57,279.47L452.86,279.2L457.49,277.38L462.2,277.71Z" fill="#ef553a" stroke="#943424"/><path d="M429.6,285.78L424.92,286.13L429.53,283.7L434.21,283.41Z" fill="#f29c47" stroke="#96612c"/><path d="M462.28,279.89L457.57,279.47L462.2,277.71L466.91,278.19Z" fill="#ef4c38" stroke="#942f23"/><path d="M443.6,283.27L438.9,283.26L443.53,281.1L448.23,281.16Z" fill="#f1703f" stroke="#954627"/><path d="M434.29,285.57L429.6,285.78L434.21,283.41L438.9,283.26Z" fill="#f28a43" stroke="#96562a"/><path d="M415.73,291.43L411.08,292.04L415.66,289.25L420.32,288.7Z" fill="#f5cf50" stroke="#988031"/><path d="M471.62,278.83L466.91,278.19L471.54,276.63L476.26,277.33Z" fill="#ef4136" stroke="#942922"/><path d="M452.93,281.37L448.23,281.16L452.86,279.2L457.57,279.47Z" fill="#f05b3b" stroke="#953925"/><path d="M424.99,288.3L420.32,288.7L424.92,286.13L429.6,285.78Z" fill="#f3aa49" stroke="#97692d"/><path d="M476.34,279.63L471.62,278.83L476.26,277.33L480.97,278.18Z" fill="#ee3d36" stroke="#942621"/><path d="M466.99,280.47L462.28,279.89L466.91,278.19L471.62,278.83Z" fill="#ef4537" stroke="#942a22"/><path d="M457.65,281.74L452.93,281.37L457.57,279.47L462.28,279.89Z" fill="#ef5139" stroke="#943223"/><path d="M448.31,283.42L443.6,283.27L448.23,281.16L452.93,281.37Z" fill="#f0633c" stroke="#953e26"/><path d="M438.98,285.52L434.29,285.57L438.9,283.26L443.6,283.27Z" fill="#f17b41" stroke="#954c28"/><path d="M429.68,288.04L424.99,288.3L429.6,285.78L434.29,285.57Z" fill="#f29846" stroke="#965e2b"/><path d="M420.4,290.97L415.73,291.43L420.32,288.7L424.99,288.3Z" fill="#f4ba4c" stroke="#97732f"/><path d="M411.15,294.32L406.5,294.98L411.08,292.04L415.73,291.43Z" fill="#f5e153" stroke="#988c33"/><path d="M471.71,281.22L466.99,280.47L471.62,278.83L476.34,279.63Z" fill="#ee3f36" stroke="#942721"/><path d="M453.02,283.73L448.31,283.42L452.93,281.37L457.65,281.74Z" fill="#f0593b" stroke="#953724"/><path d="M425.07,290.65L420.4,290.97L424.99,288.3L429.68,288.04Z" fill="#f3a749" stroke="#97672d"/><path d="M406.58,297.36L401.94,298.08L406.5,294.98L411.15,294.32Z" fill="#f3f256" stroke="#979635"/><path d="M481.05,280.59L476.34,279.63L480.97,278.18L485.68,279.2Z" fill="#ee3b35" stroke="#942421"/><path d="M462.36,282.26L457.65,281.74L462.28,279.89L466.99,280.47Z" fill="#ef4938" stroke="#942d23"/><path d="M443.68,285.62L438.98,285.52L443.6,283.27L448.31,283.42Z" fill="#f06d3e" stroke="#954427"/><path d="M434.37,287.93L429.68,288.04L434.29,285.57L438.98,285.52Z" fill="#f28743" stroke="#965429"/><path d="M415.81,293.8L411.15,294.32L415.73,291.43L420.4,290.97Z" fill="#f4cb4f" stroke="#987e31"/><path d="M485.76,281.72L481.05,280.59L485.68,279.2L490.39,280.39Z" fill="#ee3a35" stroke="#942421"/><path d="M476.42,282.12L471.71,281.22L476.34,279.63L481.05,280.59Z" fill="#ee3c35" stroke="#942521"/><path d="M467.08,282.95L462.36,282.26L466.99,280.47L471.71,281.22Z" fill="#ef4337" stroke="#942a22"/><path d="M457.73,284.2L453.02,283.73L457.65,281.74L462.36,282.26Z" fill="#ef5039" stroke="#943123"/><path d="M448.39,285.87L443.68,285.62L448.31,283.42L453.02,283.73Z" fill="#f0623c" stroke="#953c25"/><path d="M439.07,287.97L434.37,287.93L438.98,285.52L443.68,285.62Z" fill="#f17940" stroke="#954b28"/><path d="M429.76,290.48L425.07,290.65L429.68,288.04L434.37,287.93Z" fill="#f29545" stroke="#965d2b"/><path d="M420.48,293.42L415.81,293.8L420.4,290.97L425.07,290.65Z" fill="#f4b74b" stroke="#97722f"/><path d="M411.23,296.78L406.58,297.36L411.15,294.32L415.81,293.8Z" fill="#f5de52" stroke="#988a33"/><path d="M402.02,300.56L397.39,301.34L401.94,298.08L406.58,297.36Z" fill="#e0f255" stroke="#8b9635"/><path d="M490.47,283.01L485.76,281.72L490.39,280.39L495.09,281.74Z" fill="#ee3c35" stroke="#942521"/><path d="M471.79,283.79L467.08,282.95L471.71,281.22L476.42,282.12Z" fill="#ee3f36" stroke="#942721"/><path d="M462.45,284.82L457.73,284.2L462.36,282.26L467.08,282.95Z" fill="#ef4938" stroke="#942d23"/><path d="M443.77,288.16L439.07,287.97L443.68,285.62L448.39,285.87Z" fill="#f06c3e" stroke="#954326"/><path d="M425.16,293.2L420.48,293.42L425.07,290.65L429.76,290.48Z" fill="#f3a548" stroke="#97662d"/><path d="M415.89,296.35L411.23,296.78L415.81,293.8L420.48,293.42Z" fill="#f4c94f" stroke="#977d31"/><path d="M481.14,283.19L476.42,282.12L481.05,280.59L485.76,281.72Z" fill="#ee3b35" stroke="#942421"/><path d="M453.1,286.28L448.39,285.87L453.02,283.73L457.73,284.2Z" fill="#f0583a" stroke="#943624"/><path d="M434.45,290.47L429.76,290.48L434.37,287.93L439.07,287.97Z" fill="#f18643" stroke="#965329"/><path d="M406.66,299.92L402.02,300.56L406.58,297.36L411.23,296.78Z" fill="#f5f256" stroke="#989635"/><path d="M397.47,303.92L392.85,304.76L397.39,301.34L402.02,300.56Z" fill="#ccf255" stroke="#7e9634"/><path d="M485.85,284.43L481.14,283.19L485.76,281.72L490.47,283.01Z" fill="#ee3b35" stroke="#942521"/><path d="M467.16,285.61L462.45,284.82L467.08,282.95L471.79,283.79Z" fill="#ef4437" stroke="#942a22"/><path d="M457.82,286.85L453.1,286.28L457.73,284.2L462.45,284.82Z" fill="#ef5039" stroke="#943123"/><path d="M439.15,290.6L434.45,290.47L439.07,287.97L443.77,288.16Z" fill="#f17840" stroke="#954b28"/><path d="M420.57,296.06L415.89,296.35L420.48,293.42L425.16,293.2Z" fill="#f3b64b" stroke="#97712f"/><path d="M411.32,299.43L406.66,299.92L411.23,296.78L415.89,296.35Z" fill="#f5dd52" stroke="#988933"/><path d="M392.94,307.44L388.33,308.34L392.85,304.76L397.47,303.92Z" fill="#b6f154" stroke="#719634"/><path d="M495.18,284.48L490.47,283.01L495.09,281.74L499.79,283.26Z" fill="#ee3f36" stroke="#942721"/><path d="M476.51,284.81L471.79,283.79L476.42,282.12L481.14,283.19Z" fill="#ee3d36" stroke="#942621"/><path d="M448.48,288.51L443.77,288.16L448.39,285.87L453.1,286.28Z" fill="#f0613c" stroke="#953c25"/><path d="M429.85,293.12L425.16,293.2L429.76,290.48L434.45,290.47Z" fill="#f29445" stroke="#965c2b"/><path d="M402.1,303.23L397.47,303.92L402.02,300.56L406.66,299.92Z" fill="#e2f255" stroke="#8c9635"/><path d="M499.88,286.12L495.18,284.48L499.79,283.26L504.49,284.96Z" fill="#ef4437" stroke="#942a22"/><path d="M490.56,285.83L485.85,284.43L490.47,283.01L495.18,284.48Z" fill="#ee3e36" stroke="#942621"/><path d="M481.22,285.98L476.51,284.81L481.14,283.19L485.85,284.43Z" fill="#ee3c35" stroke="#942521"/><path d="M471.88,286.57L467.16,285.61L471.79,283.79L476.51,284.81Z" fill="#ef4036" stroke="#942822"/><path d="M462.54,287.58L457.82,286.85L462.45,284.82L467.16,285.61Z" fill="#ef4a38" stroke="#942e23"/><path d="M453.19,289.02L448.48,288.51L453.1,286.28L457.82,286.85Z" fill="#f0583b" stroke="#953724"/><path d="M443.86,290.9L439.15,290.6L443.77,288.16L448.48,288.51Z" fill="#f06c3e" stroke="#954327"/><path d="M434.54,293.2L429.85,293.12L434.45,290.47L439.15,290.6Z" fill="#f18643" stroke="#965329"/><path d="M425.25,295.93L420.57,296.06L425.16,293.2L429.85,293.12Z" fill="#f3a548" stroke="#97662d"/><path d="M415.98,299.09L411.32,299.43L415.89,296.35L420.57,296.06Z" fill="#f4c94f" stroke="#977c31"/><path d="M406.75,302.68L402.1,303.23L406.66,299.92L411.32,299.43Z" fill="#f6f256" stroke="#989635"/><path d="M397.56,306.69L392.94,307.44L397.47,303.92L402.1,303.23Z" fill="#cdf255" stroke="#7f9634"/><path d="M388.42,311.14L383.82,312.09L388.33,308.34L392.94,307.44Z" fill="#9ff153" stroke="#629533"/><path d="M504.57,287.93L499.88,286.12L504.49,284.96L509.17,286.83Z" fill="#ef4b38" stroke="#942f23"/><path d="M495.26,287.42L490.56,285.83L495.18,284.48L499.88,286.12Z" fill="#ef4236" stroke="#942922"/><path d="M485.94,287.34L481.22,285.98L485.85,284.43L490.56,285.83Z" fill="#ee3e36" stroke="#942621"/><path d="M476.6,287.69L471.88,286.57L476.51,284.81L481.22,285.98Z" fill="#ee3f36" stroke="#942721"/><path d="M467.25,288.48L462.54,287.58L467.16,285.61L471.88,286.57Z" fill="#ef4537" stroke="#942b22"/><path d="M457.91,289.7L453.19,289.02L457.82,286.85L462.54,287.58Z" fill="#ef5139" stroke="#943224"/><path d="M448.57,291.35L443.86,290.9L448.48,288.51L453.19,289.02Z" fill="#f0633c" stroke="#953d25"/><path d="M439.25,293.44L434.54,293.2L439.15,290.6L443.86,290.9Z" fill="#f17940" stroke="#954b28"/><path d="M429.94,295.96L425.25,295.93L429.85,293.12L434.54,293.2Z" fill="#f29545" stroke="#965d2b"/><path d="M420.66,298.9L415.98,299.09L420.57,296.06L425.25,295.93Z" fill="#f3b74b" stroke="#97712f"/><path d="M411.41,302.28L406.75,302.68L411.32,299.43L415.98,299.09Z" fill="#f5dd52" stroke="#988933"/><path d="M402.2,306.09L397.56,306.69L402.1,303.23L406.75,302.68Z" fill="#e2f255" stroke="#8c9635"/><path d="M393.03,310.33L388.42,311.14L392.94,307.44L397.56,306.69Z" fill="#b6f154" stroke="#719634"/><path d="M383.91,314.99L379.33,316L383.82,312.09L388.42,311.14Z" fill="#86f152" stroke="#539533"/><path d="M509.26,289.93L504.57,287.93L509.17,286.83L513.85,288.88Z" fill="#ef543a" stroke="#943424"/><path d="M499.96,289.17L495.26,287.42L499.88,286.12L504.57,287.93Z" fill="#ef4838" stroke="#942d22"/><path d="M490.65,288.86L485.94,287.34L490.56,285.83L495.26,287.42Z" fill="#ef4136" stroke="#942822"/><path d="M481.31,288.98L476.6,287.69L481.22,285.98L485.94,287.34Z" fill="#ee3f36" stroke="#942722"/><path d="M471.97,289.54L467.25,288.48L471.88,286.57L476.6,287.69Z" fill="#ef4337" stroke="#942a22"/><path d="M462.63,290.54L457.91,289.7L462.54,287.58L467.25,288.48Z" fill="#ef4c38" stroke="#942f23"/><path d="M453.29,291.97L448.57,291.35L453.19,289.02L457.91,289.7Z" fill="#f05b3b" stroke="#953825"/><path d="M443.96,293.83L439.25,293.44L443.86,290.9L448.57,291.35Z" fill="#f06f3e" stroke="#954527"/><path d="M434.64,296.13L429.94,295.96L434.54,293.2L439.25,293.44Z" fill="#f28843" stroke="#96542a"/><path d="M425.35,298.87L420.66,298.9L425.25,295.93L429.94,295.96Z" fill="#f3a648" stroke="#97672d"/><path d="M416.08,302.04L411.41,302.28L415.98,299.09L420.66,298.9Z" fill="#f4ca4f" stroke="#977d31"/><path d="M406.85,305.63L402.2,306.09L406.75,302.68L411.41,302.28Z" fill="#f5f256" stroke="#989635"/><path d="M397.66,309.67L393.03,310.33L397.56,306.69L402.2,306.09Z" fill="#ccf255" stroke="#7e9634"/><path d="M388.51,314.13L383.91,314.99L388.42,311.14L393.03,310.33Z" fill="#9ef153" stroke="#629533"/><path d="M379.42,319.02L374.85,320.09L379.33,316L383.91,314.99Z" fill="#6cf051" stroke="#439532"/><path d="M513.93,292.1L509.26,289.93L513.85,288.88L518.52,291.12Z" fill="#f05f3c" stroke="#953b25"/><path d="M504.65,291.11L499.96,289.17L504.57,287.93L509.26,289.93Z" fill="#ef5039" stroke="#943223"/><path d="M495.35,290.56L490.65,288.86L495.26,287.42L499.96,289.17Z" fill="#ef4637" stroke="#942c22"/><path d="M486.03,290.45L481.31,288.98L485.94,287.34L490.65,288.86Z" fill="#ef4236" stroke="#942922"/><path d="M467.35,291.54L462.63,290.54L467.25,288.48L471.97,289.54Z" fill="#ef4938" stroke="#942d23"/><path d="M458.01,292.75L453.29,291.97L457.91,289.7L462.63,290.54Z" fill="#ef553a" stroke="#943524"/><path d="M448.67,294.39L443.96,293.83L448.57,291.35L453.29,291.97Z" fill="#f0663d" stroke="#953f26"/><path d="M439.34,296.47L434.64,296.13L439.25,293.44L443.96,293.83Z" fill="#f17c41" stroke="#954d28"/><path d="M430.04,298.99L425.35,298.87L429.94,295.96L434.64,296.13Z" fill="#f29846" stroke="#965e2b"/><path d="M420.76,301.94L416.08,302.04L420.66,298.9L425.35,298.87Z" fill="#f4b94c" stroke="#97732f"/><path d="M402.3,309.15L397.66,309.67L402.2,306.09L406.85,305.63Z" fill="#e0f255" stroke="#8b9635"/><path d="M393.13,313.41L388.51,314.13L393.03,310.33L397.66,309.67Z" fill="#b5f154" stroke="#709634"/><path d="M384.01,318.1L379.42,319.02L383.91,314.99L388.51,314.13Z" fill="#85f152" stroke="#529533"/><path d="M374.95,323.22L370.39,324.35L374.85,320.09L379.42,319.02Z" fill="#50f050" stroke="#329532"/><path d="M476.69,290.78L471.97,289.54L476.6,287.69L481.31,288.98Z" fill="#ef4337" stroke="#942922"/><path d="M411.51,305.33L406.85,305.63L411.41,302.28L416.08,302.04Z" fill="#f5df53" stroke="#988a33"/><path d="M509.34,293.23L504.65,291.11L509.26,289.93L513.93,292.1Z" fill="#f05a3b" stroke="#953824"/><path d="M490.73,292.09L486.03,290.45L490.65,288.86L495.35,290.56Z" fill="#ef4637" stroke="#942c22"/><path d="M481.41,292.19L476.69,290.78L481.31,288.98L486.03,290.45Z" fill="#ef4437" stroke="#942a22"/><path d="M462.72,293.7L458.01,292.75L462.63,290.54L467.35,291.54Z" fill="#ef5139" stroke="#943223"/><path d="M444.06,296.97L439.34,296.47L443.96,293.83L448.67,294.39Z" fill="#f1723f" stroke="#954727"/><path d="M434.74,299.27L430.04,298.99L434.64,296.13L439.34,296.47Z" fill="#f28b44" stroke="#96562a"/><path d="M416.18,305.18L411.51,305.33L416.08,302.04L420.76,301.94Z" fill="#f4cd4f" stroke="#987f31"/><path d="M397.76,312.84L393.13,313.41L397.66,309.67L402.3,309.15Z" fill="#caf154" stroke="#7d9634"/><path d="M388.62,317.32L384.01,318.1L388.51,314.13L393.13,313.41Z" fill="#9df153" stroke="#619533"/><path d="M370.5,327.6L365.95,328.78L370.39,324.35L374.95,323.22Z" fill="#47ef5d" stroke="#2c9439"/><path d="M518.6,294.46L513.93,292.1L518.52,291.12L523.18,293.54Z" fill="#f06c3e" stroke="#954326"/><path d="M500.05,292.44L495.35,290.56L499.96,289.17L504.65,291.11Z" fill="#ef4d39" stroke="#943023"/><path d="M472.07,292.72L467.35,291.54L471.97,289.54L476.69,290.78Z" fill="#ef4838" stroke="#942d22"/><path d="M453.39,295.12L448.67,294.39L453.29,291.97L458.01,292.75Z" fill="#f05f3c" stroke="#953b25"/><path d="M425.45,302.01L420.76,301.94L425.35,298.87L430.04,298.99Z" fill="#f3a949" stroke="#97692d"/><path d="M406.95,308.79L402.3,309.15L406.85,305.63L411.51,305.33Z" fill="#f3f256" stroke="#969635"/><path d="M379.53,322.24L374.95,323.22L379.42,319.02L384.01,318.1Z" fill="#6af051" stroke="#429532"/><path d="M523.26,297.01L518.6,294.46L523.18,293.54L527.83,296.14Z" fill="#f17b41" stroke="#954c28"/><path d="M514.01,295.53L509.34,293.23L513.93,292.1L518.6,294.46Z" fill="#f0663d" stroke="#953f26"/><path d="M504.74,294.5L500.05,292.44L504.65,291.11L509.34,293.23Z" fill="#ef563a" stroke="#943624"/><path d="M495.44,293.91L490.73,292.09L495.35,290.56L500.05,292.44Z" fill="#ef4c38" stroke="#942f23"/><path d="M486.12,293.77L481.41,292.19L486.03,290.45L490.73,292.09Z" fill="#ef4838" stroke="#942c22"/><path d="M476.78,294.07L472.07,292.72L476.69,290.78L481.41,292.19Z" fill="#ef4838" stroke="#942d23"/><path d="M467.44,294.82L462.72,293.7L467.35,291.54L472.07,292.72Z" fill="#ef4e39" stroke="#943123"/><path d="M458.1,296.01L453.39,295.12L458.01,292.75L462.72,293.7Z" fill="#f05a3b" stroke="#953824"/><path d="M448.77,297.64L444.06,296.97L448.67,294.39L453.39,295.12Z" fill="#f06a3e" stroke="#954226"/><path d="M439.45,299.71L434.74,299.27L439.34,296.47L444.06,296.97Z" fill="#f18042" stroke="#965029"/><path d="M430.14,302.23L425.45,302.01L430.04,298.99L434.74,299.27Z" fill="#f29c47" stroke="#96612c"/><path d="M420.87,305.19L416.18,305.18L420.76,301.94L425.45,302.01Z" fill="#f4bd4c" stroke="#97752f"/><path d="M411.62,308.58L406.95,308.79L411.51,305.33L416.18,305.18Z" fill="#f5e353" stroke="#988c34"/><path d="M402.41,312.42L397.76,312.84L402.3,309.15L406.95,308.79Z" fill="#ddf255" stroke="#899635"/><path d="M393.24,316.69L388.62,317.32L393.13,313.41L397.76,312.84Z" fill="#b2f154" stroke="#6f9634"/><path d="M384.12,321.41L379.53,322.24L384.01,318.1L388.62,317.32Z" fill="#83f152" stroke="#519533"/><path d="M375.06,326.56L370.5,327.6L374.95,323.22L379.53,322.24Z" fill="#4ef050" stroke="#319532"/><path d="M366.06,332.15L361.53,333.39L365.95,328.78L370.5,327.6Z" fill="#45ed6f" stroke="#2b9345"/><path d="M527.9,299.75L523.26,297.01L527.83,296.14L532.46,298.94Z" fill="#f28b44" stroke="#96562a"/><path d="M518.68,298.02L514.01,295.53L518.6,294.46L523.26,297.01Z" fill="#f1743f" stroke="#954827"/><path d="M509.42,296.75L504.74,294.5L509.34,293.23L514.01,295.53Z" fill="#f0613c" stroke="#953c25"/><path d="M500.13,295.92L495.44,293.91L500.05,292.44L504.74,294.5Z" fill="#ef553a" stroke="#943424"/><path d="M490.83,295.53L486.12,293.77L490.73,292.09L495.44,293.91Z" fill="#ef4d38" stroke="#943023"/><path d="M481.5,295.6L476.78,294.07L481.41,292.19L486.12,293.77Z" fill="#ef4b38" stroke="#942e23"/><path d="M472.16,296.11L467.44,294.82L472.07,292.72L476.78,294.07Z" fill="#ef4e39" stroke="#943023"/><path d="M462.82,297.07L458.1,296.01L462.72,293.7L467.44,294.82Z" fill="#ef573a" stroke="#943624"/><path d="M453.49,298.47L448.77,297.64L453.39,295.12L458.1,296.01Z" fill="#f0643d" stroke="#953e26"/><path d="M444.16,300.32L439.45,299.71L444.06,296.97L448.77,297.64Z" fill="#f17840" stroke="#954a28"/><path d="M434.85,302.62L430.14,302.23L434.74,299.27L439.45,299.71Z" fill="#f29045" stroke="#96592a"/><path d="M425.56,305.35L420.87,305.19L425.45,302.01L430.14,302.23Z" fill="#f3ae4a" stroke="#976c2e"/><path d="M416.29,308.53L411.62,308.58L416.18,305.18L420.87,305.19Z" fill="#f5d150" stroke="#988232"/><path d="M407.06,312.15L402.41,312.42L406.95,308.79L411.62,308.58Z" fill="#eff256" stroke="#949635"/><path d="M397.88,316.22L393.24,316.69L397.76,312.84L402.41,312.42Z" fill="#c7f154" stroke="#7b9634"/><path d="M388.73,320.72L384.12,321.41L388.62,317.32L393.24,316.69Z" fill="#99f153" stroke="#5f9533"/><path d="M379.64,325.67L375.06,326.56L379.53,322.24L384.12,321.41Z" fill="#67f051" stroke="#409532"/><path d="M370.61,331.05L366.06,332.15L370.5,327.6L375.06,326.56Z" fill="#47ef5e" stroke="#2c943a"/><path d="M361.65,336.88L357.13,338.17L361.53,333.39L366.06,332.15Z" fill="#43eb83" stroke="#2a9251"/><path d="M532.54,302.68L527.9,299.75L532.46,298.94L537.09,301.93Z" fill="#f29e47" stroke="#96622c"/><path d="M523.34,300.7L518.68,298.02L523.26,297.01L527.9,299.75Z" fill="#f18342" stroke="#965129"/><path d="M514.1,299.18L509.42,296.75L514.01,295.53L518.68,298.02Z" fill="#f06e3e" stroke="#954427"/><path d="M504.82,298.1L500.13,295.92L504.74,294.5L509.42,296.75Z" fill="#f05f3c" stroke="#953b25"/><path d="M495.53,297.48L490.83,295.53L495.44,293.91L500.13,295.92Z" fill="#ef543a" stroke="#943424"/><path d="M486.21,297.31L481.5,295.6L486.12,293.77L490.83,295.53Z" fill="#ef4f39" stroke="#943123"/><path d="M476.88,297.58L472.16,296.11L476.78,294.07L481.5,295.6Z" fill="#ef5039" stroke="#943123"/><path d="M467.54,298.31L462.82,297.07L467.44,294.82L472.16,296.11Z" fill="#ef553a" stroke="#943524"/><path d="M458.21,299.48L453.49,298.47L458.1,296.01L462.82,297.07Z" fill="#f0603c" stroke="#953c25"/><path d="M448.88,301.1L444.16,300.32L448.77,297.64L453.49,298.47Z" fill="#f1713f" stroke="#954627"/><path d="M439.56,303.17L434.85,302.62L439.45,299.71L444.16,300.32Z" fill="#f18743" stroke="#965329"/><path d="M430.25,305.68L425.56,305.35L430.14,302.23L434.85,302.62Z" fill="#f3a248" stroke="#96642c"/><path d="M420.98,308.64L416.29,308.53L420.87,305.19L425.56,305.35Z" fill="#f4c24d" stroke="#977830"/><path d="M411.73,312.04L407.06,312.15L411.62,308.58L416.29,308.53Z" fill="#f6e854" stroke="#989034"/><path d="M402.52,315.89L397.88,316.22L402.41,312.42L407.06,312.15Z" fill="#d9f255" stroke="#879635"/><path d="M393.36,320.19L388.73,320.72L393.24,316.69L397.88,316.22Z" fill="#aef154" stroke="#6c9634"/><path d="M384.24,324.92L379.64,325.67L384.12,321.41L388.73,320.72Z" fill="#7ff152" stroke="#4f9533"/><path d="M375.18,330.1L370.61,331.05L375.06,326.56L379.64,325.67Z" fill="#4bf050" stroke="#2e9532"/><path d="M366.18,335.72L361.65,336.88L366.06,332.15L370.61,331.05Z" fill="#45ed71" stroke="#2b9346"/><path d="M357.25,341.79L352.75,343.14L357.13,338.17L361.65,336.88Z" fill="#41e997" stroke="#28905e"/><path d="M472.26,299.72L467.54,298.31L472.16,296.11L476.88,297.58Z" fill="#ef563a" stroke="#943524"/><path d="M425.67,308.91L420.98,308.64L425.56,305.35L430.25,305.68Z" fill="#f3b54b" stroke="#97702f"/><path d="M527.98,303.58L523.34,300.7L527.9,299.75L532.54,302.68Z" fill="#f29545" stroke="#965c2b"/><path d="M518.76,301.8L514.1,299.18L518.68,298.02L523.34,300.7Z" fill="#f17d41" stroke="#954d28"/><path d="M509.5,300.48L504.82,298.1L509.42,296.75L514.1,299.18Z" fill="#f06a3e" stroke="#954226"/><path d="M500.22,299.61L495.53,297.48L500.13,295.92L504.82,298.1Z" fill="#f05d3b" stroke="#953a25"/><path d="M481.6,299.23L476.88,297.58L481.5,295.6L486.21,297.31Z" fill="#ef533a" stroke="#943424"/><path d="M462.93,300.66L458.21,299.48L462.82,297.07L467.54,298.31Z" fill="#f05e3c" stroke="#953a25"/><path d="M453.59,302.05L448.88,301.1L453.49,298.47L458.21,299.48Z" fill="#f06c3e" stroke="#954326"/><path d="M416.41,312.09L411.73,312.04L416.29,308.53L420.98,308.64Z" fill="#f5d851" stroke="#988632"/><path d="M407.18,315.73L402.52,315.89L407.06,312.15L411.73,312.04Z" fill="#eaf256" stroke="#919635"/><path d="M398,319.8L393.36,320.19L397.88,316.22L402.52,315.89Z" fill="#c2f154" stroke="#789634"/><path d="M379.77,329.3L375.18,330.1L379.64,325.67L384.24,324.92Z" fill="#63f051" stroke="#3d9532"/><path d="M370.74,334.72L366.18,335.72L370.61,331.05L375.18,330.1Z" fill="#46ee61" stroke="#2c943c"/><path d="M361.77,340.57L357.25,341.79L361.65,336.88L366.18,335.72Z" fill="#43eb85" stroke="#299252"/><path d="M490.92,299.19L486.21,297.31L490.83,295.53L495.53,297.48Z" fill="#ef563a" stroke="#943524"/><path d="M444.27,303.88L439.56,303.17L444.16,300.32L448.88,301.1Z" fill="#f17f41" stroke="#964f29"/><path d="M434.96,306.17L430.25,305.68L434.85,302.62L439.56,303.17Z" fill="#f29746" stroke="#965e2b"/><path d="M388.85,324.33L384.24,324.92L388.73,320.72L393.36,320.19Z" fill="#95f153" stroke="#5c9533"/><path d="M514.18,303.04L509.5,300.48L514.1,299.18L518.76,301.8Z" fill="#f17840" stroke="#954b28"/><path d="M486.31,301.06L481.6,299.23L486.21,297.31L490.92,299.19Z" fill="#f0583b" stroke="#953724"/><path d="M467.65,302.01L462.93,300.66L467.54,298.31L472.26,299.72Z" fill="#f05e3c" stroke="#953a25"/><path d="M458.31,303.17L453.59,302.05L458.21,299.48L462.93,300.66Z" fill="#f0693d" stroke="#954126"/><path d="M421.1,312.31L416.41,312.09L420.98,308.64L425.67,308.91Z" fill="#f4c94f" stroke="#977d31"/><path d="M411.85,315.72L407.18,315.73L411.73,312.04L416.41,312.09Z" fill="#f6ef55" stroke="#989435"/><path d="M393.48,323.89L388.85,324.33L393.36,320.19L398,319.8Z" fill="#a9f153" stroke="#699534"/><path d="M366.31,339.51L361.77,340.57L366.18,335.72L370.74,334.72Z" fill="#44ec74" stroke="#2a9348"/><path d="M523.41,304.62L518.76,301.8L523.34,300.7L527.98,303.58Z" fill="#f28e44" stroke="#96582a"/><path d="M504.91,301.93L500.22,299.61L504.82,298.1L509.5,300.48Z" fill="#f0683d" stroke="#954126"/><path d="M495.62,301.27L490.92,299.19L495.53,297.48L500.22,299.61Z" fill="#f05e3b" stroke="#953a25"/><path d="M476.98,301.31L472.26,299.72L476.88,297.58L481.6,299.23Z" fill="#f0593b" stroke="#953724"/><path d="M448.99,304.77L444.27,303.88L448.88,301.1L453.59,302.05Z" fill="#f17940" stroke="#954b28"/><path d="M439.67,306.83L434.96,306.17L439.56,303.17L444.27,303.88Z" fill="#f28e44" stroke="#96582a"/><path d="M430.37,309.34L425.67,308.91L430.25,305.68L434.96,306.17Z" fill="#f3a949" stroke="#97692d"/><path d="M402.65,319.58L398,319.8L402.52,315.89L407.18,315.73Z" fill="#d3f255" stroke="#839635"/><path d="M384.37,328.65L379.77,329.3L384.24,324.92L388.85,324.33Z" fill="#7af152" stroke="#4b9533"/><path d="M375.31,333.86L370.74,334.72L375.18,330.1L379.77,329.3Z" fill="#48f051" stroke="#2d9532"/><path d="M518.84,305.8L514.18,303.04L518.76,301.8L523.41,304.62Z" fill="#f28843" stroke="#96542a"/><path d="M500.31,303.53L495.62,301.27L500.22,299.61L504.91,301.93Z" fill="#f0683d" stroke="#954026"/><path d="M491.01,303.07L486.31,301.06L490.92,299.19L495.62,301.27Z" fill="#f0603c" stroke="#953b25"/><path d="M481.69,303.08L476.98,301.31L481.6,299.23L486.31,301.06Z" fill="#f05d3b" stroke="#953a25"/><path d="M472.37,303.54L467.65,302.01L472.26,299.72L476.98,301.31Z" fill="#f0603c" stroke="#953b25"/><path d="M463.03,304.46L458.31,303.17L462.93,300.66L467.65,302.01Z" fill="#f0683d" stroke="#954026"/><path d="M453.7,305.84L448.99,304.77L453.59,302.05L458.31,303.17Z" fill="#f17540" stroke="#954827"/><path d="M444.38,307.66L439.67,306.83L444.27,303.88L448.99,304.77Z" fill="#f28743" stroke="#96542a"/><path d="M435.08,309.95L430.37,309.34L434.96,306.17L439.67,306.83Z" fill="#f39f47" stroke="#96632c"/><path d="M425.79,312.68L421.1,312.31L425.67,308.91L430.37,309.34Z" fill="#f4bd4c" stroke="#97752f"/><path d="M416.53,315.87L411.85,315.72L416.41,312.09L421.1,312.31Z" fill="#f5df53" stroke="#988b33"/><path d="M407.31,319.51L402.65,319.58L407.18,315.73L411.85,315.72Z" fill="#e3f255" stroke="#8d9635"/><path d="M398.12,323.61L393.48,323.89L398,319.8L402.65,319.58Z" fill="#bbf154" stroke="#749634"/><path d="M379.9,333.15L375.31,333.86L379.77,329.3L384.37,328.65Z" fill="#5df051" stroke="#3a9532"/><path d="M370.87,338.59L366.31,339.51L370.74,334.72L375.31,333.86Z" fill="#46ee64" stroke="#2b943e"/><path d="M509.59,304.43L504.91,301.93L509.5,300.48L514.18,303.04Z" fill="#f17540" stroke="#954927"/><path d="M388.99,328.15L384.37,328.65L388.85,324.33L393.48,323.89Z" fill="#8ef152" stroke="#589533"/><path d="M514.26,307.13L509.59,304.43L514.18,303.04L518.84,305.8Z" fill="#f18442" stroke="#965229"/><path d="M505,305.97L500.31,303.53L504.91,301.93L509.59,304.43Z" fill="#f1743f" stroke="#954827"/><path d="M495.71,305.28L491.01,303.07L495.62,301.27L500.31,303.53Z" fill="#f0693d" stroke="#954126"/><path d="M486.4,305.04L481.69,303.08L486.31,301.06L491.01,303.07Z" fill="#f0633c" stroke="#953e25"/><path d="M477.08,305.26L472.37,303.54L476.98,301.31L481.69,303.08Z" fill="#f0633c" stroke="#953d25"/><path d="M467.75,305.94L463.03,304.46L467.65,302.01L472.37,303.54Z" fill="#f0683d" stroke="#954126"/><path d="M458.42,307.07L453.7,305.84L458.31,303.17L463.03,304.46Z" fill="#f1733f" stroke="#954727"/><path d="M449.1,308.67L444.38,307.66L448.99,304.77L453.7,305.84Z" fill="#f18342" stroke="#965129"/><path d="M439.79,310.72L435.08,309.95L439.67,306.83L444.38,307.66Z" fill="#f29846" stroke="#965e2b"/><path d="M430.49,313.23L425.79,312.68L430.37,309.34L435.08,309.95Z" fill="#f3b24b" stroke="#976e2e"/><path d="M421.22,316.19L416.53,315.87L421.1,312.31L425.79,312.68Z" fill="#f5d250" stroke="#988232"/><path d="M411.98,319.61L407.31,319.51L411.85,315.72L416.53,315.87Z" fill="#f1f256" stroke="#969635"/><path d="M402.78,323.48L398.12,323.61L402.65,319.58L407.31,319.51Z" fill="#ccf255" stroke="#7e9634"/><path d="M393.62,327.81L388.99,328.15L393.48,323.89L398.12,323.61Z" fill="#a2f153" stroke="#649534"/><path d="M384.5,332.59L379.9,333.15L384.37,328.65L388.99,328.15Z" fill="#73f051" stroke="#479533"/><path d="M375.45,337.82L370.87,338.59L375.31,333.86L379.9,333.15Z" fill="#47ef55" stroke="#2c9435"/><path d="M509.67,308.62L505,305.97L509.59,304.43L514.26,307.13Z" fill="#f18242" stroke="#965029"/><path d="M500.4,307.67L495.71,305.28L500.31,303.53L505,305.97Z" fill="#f1743f" stroke="#954827"/><path d="M491.1,307.18L486.4,305.04L491.01,303.07L495.71,305.28Z" fill="#f06c3e" stroke="#954326"/><path d="M481.79,307.15L477.08,305.26L481.69,303.08L486.4,305.04Z" fill="#f0693d" stroke="#954126"/><path d="M472.47,307.59L467.75,305.94L472.37,303.54L477.08,305.26Z" fill="#f06b3e" stroke="#954226"/><path d="M463.14,308.49L458.42,307.07L463.03,304.46L467.75,305.94Z" fill="#f1733f" stroke="#954727"/><path d="M453.82,309.85L449.1,308.67L453.7,305.84L458.42,307.07Z" fill="#f18042" stroke="#964f29"/><path d="M444.5,311.67L439.79,310.72L444.38,307.66L449.1,308.67Z" fill="#f29245" stroke="#965a2b"/><path d="M435.2,313.94L430.49,313.23L435.08,309.95L439.79,310.72Z" fill="#f3aa49" stroke="#97692d"/><path d="M425.92,316.68L421.22,316.19L425.79,312.68L430.49,313.23Z" fill="#f4c74e" stroke="#977b31"/><path d="M416.66,319.87L411.98,319.61L416.53,315.87L421.22,316.19Z" fill="#f6e954" stroke="#989034"/><path d="M407.44,323.52L402.78,323.48L407.31,319.51L411.98,319.61Z" fill="#dbf255" stroke="#889635"/><path d="M398.26,327.63L393.62,327.81L398.12,323.61L402.78,323.48Z" fill="#b3f154" stroke="#6f9634"/><path d="M389.12,332.19L384.5,332.59L388.99,328.15L393.62,327.81Z" fill="#87f152" stroke="#549533"/><path d="M380.04,337.21L375.45,337.82L379.9,333.15L384.5,332.59Z" fill="#56f050" stroke="#359532"/><path d="M505.08,310.25L500.4,307.67L505,305.97L509.67,308.62Z" fill="#f18142" stroke="#965029"/><path d="M495.8,309.51L491.1,307.18L495.71,305.28L500.4,307.67Z" fill="#f17640" stroke="#954928"/><path d="M486.5,309.24L481.79,307.15L486.4,305.04L491.1,307.18Z" fill="#f1703f" stroke="#954527"/><path d="M477.18,309.43L472.47,307.59L477.08,305.26L481.79,307.15Z" fill="#f06f3f" stroke="#954527"/><path d="M449.22,312.79L444.5,311.67L449.1,308.67L453.82,309.85Z" fill="#f28e44" stroke="#96582a"/><path d="M439.91,314.83L435.2,313.94L439.79,310.72L444.5,311.67Z" fill="#f3a348" stroke="#96652d"/><path d="M430.62,317.33L425.92,316.68L430.49,313.23L435.2,313.94Z" fill="#f4bd4d" stroke="#97752f"/><path d="M402.92,327.61L398.26,327.63L402.78,323.48L407.44,323.52Z" fill="#c3f154" stroke="#799634"/><path d="M393.76,331.95L389.12,332.19L393.62,327.81L398.26,327.63Z" fill="#99f153" stroke="#5f9533"/><path d="M384.65,336.75L380.04,337.21L384.5,332.59L389.12,332.19Z" fill="#6bf051" stroke="#429532"/><path d="M467.86,310.09L463.14,308.49L467.75,305.94L472.47,307.59Z" fill="#f1743f" stroke="#954827"/><path d="M458.54,311.21L453.82,309.85L458.42,307.07L463.14,308.49Z" fill="#f17e41" stroke="#964e28"/><path d="M421.35,320.3L416.66,319.87L421.22,316.19L425.92,316.68Z" fill="#f5dd52" stroke="#988933"/><path d="M412.12,323.72L407.44,323.52L411.98,319.61L416.66,319.87Z" fill="#e8f256" stroke="#909635"/><path d="M491.2,311.51L486.5,309.24L491.1,307.18L495.8,309.51Z" fill="#f17940" stroke="#954b28"/><path d="M444.62,315.89L439.91,314.83L444.5,311.67L449.22,312.79Z" fill="#f29e47" stroke="#96622c"/><path d="M435.33,318.16L430.62,317.33L435.2,313.94L439.91,314.83Z" fill="#f3b54b" stroke="#97702f"/><path d="M389.27,336.46L384.65,336.75L389.12,332.19L393.76,331.95Z" fill="#7ef152" stroke="#4e9533"/><path d="M500.49,312.04L495.8,309.51L500.4,307.67L505.08,310.25Z" fill="#f18242" stroke="#965029"/><path d="M481.89,311.46L477.18,309.43L481.79,307.15L486.5,309.24Z" fill="#f17640" stroke="#954928"/><path d="M472.58,311.87L467.86,310.09L472.47,307.59L477.18,309.43Z" fill="#f17840" stroke="#954a28"/><path d="M463.26,312.75L458.54,311.21L463.14,308.49L467.86,310.09Z" fill="#f17f41" stroke="#964f29"/><path d="M453.94,314.09L449.22,312.79L453.82,309.85L458.54,311.21Z" fill="#f28c44" stroke="#96572a"/><path d="M426.05,320.9L421.35,320.3L425.92,316.68L430.62,317.33Z" fill="#f5d250" stroke="#988232"/><path d="M416.8,324.09L412.12,323.72L416.66,319.87L421.35,320.3Z" fill="#f4f256" stroke="#979635"/><path d="M407.58,327.75L402.92,327.61L407.44,323.52L412.12,323.72Z" fill="#d1f255" stroke="#829635"/><path d="M398.4,331.87L393.76,331.95L398.26,327.63L402.92,327.61Z" fill="#aaf153" stroke="#699534"/><path d="M495.89,313.98L491.2,311.51L495.8,309.51L500.49,312.04Z" fill="#f18442" stroke="#965229"/><path d="M477.29,313.84L472.58,311.87L477.18,309.43L481.89,311.46Z" fill="#f17d41" stroke="#954e28"/><path d="M467.97,314.47L463.26,312.75L467.86,310.09L472.58,311.87Z" fill="#f18242" stroke="#965029"/><path d="M458.65,315.57L453.94,314.09L458.54,311.21L463.26,312.75Z" fill="#f28c44" stroke="#96572a"/><path d="M449.34,317.14L444.62,315.89L449.22,312.79L453.94,314.09Z" fill="#f29b46" stroke="#96602c"/><path d="M440.04,319.17L435.33,318.16L439.91,314.83L444.62,315.89Z" fill="#f3af4a" stroke="#976d2e"/><path d="M430.75,321.67L426.05,320.9L430.62,317.33L435.33,318.16Z" fill="#f4c94f" stroke="#977d31"/><path d="M421.49,324.63L416.8,324.09L421.35,320.3L426.05,320.9Z" fill="#f6e954" stroke="#989034"/><path d="M403.06,331.96L398.4,331.87L402.92,327.61L407.58,327.75Z" fill="#b9f154" stroke="#739634"/><path d="M393.91,336.32L389.27,336.46L393.76,331.95L398.4,331.87Z" fill="#8ff152" stroke="#599533"/><path d="M486.6,313.68L481.89,311.46L486.5,309.24L491.2,311.51Z" fill="#f17e41" stroke="#954e28"/><path d="M412.26,328.07L407.58,327.75L412.12,323.72L416.8,324.09Z" fill="#def255" stroke="#8a9635"/><path d="M491.3,316.08L486.6,313.68L491.2,311.51L495.89,313.98Z" fill="#f28843" stroke="#96542a"/><path d="M482,316L477.29,313.84L481.89,311.46L486.6,313.68Z" fill="#f18542" stroke="#965229"/><path d="M472.69,316.38L467.97,314.47L472.58,311.87L477.29,313.84Z" fill="#f18643" stroke="#965329"/><path d="M463.37,317.23L458.65,315.57L463.26,312.75L467.97,314.47Z" fill="#f28d44" stroke="#96582a"/><path d="M454.06,318.56L449.34,317.14L453.94,314.09L458.65,315.57Z" fill="#f29a46" stroke="#965f2c"/><path d="M444.75,320.35L440.04,319.17L444.62,315.89L449.34,317.14Z" fill="#f3ac49" stroke="#976a2e"/><path d="M435.46,322.62L430.75,321.67L435.33,318.16L440.04,319.17Z" fill="#f4c34e" stroke="#977930"/><path d="M426.19,325.35L421.49,324.63L426.05,320.9L430.75,321.67Z" fill="#f5df53" stroke="#988a33"/><path d="M416.94,328.55L412.26,328.07L416.8,324.09L421.49,324.63Z" fill="#e9f256" stroke="#909635"/><path d="M407.73,332.21L403.06,331.96L407.58,327.75L412.26,328.07Z" fill="#c6f154" stroke="#7b9634"/><path d="M398.56,336.35L393.91,336.32L398.4,331.87L403.06,331.96Z" fill="#9ff153" stroke="#639533"/><path d="M486.7,318.35L482,316L486.6,313.68L491.3,316.08Z" fill="#f28e44" stroke="#96582a"/><path d="M477.4,318.48L472.69,316.38L477.29,313.84L482,316Z" fill="#f28d44" stroke="#96572a"/><path d="M468.09,319.09L463.37,317.23L467.97,314.47L472.69,316.38Z" fill="#f29145" stroke="#965a2b"/><path d="M458.78,320.17L454.06,318.56L458.65,315.57L463.37,317.23Z" fill="#f29b46" stroke="#96602c"/><path d="M449.47,321.72L444.75,320.35L449.34,317.14L454.06,318.56Z" fill="#f3aa49" stroke="#97692d"/><path d="M440.17,323.74L435.46,322.62L440.04,319.17L444.75,320.35Z" fill="#f4be4d" stroke="#977630"/><path d="M430.89,326.24L426.19,325.35L430.75,321.67L435.46,322.62Z" fill="#f5d751" stroke="#988632"/><path d="M421.63,329.2L416.94,328.55L421.49,324.63L426.19,325.35Z" fill="#f2f256" stroke="#969635"/><path d="M412.41,332.64L407.73,332.21L412.26,328.07L416.94,328.55Z" fill="#d2f255" stroke="#829635"/><path d="M403.22,336.54L398.56,336.35L403.06,331.96L407.73,332.21Z" fill="#adf153" stroke="#6b9634"/><path d="M463.49,321.96L458.78,320.17L463.37,317.23L468.09,319.09Z" fill="#f29d47" stroke="#96622c"/><path d="M454.18,323.27L449.47,321.72L454.06,318.56L458.78,320.17Z" fill="#f3a949" stroke="#97692d"/><path d="M426.33,330.03L421.63,329.2L426.19,325.35L430.89,326.24Z" fill="#f6ee55" stroke="#989335"/><path d="M417.09,333.23L412.41,332.64L416.94,328.55L421.63,329.2Z" fill="#dcf255" stroke="#889635"/><path d="M482.1,320.77L477.4,318.48L482,316L486.7,318.35Z" fill="#f29545" stroke="#965c2b"/><path d="M472.8,321.13L468.09,319.09L472.69,316.38L477.4,318.48Z" fill="#f29746" stroke="#965d2b"/><path d="M444.88,325.05L440.17,323.74L444.75,320.35L449.47,321.72Z" fill="#f4bb4c" stroke="#97742f"/><path d="M435.6,327.3L430.89,326.24L435.46,322.62L440.17,323.74Z" fill="#f5d250" stroke="#988232"/><path d="M407.88,336.91L403.22,336.54L407.73,332.21L412.41,332.64Z" fill="#baf154" stroke="#739634"/><path d="M477.51,323.36L472.8,321.13L477.4,318.48L482.1,320.77Z" fill="#f29e47" stroke="#96622c"/><path d="M468.2,323.94L463.49,321.96L468.09,319.09L472.8,321.13Z" fill="#f3a248" stroke="#96642c"/><path d="M458.9,325L454.18,323.27L458.78,320.17L463.49,321.96Z" fill="#f3ab49" stroke="#976a2d"/><path d="M449.6,326.54L444.88,325.05L449.47,321.72L454.18,323.27Z" fill="#f4ba4c" stroke="#97732f"/><path d="M440.31,328.55L435.6,327.3L440.17,323.74L444.88,325.05Z" fill="#f4ce50" stroke="#988031"/><path d="M431.03,331.04L426.33,330.03L430.89,326.24L435.6,327.3Z" fill="#f6e754" stroke="#988f34"/><path d="M421.78,334.01L417.09,333.23L421.63,329.2L426.33,330.03Z" fill="#e4f255" stroke="#8e9635"/><path d="M412.56,337.45L407.88,336.91L412.41,332.64L417.09,333.23Z" fill="#c5f154" stroke="#7a9634"/><path d="M472.91,326.12L468.2,323.94L472.8,321.13L477.51,323.36Z" fill="#f3a849" stroke="#97682d"/><path d="M454.31,328.22L449.6,326.54L454.18,323.27L458.9,325Z" fill="#f4bb4c" stroke="#97742f"/><path d="M445.02,329.98L440.31,328.55L444.88,325.05L449.6,326.54Z" fill="#f4cc4f" stroke="#987e31"/><path d="M417.25,338.16L412.56,337.45L417.09,333.23L421.78,334.01Z" fill="#cef255" stroke="#809634"/><path d="M435.74,332.23L431.03,331.04L435.6,327.3L440.31,328.55Z" fill="#f5e253" stroke="#988c34"/><path d="M463.61,326.93L458.9,325L463.49,321.96L468.2,323.94Z" fill="#f3af4a" stroke="#976c2e"/><path d="M426.48,334.96L421.78,334.01L426.33,330.03L431.03,331.04Z" fill="#ebf256" stroke="#929635"/><path d="M468.32,329.04L463.61,326.93L468.2,323.94L472.91,326.12Z" fill="#f3b44b" stroke="#97702e"/><path d="M449.73,331.6L445.02,329.98L449.6,326.54L454.31,328.22Z" fill="#f4cc4f" stroke="#987e31"/><path d="M440.45,333.61L435.74,332.23L440.31,328.55L445.02,329.98Z" fill="#f5e053" stroke="#988b33"/><path d="M431.18,336.09L426.48,334.96L431.03,331.04L435.74,332.23Z" fill="#f0f256" stroke="#959635"/><path d="M421.94,339.05L417.25,338.16L421.78,334.01L426.48,334.96Z" fill="#d5f255" stroke="#849635"/><path d="M459.03,330.08L454.31,328.22L458.9,325L463.61,326.93Z" fill="#f4bd4d" stroke="#97752f"/><path d="M463.74,332.14L459.03,330.08L463.61,326.93L468.32,329.04Z" fill="#f4c24d" stroke="#977830"/><path d="M454.45,333.41L449.73,331.6L454.31,328.22L459.03,330.08Z" fill="#f4ce50" stroke="#988031"/><path d="M445.16,335.17L440.45,333.61L445.02,329.98L449.73,331.6Z" fill="#f5df53" stroke="#988a33"/><path d="M435.89,337.4L431.18,336.09L435.74,332.23L440.45,333.61Z" fill="#f4f256" stroke="#979635"/><path d="M426.64,340.13L421.94,339.05L426.48,334.96L431.18,336.09Z" fill="#dbf255" stroke="#889635"/><path d="M459.16,335.41L454.45,333.41L459.03,330.08L463.74,332.14Z" fill="#f5d150" stroke="#988232"/><path d="M449.87,336.92L445.16,335.17L449.73,331.6L454.45,333.41Z" fill="#f5df53" stroke="#988b33"/><path d="M440.6,338.91L435.89,337.4L440.45,333.61L445.16,335.17Z" fill="#f5f256" stroke="#989635"/><path d="M431.34,341.38L426.64,340.13L431.18,336.09L435.89,337.4Z" fill="#dff255" stroke="#8a9635"/><path d="M454.58,338.86L449.87,336.92L454.45,333.41L459.16,335.41Z" fill="#f5e253" stroke="#988c34"/><path d="M445.31,340.6L440.6,338.91L445.16,335.17L449.87,336.92Z" fill="#f5f256" stroke="#989635"/><path d="M436.04,342.83L431.34,341.38L435.89,337.4L440.6,338.91Z" fill="#e2f255" stroke="#8c9635"/><path d="M450.02,342.48L445.31,340.6L449.87,336.92L454.58,338.86Z" fill="#f4f256" stroke="#979635"/><path d="M440.75,344.46L436.04,342.83L440.6,338.91L445.31,340.6Z" fill="#e3f255" stroke="#8d9635"/><path d="M445.46,346.28L440.75,344.46L445.31,340.6L450.02,342.48Z" fill="#e2f255" stroke="#8c9635"/></g>
<g fill="#bb0a12"><ellipse cx="444.0" cy="293.4" rx="1.9" ry="2.2"/><ellipse cx="444.0" cy="297.6" rx="1.9" ry="2.2"/><rect x="442.5" y="294.0" width="3" height="3"/></g>
<g text-anchor="middle" stroke="#1b2f4b" stroke-width="0.3"><text font-size="8.75" transform="translate(318.5,327.6) rotate(-90)" y="2.62">Hardness (HV)</text><text font-size="6.6" transform="translate(382.5,440.4) rotate(28.3) scale(1,1.2)" y="1.98">Spray Distance (inch)</text><text font-size="6.05" transform="translate(511.0,435.0) rotate(-30.2) scale(1,1.2)" y="1.81">Oxygen Flow Rate (slpm)</text><text x="434.8" y="481.5" font-size="14" fill="#111" stroke="none"><tspan font-weight="normal">(</tspan>d<tspan font-weight="normal">)</tspan></text></g></g></svg></body></html>
